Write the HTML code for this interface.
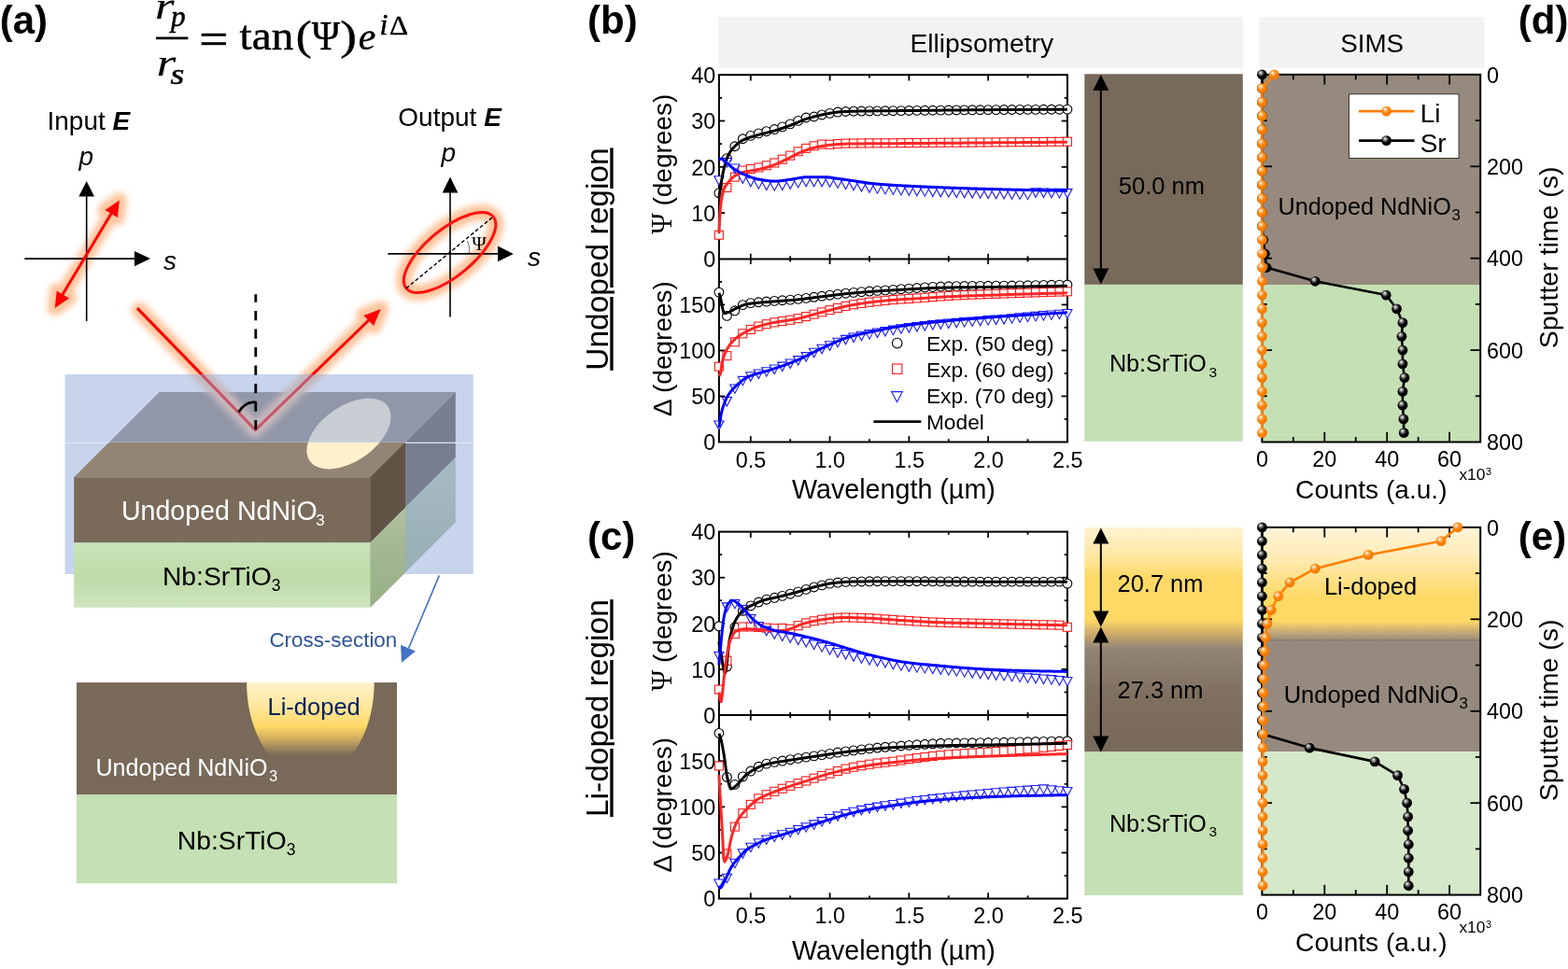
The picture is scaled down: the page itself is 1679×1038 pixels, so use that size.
<!DOCTYPE html>
<html><head><meta charset="utf-8"><title>Ellipsometry and SIMS of Li-doped NdNiO3</title>
<style>html,body{margin:0;padding:0;background:#fff;overflow:hidden}svg{display:block}</style></head>
<body><svg width="1679" height="1038" viewBox="0 0 1679 1038"><defs>
<filter id="glow" x="-30%" y="-30%" width="160%" height="160%"><feGaussianBlur stdDeviation="3.0"/></filter>
<linearGradient id="gfront" x1="0" y1="0" x2="0" y2="1">
 <stop offset="0" stop-color="#c9e3b9"/><stop offset="0.55" stop-color="#bedba8"/><stop offset="1" stop-color="#cfe6c0"/></linearGradient>
<linearGradient id="lig" gradientUnits="userSpaceOnUse" x1="0" y1="731" x2="0" y2="809">
 <stop offset="0" stop-color="#fff2cc"/><stop offset="0.35" stop-color="#ffe699"/><stop offset="0.6" stop-color="#ffd966"/><stop offset="0.8" stop-color="#c8a55e"/><stop offset="1" stop-color="#786959"/></linearGradient>
<linearGradient id="gblockc" gradientUnits="userSpaceOnUse" x1="0" y1="565" x2="0" y2="805.4">
 <stop offset="0" stop-color="#fff3d1"/><stop offset="0.12" stop-color="#ffe8a6"/><stop offset="0.22" stop-color="#ffd966"/><stop offset="0.41" stop-color="#ffd966"/><stop offset="0.48" stop-color="#c8a76a"/><stop offset="0.54" stop-color="#938576"/><stop offset="0.75" stop-color="#7e6f60"/><stop offset="1" stop-color="#776859"/></linearGradient>
<linearGradient id="gsimse" gradientUnits="userSpaceOnUse" x1="0" y1="564.9" x2="0" y2="685.8">
 <stop offset="0" stop-color="#fff4d9"/><stop offset="0.25" stop-color="#ffecb8"/><stop offset="0.5" stop-color="#ffdf80"/><stop offset="0.62" stop-color="#ffd966"/><stop offset="0.83" stop-color="#ffd966"/><stop offset="0.92" stop-color="#caae74"/><stop offset="1" stop-color="#9a8b7c"/></linearGradient>
<radialGradient id="gli" cx="0.42" cy="0.4" r="0.6" fx="0.35" fy="0.3">
 <stop offset="0" stop-color="#ffffff"/><stop offset="0.3" stop-color="#ffb366"/><stop offset="0.6" stop-color="#ff8000"/><stop offset="1" stop-color="#f07800"/></radialGradient>
<radialGradient id="gsr" cx="0.42" cy="0.4" r="0.6" fx="0.35" fy="0.3">
 <stop offset="0" stop-color="#ffffff"/><stop offset="0.3" stop-color="#777777"/><stop offset="0.6" stop-color="#000000"/><stop offset="1" stop-color="#000000"/></radialGradient>
<linearGradient id="gright" gradientUnits="userSpaceOnUse" x1="0" y1="520" x2="0" y2="650">
 <stop offset="0" stop-color="#b9c6a6"/><stop offset="0.45" stop-color="#a5b994"/><stop offset="1" stop-color="#97b086"/></linearGradient>
<clipPath id="frontclip"><polygon points="0,473.9 433.9,473.9 433.9,700 0,700"/></clipPath>
<clipPath id="ellclip_b"><rect x="769.3" y="80.2" width="373.3" height="393.3"/></clipPath>
</defs><text x="-0.30" y="35.80" font-size="42" text-anchor="start" fill="#000" font-weight="bold" font-style="normal" font-family="'Liberation Sans', Arial, sans-serif" >(a)</text>
<line x1="167.1" y1="40.8" x2="201.4" y2="40.8" stroke="#000" stroke-width="2.7"/>
<text transform="matrix(0.5370,0,0,0.4170,165.70,19.70)" font-size="100" font-family="'Liberation Serif', 'Times New Roman', serif" font-style="italic">r</text>
<text transform="matrix(0.3130,0,0,0.3160,183.00,27.70)" font-size="100" font-family="'Liberation Serif', 'Times New Roman', serif" font-style="italic" stroke="#000" stroke-width="1.8">p</text>
<text transform="matrix(0.5370,0,0,0.4170,167.50,81.00)" font-size="100" font-family="'Liberation Serif', 'Times New Roman', serif" font-style="italic">r</text>
<text transform="matrix(0.3800,0,0,0.3250,182.50,89.90)" font-size="100" font-family="'Liberation Serif', 'Times New Roman', serif" font-style="italic" stroke="#000" stroke-width="1.8">s</text>
<text transform="matrix(0.5530,0,0,0.4640,213.20,56.60)" font-size="100" font-family="'Liberation Serif', 'Times New Roman', serif" font-style="normal" stroke="#000" stroke-width="1.4">=</text>
<text transform="matrix(0.4725,0,0,0.4456,256.60,52.90)" font-size="100" font-family="'Liberation Serif', 'Times New Roman', serif" font-style="normal" stroke="#000" stroke-width="1.0">tan</text>
<text transform="matrix(0.5100,0,0,0.4400,316.80,53.30)" font-size="100" font-family="'Liberation Serif', 'Times New Roman', serif" font-style="normal" stroke="#000" stroke-width="1.0">(</text>
<text transform="matrix(0.4110,0,0,0.4350,333.80,53.30)" font-size="100" font-family="'Liberation Serif', 'Times New Roman', serif" font-style="normal" stroke="#000" stroke-width="1.0">&#936;</text>
<text transform="matrix(0.5300,0,0,0.4400,364.20,53.30)" font-size="100" font-family="'Liberation Serif', 'Times New Roman', serif" font-style="normal" stroke="#000" stroke-width="1.0">)</text>
<text transform="matrix(0.4180,0,0,0.4100,383.70,53.40)" font-size="100" font-family="'Liberation Serif', 'Times New Roman', serif" font-style="italic" stroke="#000" stroke-width="1.0">e</text>
<text transform="matrix(0.3200,0,0,0.3200,406.40,37.20)" font-size="100" font-family="'Liberation Serif', 'Times New Roman', serif" font-style="italic" stroke="#000" stroke-width="1.5">i</text>
<text transform="matrix(0.3120,0,0,0.2940,417.00,37.20)" font-size="100" font-family="'Liberation Serif', 'Times New Roman', serif" font-style="normal" stroke="#000" stroke-width="1.5">&#916;</text>
<text x="50.50" y="139.30" font-size="28" text-anchor="start" fill="#000" font-weight="normal" font-style="normal" font-family="'Liberation Sans', Arial, sans-serif" >Input <tspan font-weight="bold" font-style="italic">E</tspan></text>
<g filter="url(#glow)" stroke="#ffc59e" fill="#ffc59e" stroke-width="16" stroke-linejoin="round" stroke-linecap="round"><line x1="62" y1="324" x2="125" y2="220"/><polygon points="127.90,214.40 125.83,232.97 112.52,225.01"/><polygon points="58.70,330.10 60.77,311.53 74.08,319.49"/></g>
<line x1="92.7" y1="208" x2="92.7" y2="344" stroke="#000" stroke-width="1.6"/>
<polygon points="92.7,194 84.4,210.5 101,210.5" fill="#000"/>
<line x1="26.3" y1="277.1" x2="146" y2="277.1" stroke="#000" stroke-width="1.6"/>
<polygon points="161,277.1 144,269 144,285.2" fill="#000"/>
<text x="84.50" y="177.00" font-size="28" text-anchor="start" fill="#000" font-weight="normal" font-style="italic" font-family="'Liberation Sans', Arial, sans-serif" >p</text>
<text x="175.00" y="288.60" font-size="28" text-anchor="start" fill="#000" font-weight="normal" font-style="italic" font-family="'Liberation Sans', Arial, sans-serif" >s</text>
<line x1="64" y1="320.5" x2="122" y2="224" stroke="#ff0000" stroke-width="3"/>
<polygon points="127.90,214.40 125.83,232.97 112.52,225.01" fill="#ff0000"/>
<polygon points="58.70,330.10 60.77,311.53 74.08,319.49" fill="#ff0000"/>
<text x="426.30" y="134.80" font-size="28" text-anchor="start" fill="#000" font-weight="normal" font-style="normal" font-family="'Liberation Sans', Arial, sans-serif" >Output <tspan font-weight="bold" font-style="italic">E</tspan></text>
<g filter="url(#glow)"><ellipse cx="481.6" cy="270.5" rx="60.3" ry="25" transform="rotate(-39.5 481.6 270.5)" fill="none" stroke="#ffc59e" stroke-width="17"/></g>
<line x1="482" y1="205" x2="482" y2="339.5" stroke="#000" stroke-width="1.6"/>
<polygon points="482,189.6 473.7,206.4 490.3,206.4" fill="#000"/>
<line x1="415.3" y1="271.9" x2="535" y2="271.9" stroke="#000" stroke-width="1.6"/>
<polygon points="549.8,271.9 533,263.6 533,280.2" fill="#000"/>
<ellipse cx="481.6" cy="270.5" rx="60.3" ry="25" transform="rotate(-39.5 481.6 270.5)" fill="none" stroke="#ff1010" stroke-width="3"/>
<line x1="434.9" y1="308.9" x2="528.2" y2="232" stroke="#000" stroke-width="1.4" stroke-dasharray="4,2.4"/>
<path d="M 500.5 258.5 A 20 20 0 0 1 502 272" fill="none" stroke="#000" stroke-width="1.2" stroke-dasharray="1,1.3"/>
<text x="505.30" y="267.80" font-size="21" text-anchor="start" fill="#000" font-weight="normal" font-style="normal" font-family="'Liberation Serif', 'Times New Roman', serif" >&#936;</text>
<text x="472.50" y="172.60" font-size="28" text-anchor="start" fill="#000" font-weight="normal" font-style="italic" font-family="'Liberation Sans', Arial, sans-serif" >p</text>
<text x="565.00" y="284.60" font-size="28" text-anchor="start" fill="#000" font-weight="normal" font-style="italic" font-family="'Liberation Sans', Arial, sans-serif" >s</text>
<g><polygon points="79.2,511.4 396.3,511.4 487.8,420.1 170.6,420.1" fill="#938576"/><polygon points="396.3,511.4 487.8,420.1 487.8,490 396.3,581.3" fill="#605345"/><polygon points="396.3,581.3 487.8,490 487.8,559.6 396.3,650.8" fill="url(#gright)"/><ellipse cx="373.5" cy="464.5" rx="51" ry="29.5" transform="rotate(-35 373.5 464.5)" fill="#fff0cc"/></g>
<g filter="url(#glow)" stroke="#ffc59e" fill="none" stroke-width="17" stroke-linejoin="round" stroke-linecap="round"><polyline points="149,332 273.4,460.5 401.5,336.5"/><g fill="#ffc59e"><polygon points="407.80,331.00 400.22,349.07 389.46,337.91"/></g></g>
<polyline points="147,330.2 273.4,460.5 397.5,340.5" fill="none" stroke="#ff0000" stroke-width="3.1"/>
<polygon points="407.80,331.00 400.22,349.07 389.46,337.91" fill="#ff0000"/>
<rect x="69.5" y="401" width="437.3" height="214" fill="#8fa9d9" fill-opacity="0.5"/>
<line x1="69.5" y1="474.4" x2="506.8" y2="474.4" stroke="#dfe6f3" stroke-width="1.2"/>
<g clip-path="url(#frontclip)"><polygon points="79.2,511.4 396.3,511.4 487.8,420.1 170.6,420.1" fill="#938576"/><polygon points="396.3,511.4 487.8,420.1 487.8,490 396.3,581.3" fill="#605345"/><polygon points="396.3,581.3 487.8,490 487.8,559.6 396.3,650.8" fill="url(#gright)"/><ellipse cx="373.5" cy="464.5" rx="51" ry="29.5" transform="rotate(-35 373.5 464.5)" fill="#fff0cc"/></g>
<line x1="273.8" y1="460.3" x2="273.8" y2="315.3" stroke="#000" stroke-width="2.8" stroke-dasharray="10.4,9.1"/>
<path d="M 255.6 441.4 Q 262 431.2 271 430.9 L 274.5 430.9" fill="none" stroke="#000" stroke-width="2.8"/>
<rect x="79.2" y="511.4" width="317.1" height="70" fill="#7a6a5a"/>
<rect x="79.2" y="581.3" width="317.1" height="69.5" fill="url(#gfront)"/>
<text x="129.90" y="556.70" font-size="28.6" text-anchor="start" fill="#fff" font-weight="normal" font-style="normal" font-family="'Liberation Sans', Arial, sans-serif" >Undoped NdNiO<tspan font-size="17" dy="6.2" dx="-1.5">3</tspan></text>
<text x="173.90" y="626.70" font-size="28.3" text-anchor="start" fill="#000" font-weight="normal" font-style="normal" font-family="'Liberation Sans', Arial, sans-serif" >Nb:SrTiO<tspan font-size="17.5" dy="6.3">3</tspan></text>
<line x1="470.4" y1="616.4" x2="437.5" y2="694.5" stroke="#4472c4" stroke-width="1.6"/>
<polygon points="430.1,709.7 429.0,690.8 445.0,697.5" fill="#4472c4"/>
<text x="288.40" y="692.90" font-size="22.4" text-anchor="start" fill="#2f5597" font-weight="normal" font-style="normal" font-family="'Liberation Sans', Arial, sans-serif" >Cross-section</text>
<rect x="82" y="731.1" width="343" height="120.3" fill="#786959"/>
<rect x="82" y="851.4" width="343" height="94.8" fill="#c5e0b4"/>
<path d="M 264.1 731.1 A 68.3 102 0 0 0 400.7 731.1 Z" fill="url(#lig)"/>
<text x="286.50" y="766.20" font-size="25.5" text-anchor="start" fill="#002060" font-weight="normal" font-style="normal" font-family="'Liberation Sans', Arial, sans-serif" >Li-doped</text>
<text x="102.40" y="831.30" font-size="25.1" text-anchor="start" fill="#fff" font-weight="normal" font-style="normal" font-family="'Liberation Sans', Arial, sans-serif" >Undoped NdNiO<tspan font-size="16" dy="5.2" dx="1.6">3</tspan></text>
<text x="189.80" y="909.80" font-size="28.3" text-anchor="start" fill="#000" font-weight="normal" font-style="normal" font-family="'Liberation Sans', Arial, sans-serif" >Nb:SrTiO<tspan font-size="17.5" dy="6.4">3</tspan></text>
<rect x="769.2" y="18.3" width="561.6" height="54.5" fill="#f2f2f2"/>
<rect x="1348.3" y="18.3" width="241.2" height="54.5" fill="#f2f2f2"/>
<text x="1051.30" y="56.10" font-size="28.2" text-anchor="middle" fill="#000" font-weight="normal" font-style="normal" font-family="'Liberation Sans', Arial, sans-serif" >Ellipsometry</text>
<text x="1469.20" y="56.30" font-size="27.8" text-anchor="middle" fill="#000" font-weight="normal" font-style="normal" font-family="'Liberation Sans', Arial, sans-serif" >SIMS</text>
<rect x="1161.3" y="79.3" width="169.5" height="225.6" fill="#786a5a"/>
<rect x="1161.3" y="304.9" width="169.5" height="167.8" fill="#c5e0b4"/>
<rect x="1161.3" y="565" width="169.5" height="240.4" fill="url(#gblockc)"/>
<rect x="1161.3" y="805.4" width="169.5" height="153.6" fill="#c5e0b4"/>
<line x1="1178.8" y1="94" x2="1178.8" y2="290.5" stroke="#000" stroke-width="2"/>
<polygon points="1178.8,80 1170.3,97 1187.3,97" fill="#000"/>
<polygon points="1178.8,304.5 1170.3,287.5 1187.3,287.5" fill="#000"/>
<line x1="1178.8" y1="579.5" x2="1178.8" y2="657.4" stroke="#000" stroke-width="2"/>
<polygon points="1178.8,565.5 1170.3,582.5 1187.3,582.5" fill="#000"/>
<polygon points="1178.8,671.4 1170.3,654.4 1187.3,654.4" fill="#000"/>
<line x1="1178.8" y1="685.4" x2="1178.8" y2="791.4" stroke="#000" stroke-width="2"/>
<polygon points="1178.8,671.4 1170.3,688.4 1187.3,688.4" fill="#000"/>
<polygon points="1178.8,805.4 1170.3,788.4 1187.3,788.4" fill="#000"/>
<text x="1197.80" y="207.70" font-size="25.5" text-anchor="start" fill="#000" font-weight="normal" font-style="normal" font-family="'Liberation Sans', Arial, sans-serif" >50.0 nm</text>
<text x="1196.60" y="633.90" font-size="25.4" text-anchor="start" fill="#000" font-weight="normal" font-style="normal" font-family="'Liberation Sans', Arial, sans-serif" >20.7 nm</text>
<text x="1196.60" y="747.80" font-size="25.4" text-anchor="start" fill="#000" font-weight="normal" font-style="normal" font-family="'Liberation Sans', Arial, sans-serif" >27.3 nm</text>
<rect x="769.90" y="80.20" width="373.00" height="393.30" fill="none" stroke="#000" stroke-width="2.0"/>
<line x1="769.90" y1="277.40" x2="1142.90" y2="277.40" stroke="#000" stroke-width="2.0"/>
<line x1="803.81" y1="80.20" x2="803.81" y2="86.50" stroke="#000" stroke-width="1.8"/>
<line x1="803.81" y1="473.50" x2="803.81" y2="467.20" stroke="#000" stroke-width="1.8"/>
<line x1="803.81" y1="271.80" x2="803.81" y2="283.00" stroke="#000" stroke-width="1.8"/>
<line x1="846.20" y1="80.20" x2="846.20" y2="83.40" stroke="#000" stroke-width="1.8"/>
<line x1="846.20" y1="473.50" x2="846.20" y2="470.30" stroke="#000" stroke-width="1.8"/>
<line x1="846.20" y1="274.30" x2="846.20" y2="280.50" stroke="#000" stroke-width="1.8"/>
<line x1="888.58" y1="80.20" x2="888.58" y2="86.50" stroke="#000" stroke-width="1.8"/>
<line x1="888.58" y1="473.50" x2="888.58" y2="467.20" stroke="#000" stroke-width="1.8"/>
<line x1="888.58" y1="271.80" x2="888.58" y2="283.00" stroke="#000" stroke-width="1.8"/>
<line x1="930.97" y1="80.20" x2="930.97" y2="83.40" stroke="#000" stroke-width="1.8"/>
<line x1="930.97" y1="473.50" x2="930.97" y2="470.30" stroke="#000" stroke-width="1.8"/>
<line x1="930.97" y1="274.30" x2="930.97" y2="280.50" stroke="#000" stroke-width="1.8"/>
<line x1="973.35" y1="80.20" x2="973.35" y2="86.50" stroke="#000" stroke-width="1.8"/>
<line x1="973.35" y1="473.50" x2="973.35" y2="467.20" stroke="#000" stroke-width="1.8"/>
<line x1="973.35" y1="271.80" x2="973.35" y2="283.00" stroke="#000" stroke-width="1.8"/>
<line x1="1015.74" y1="80.20" x2="1015.74" y2="83.40" stroke="#000" stroke-width="1.8"/>
<line x1="1015.74" y1="473.50" x2="1015.74" y2="470.30" stroke="#000" stroke-width="1.8"/>
<line x1="1015.74" y1="274.30" x2="1015.74" y2="280.50" stroke="#000" stroke-width="1.8"/>
<line x1="1058.13" y1="80.20" x2="1058.13" y2="86.50" stroke="#000" stroke-width="1.8"/>
<line x1="1058.13" y1="473.50" x2="1058.13" y2="467.20" stroke="#000" stroke-width="1.8"/>
<line x1="1058.13" y1="271.80" x2="1058.13" y2="283.00" stroke="#000" stroke-width="1.8"/>
<line x1="1100.51" y1="80.20" x2="1100.51" y2="83.40" stroke="#000" stroke-width="1.8"/>
<line x1="1100.51" y1="473.50" x2="1100.51" y2="470.30" stroke="#000" stroke-width="1.8"/>
<line x1="1100.51" y1="274.30" x2="1100.51" y2="280.50" stroke="#000" stroke-width="1.8"/>
<line x1="769.90" y1="252.75" x2="773.10" y2="252.75" stroke="#000" stroke-width="1.8"/>
<line x1="1142.90" y1="252.75" x2="1139.70" y2="252.75" stroke="#000" stroke-width="1.8"/>
<line x1="769.90" y1="228.10" x2="776.20" y2="228.10" stroke="#000" stroke-width="1.8"/>
<line x1="1142.90" y1="228.10" x2="1136.60" y2="228.10" stroke="#000" stroke-width="1.8"/>
<line x1="769.90" y1="203.45" x2="773.10" y2="203.45" stroke="#000" stroke-width="1.8"/>
<line x1="1142.90" y1="203.45" x2="1139.70" y2="203.45" stroke="#000" stroke-width="1.8"/>
<line x1="769.90" y1="178.80" x2="776.20" y2="178.80" stroke="#000" stroke-width="1.8"/>
<line x1="1142.90" y1="178.80" x2="1136.60" y2="178.80" stroke="#000" stroke-width="1.8"/>
<line x1="769.90" y1="154.15" x2="773.10" y2="154.15" stroke="#000" stroke-width="1.8"/>
<line x1="1142.90" y1="154.15" x2="1139.70" y2="154.15" stroke="#000" stroke-width="1.8"/>
<line x1="769.90" y1="129.50" x2="776.20" y2="129.50" stroke="#000" stroke-width="1.8"/>
<line x1="1142.90" y1="129.50" x2="1136.60" y2="129.50" stroke="#000" stroke-width="1.8"/>
<line x1="769.90" y1="104.85" x2="773.10" y2="104.85" stroke="#000" stroke-width="1.8"/>
<line x1="1142.90" y1="104.85" x2="1139.70" y2="104.85" stroke="#000" stroke-width="1.8"/>
<line x1="769.90" y1="448.99" x2="773.10" y2="448.99" stroke="#000" stroke-width="1.8"/>
<line x1="1142.90" y1="448.99" x2="1139.70" y2="448.99" stroke="#000" stroke-width="1.8"/>
<line x1="769.90" y1="424.48" x2="776.20" y2="424.48" stroke="#000" stroke-width="1.8"/>
<line x1="1142.90" y1="424.48" x2="1136.60" y2="424.48" stroke="#000" stroke-width="1.8"/>
<line x1="769.90" y1="399.96" x2="773.10" y2="399.96" stroke="#000" stroke-width="1.8"/>
<line x1="1142.90" y1="399.96" x2="1139.70" y2="399.96" stroke="#000" stroke-width="1.8"/>
<line x1="769.90" y1="375.45" x2="776.20" y2="375.45" stroke="#000" stroke-width="1.8"/>
<line x1="1142.90" y1="375.45" x2="1136.60" y2="375.45" stroke="#000" stroke-width="1.8"/>
<line x1="769.90" y1="350.94" x2="773.10" y2="350.94" stroke="#000" stroke-width="1.8"/>
<line x1="1142.90" y1="350.94" x2="1139.70" y2="350.94" stroke="#000" stroke-width="1.8"/>
<line x1="769.90" y1="326.42" x2="776.20" y2="326.42" stroke="#000" stroke-width="1.8"/>
<line x1="1142.90" y1="326.42" x2="1136.60" y2="326.42" stroke="#000" stroke-width="1.8"/>
<line x1="769.90" y1="301.91" x2="773.10" y2="301.91" stroke="#000" stroke-width="1.8"/>
<line x1="1142.90" y1="301.91" x2="1139.70" y2="301.91" stroke="#000" stroke-width="1.8"/>
<text x="766.30" y="286.10" font-size="23.4" text-anchor="end" fill="#000" font-weight="normal" font-style="normal" font-family="'Liberation Sans', Arial, sans-serif" >0</text>
<text x="766.30" y="236.80" font-size="23.4" text-anchor="end" fill="#000" font-weight="normal" font-style="normal" font-family="'Liberation Sans', Arial, sans-serif" >10</text>
<text x="766.30" y="187.50" font-size="23.4" text-anchor="end" fill="#000" font-weight="normal" font-style="normal" font-family="'Liberation Sans', Arial, sans-serif" >20</text>
<text x="766.30" y="138.20" font-size="23.4" text-anchor="end" fill="#000" font-weight="normal" font-style="normal" font-family="'Liberation Sans', Arial, sans-serif" >30</text>
<text x="766.30" y="88.90" font-size="23.4" text-anchor="end" fill="#000" font-weight="normal" font-style="normal" font-family="'Liberation Sans', Arial, sans-serif" >40</text>
<text x="766.30" y="482.20" font-size="23.4" text-anchor="end" fill="#000" font-weight="normal" font-style="normal" font-family="'Liberation Sans', Arial, sans-serif" >0</text>
<text x="766.30" y="433.18" font-size="23.4" text-anchor="end" fill="#000" font-weight="normal" font-style="normal" font-family="'Liberation Sans', Arial, sans-serif" >50</text>
<text x="766.30" y="384.15" font-size="23.4" text-anchor="end" fill="#000" font-weight="normal" font-style="normal" font-family="'Liberation Sans', Arial, sans-serif" >100</text>
<text x="766.30" y="335.12" font-size="23.4" text-anchor="end" fill="#000" font-weight="normal" font-style="normal" font-family="'Liberation Sans', Arial, sans-serif" >150</text>
<text x="804.11" y="500.80" font-size="23.4" text-anchor="middle" fill="#000" font-weight="normal" font-style="normal" font-family="'Liberation Sans', Arial, sans-serif" >0.5</text>
<text x="888.88" y="500.80" font-size="23.4" text-anchor="middle" fill="#000" font-weight="normal" font-style="normal" font-family="'Liberation Sans', Arial, sans-serif" >1.0</text>
<text x="973.65" y="500.80" font-size="23.4" text-anchor="middle" fill="#000" font-weight="normal" font-style="normal" font-family="'Liberation Sans', Arial, sans-serif" >1.5</text>
<text x="1058.43" y="500.80" font-size="23.4" text-anchor="middle" fill="#000" font-weight="normal" font-style="normal" font-family="'Liberation Sans', Arial, sans-serif" >2.0</text>
<text x="1143.20" y="500.80" font-size="23.4" text-anchor="middle" fill="#000" font-weight="normal" font-style="normal" font-family="'Liberation Sans', Arial, sans-serif" >2.5</text>
<text x="956.90" y="534.30" font-size="28.7" text-anchor="middle" fill="#000" font-weight="normal" font-style="normal" font-family="'Liberation Sans', Arial, sans-serif" >Wavelength (&#181;m)</text>
<text transform="translate(719.2,175.80) rotate(-90)" text-anchor="middle" font-size="28" font-family="'Liberation Sans', Arial, sans-serif"><tspan font-family="'Liberation Serif', 'Times New Roman', serif" font-size="30.5">&#936;</tspan> (degrees)</text>
<text transform="translate(719.2,373.50) rotate(-90)" text-anchor="middle" font-size="28" font-family="'Liberation Sans', Arial, sans-serif">&#916; (degrees)</text>
<circle cx="769.90" cy="206.90" r="4.90" fill="#fff" stroke="#000" stroke-width="1.1"/>
<circle cx="778.38" cy="169.69" r="4.90" fill="#fff" stroke="#000" stroke-width="1.1"/>
<circle cx="786.85" cy="156.77" r="4.90" fill="#fff" stroke="#000" stroke-width="1.1"/>
<circle cx="795.33" cy="148.73" r="4.90" fill="#fff" stroke="#000" stroke-width="1.1"/>
<circle cx="803.81" cy="145.38" r="4.90" fill="#fff" stroke="#000" stroke-width="1.1"/>
<circle cx="812.29" cy="142.91" r="4.90" fill="#fff" stroke="#000" stroke-width="1.1"/>
<circle cx="820.76" cy="140.71" r="4.90" fill="#fff" stroke="#000" stroke-width="1.1"/>
<circle cx="829.24" cy="138.57" r="4.90" fill="#fff" stroke="#000" stroke-width="1.1"/>
<circle cx="837.72" cy="135.87" r="4.90" fill="#fff" stroke="#000" stroke-width="1.1"/>
<circle cx="846.20" cy="132.83" r="4.90" fill="#fff" stroke="#000" stroke-width="1.1"/>
<circle cx="854.67" cy="129.39" r="4.90" fill="#fff" stroke="#000" stroke-width="1.1"/>
<circle cx="863.15" cy="126.00" r="4.90" fill="#fff" stroke="#000" stroke-width="1.1"/>
<circle cx="871.63" cy="124.98" r="4.90" fill="#fff" stroke="#000" stroke-width="1.1"/>
<circle cx="880.10" cy="122.97" r="4.90" fill="#fff" stroke="#000" stroke-width="1.1"/>
<circle cx="888.58" cy="121.33" r="4.90" fill="#fff" stroke="#000" stroke-width="1.1"/>
<circle cx="897.06" cy="120.07" r="4.90" fill="#fff" stroke="#000" stroke-width="1.1"/>
<circle cx="905.54" cy="119.52" r="4.90" fill="#fff" stroke="#000" stroke-width="1.1"/>
<circle cx="914.01" cy="119.21" r="4.90" fill="#fff" stroke="#000" stroke-width="1.1"/>
<circle cx="922.49" cy="119.04" r="4.90" fill="#fff" stroke="#000" stroke-width="1.1"/>
<circle cx="930.97" cy="118.93" r="4.90" fill="#fff" stroke="#000" stroke-width="1.1"/>
<circle cx="939.45" cy="118.84" r="4.90" fill="#fff" stroke="#000" stroke-width="1.1"/>
<circle cx="947.92" cy="118.77" r="4.90" fill="#fff" stroke="#000" stroke-width="1.1"/>
<circle cx="956.40" cy="118.69" r="4.90" fill="#fff" stroke="#000" stroke-width="1.1"/>
<circle cx="964.88" cy="118.60" r="4.90" fill="#fff" stroke="#000" stroke-width="1.1"/>
<circle cx="973.35" cy="118.51" r="4.90" fill="#fff" stroke="#000" stroke-width="1.1"/>
<circle cx="981.83" cy="118.41" r="4.90" fill="#fff" stroke="#000" stroke-width="1.1"/>
<circle cx="990.31" cy="118.32" r="4.90" fill="#fff" stroke="#000" stroke-width="1.1"/>
<circle cx="998.79" cy="118.23" r="4.90" fill="#fff" stroke="#000" stroke-width="1.1"/>
<circle cx="1007.26" cy="118.14" r="4.90" fill="#fff" stroke="#000" stroke-width="1.1"/>
<circle cx="1015.74" cy="118.05" r="4.90" fill="#fff" stroke="#000" stroke-width="1.1"/>
<circle cx="1024.22" cy="117.96" r="4.90" fill="#fff" stroke="#000" stroke-width="1.1"/>
<circle cx="1032.70" cy="117.88" r="4.90" fill="#fff" stroke="#000" stroke-width="1.1"/>
<circle cx="1041.17" cy="117.80" r="4.90" fill="#fff" stroke="#000" stroke-width="1.1"/>
<circle cx="1049.65" cy="117.73" r="4.90" fill="#fff" stroke="#000" stroke-width="1.1"/>
<circle cx="1058.13" cy="117.67" r="4.90" fill="#fff" stroke="#000" stroke-width="1.1"/>
<circle cx="1066.60" cy="117.61" r="4.90" fill="#fff" stroke="#000" stroke-width="1.1"/>
<circle cx="1075.08" cy="117.55" r="4.90" fill="#fff" stroke="#000" stroke-width="1.1"/>
<circle cx="1083.56" cy="117.50" r="4.90" fill="#fff" stroke="#000" stroke-width="1.1"/>
<circle cx="1092.04" cy="117.45" r="4.90" fill="#fff" stroke="#000" stroke-width="1.1"/>
<circle cx="1100.51" cy="117.41" r="4.90" fill="#fff" stroke="#000" stroke-width="1.1"/>
<circle cx="1108.99" cy="117.36" r="4.90" fill="#fff" stroke="#000" stroke-width="1.1"/>
<circle cx="1117.47" cy="117.31" r="4.90" fill="#fff" stroke="#000" stroke-width="1.1"/>
<circle cx="1125.95" cy="117.27" r="4.90" fill="#fff" stroke="#000" stroke-width="1.1"/>
<circle cx="1134.42" cy="117.22" r="4.90" fill="#fff" stroke="#000" stroke-width="1.1"/>
<circle cx="1142.90" cy="117.17" r="4.90" fill="#fff" stroke="#000" stroke-width="1.1"/>
<rect x="765.40" y="247.26" width="9.00" height="9.00" fill="#fff" stroke="#ff1a1a" stroke-width="1.1"/>
<rect x="773.88" y="196.48" width="9.00" height="9.00" fill="#fff" stroke="#ff1a1a" stroke-width="1.1"/>
<rect x="782.35" y="185.15" width="9.00" height="9.00" fill="#fff" stroke="#ff1a1a" stroke-width="1.1"/>
<rect x="790.83" y="178.11" width="9.00" height="9.00" fill="#fff" stroke="#ff1a1a" stroke-width="1.1"/>
<rect x="799.31" y="176.51" width="9.00" height="9.00" fill="#fff" stroke="#ff1a1a" stroke-width="1.1"/>
<rect x="807.79" y="174.98" width="9.00" height="9.00" fill="#fff" stroke="#ff1a1a" stroke-width="1.1"/>
<rect x="816.26" y="172.77" width="9.00" height="9.00" fill="#fff" stroke="#ff1a1a" stroke-width="1.1"/>
<rect x="824.74" y="169.98" width="9.00" height="9.00" fill="#fff" stroke="#ff1a1a" stroke-width="1.1"/>
<rect x="833.22" y="166.26" width="9.00" height="9.00" fill="#fff" stroke="#ff1a1a" stroke-width="1.1"/>
<rect x="841.70" y="162.18" width="9.00" height="9.00" fill="#fff" stroke="#ff1a1a" stroke-width="1.1"/>
<rect x="850.17" y="157.76" width="9.00" height="9.00" fill="#fff" stroke="#ff1a1a" stroke-width="1.1"/>
<rect x="858.65" y="154.38" width="9.00" height="9.00" fill="#fff" stroke="#ff1a1a" stroke-width="1.1"/>
<rect x="867.13" y="151.79" width="9.00" height="9.00" fill="#fff" stroke="#ff1a1a" stroke-width="1.1"/>
<rect x="875.60" y="150.05" width="9.00" height="9.00" fill="#fff" stroke="#ff1a1a" stroke-width="1.1"/>
<rect x="884.08" y="150.31" width="9.00" height="9.00" fill="#fff" stroke="#ff1a1a" stroke-width="1.1"/>
<rect x="892.56" y="149.56" width="9.00" height="9.00" fill="#fff" stroke="#ff1a1a" stroke-width="1.1"/>
<rect x="901.04" y="149.15" width="9.00" height="9.00" fill="#fff" stroke="#ff1a1a" stroke-width="1.1"/>
<rect x="909.51" y="149.02" width="9.00" height="9.00" fill="#fff" stroke="#ff1a1a" stroke-width="1.1"/>
<rect x="917.99" y="148.92" width="9.00" height="9.00" fill="#fff" stroke="#ff1a1a" stroke-width="1.1"/>
<rect x="926.47" y="148.85" width="9.00" height="9.00" fill="#fff" stroke="#ff1a1a" stroke-width="1.1"/>
<rect x="934.95" y="148.80" width="9.00" height="9.00" fill="#fff" stroke="#ff1a1a" stroke-width="1.1"/>
<rect x="943.42" y="148.75" width="9.00" height="9.00" fill="#fff" stroke="#ff1a1a" stroke-width="1.1"/>
<rect x="951.90" y="148.69" width="9.00" height="9.00" fill="#fff" stroke="#ff1a1a" stroke-width="1.1"/>
<rect x="960.38" y="148.62" width="9.00" height="9.00" fill="#fff" stroke="#ff1a1a" stroke-width="1.1"/>
<rect x="968.85" y="148.56" width="9.00" height="9.00" fill="#fff" stroke="#ff1a1a" stroke-width="1.1"/>
<rect x="977.33" y="148.49" width="9.00" height="9.00" fill="#fff" stroke="#ff1a1a" stroke-width="1.1"/>
<rect x="985.81" y="148.43" width="9.00" height="9.00" fill="#fff" stroke="#ff1a1a" stroke-width="1.1"/>
<rect x="994.29" y="148.37" width="9.00" height="9.00" fill="#fff" stroke="#ff1a1a" stroke-width="1.1"/>
<rect x="1002.76" y="148.30" width="9.00" height="9.00" fill="#fff" stroke="#ff1a1a" stroke-width="1.1"/>
<rect x="1011.24" y="148.24" width="9.00" height="9.00" fill="#fff" stroke="#ff1a1a" stroke-width="1.1"/>
<rect x="1019.72" y="148.18" width="9.00" height="9.00" fill="#fff" stroke="#ff1a1a" stroke-width="1.1"/>
<rect x="1028.20" y="148.12" width="9.00" height="9.00" fill="#fff" stroke="#ff1a1a" stroke-width="1.1"/>
<rect x="1036.67" y="148.06" width="9.00" height="9.00" fill="#fff" stroke="#ff1a1a" stroke-width="1.1"/>
<rect x="1045.15" y="147.99" width="9.00" height="9.00" fill="#fff" stroke="#ff1a1a" stroke-width="1.1"/>
<rect x="1053.63" y="147.92" width="9.00" height="9.00" fill="#fff" stroke="#ff1a1a" stroke-width="1.1"/>
<rect x="1062.10" y="147.85" width="9.00" height="9.00" fill="#fff" stroke="#ff1a1a" stroke-width="1.1"/>
<rect x="1070.58" y="147.78" width="9.00" height="9.00" fill="#fff" stroke="#ff1a1a" stroke-width="1.1"/>
<rect x="1079.06" y="147.71" width="9.00" height="9.00" fill="#fff" stroke="#ff1a1a" stroke-width="1.1"/>
<rect x="1087.54" y="147.64" width="9.00" height="9.00" fill="#fff" stroke="#ff1a1a" stroke-width="1.1"/>
<rect x="1096.01" y="147.56" width="9.00" height="9.00" fill="#fff" stroke="#ff1a1a" stroke-width="1.1"/>
<rect x="1104.49" y="147.49" width="9.00" height="9.00" fill="#fff" stroke="#ff1a1a" stroke-width="1.1"/>
<rect x="1112.97" y="147.41" width="9.00" height="9.00" fill="#fff" stroke="#ff1a1a" stroke-width="1.1"/>
<rect x="1121.45" y="147.33" width="9.00" height="9.00" fill="#fff" stroke="#ff1a1a" stroke-width="1.1"/>
<rect x="1129.92" y="147.26" width="9.00" height="9.00" fill="#fff" stroke="#ff1a1a" stroke-width="1.1"/>
<rect x="1138.40" y="147.19" width="9.00" height="9.00" fill="#fff" stroke="#ff1a1a" stroke-width="1.1"/>
<polygon points="764.80,188.80 775.00,188.80 769.90,198.30" fill="#fff" stroke="#1a1aff" stroke-width="1.1"/>
<polygon points="773.28,169.57 783.48,169.57 778.38,179.07" fill="#fff" stroke="#1a1aff" stroke-width="1.1"/>
<polygon points="781.75,175.98 791.95,175.98 786.85,185.48" fill="#fff" stroke="#1a1aff" stroke-width="1.1"/>
<polygon points="790.23,186.82 800.43,186.82 795.33,196.32" fill="#fff" stroke="#1a1aff" stroke-width="1.1"/>
<polygon points="798.71,190.29 808.91,190.29 803.81,199.79" fill="#fff" stroke="#1a1aff" stroke-width="1.1"/>
<polygon points="807.19,192.68 817.39,192.68 812.29,202.18" fill="#fff" stroke="#1a1aff" stroke-width="1.1"/>
<polygon points="815.66,194.03 825.86,194.03 820.76,203.53" fill="#fff" stroke="#1a1aff" stroke-width="1.1"/>
<polygon points="824.14,194.71 834.34,194.71 829.24,204.21" fill="#fff" stroke="#1a1aff" stroke-width="1.1"/>
<polygon points="832.62,194.12 842.82,194.12 837.72,203.62" fill="#fff" stroke="#1a1aff" stroke-width="1.1"/>
<polygon points="841.10,192.87 851.30,192.87 846.20,202.37" fill="#fff" stroke="#1a1aff" stroke-width="1.1"/>
<polygon points="849.57,191.46 859.77,191.46 854.67,200.96" fill="#fff" stroke="#1a1aff" stroke-width="1.1"/>
<polygon points="858.05,190.31 868.25,190.31 863.15,199.81" fill="#fff" stroke="#1a1aff" stroke-width="1.1"/>
<polygon points="866.53,190.28 876.73,190.28 871.63,199.78" fill="#fff" stroke="#1a1aff" stroke-width="1.1"/>
<polygon points="875.00,190.28 885.20,190.28 880.10,199.78" fill="#fff" stroke="#1a1aff" stroke-width="1.1"/>
<polygon points="883.48,190.72 893.68,190.72 888.58,200.22" fill="#fff" stroke="#1a1aff" stroke-width="1.1"/>
<polygon points="891.96,191.95 902.16,191.95 897.06,201.45" fill="#fff" stroke="#1a1aff" stroke-width="1.1"/>
<polygon points="900.44,193.10 910.64,193.10 905.54,202.60" fill="#fff" stroke="#1a1aff" stroke-width="1.1"/>
<polygon points="908.91,194.35 919.11,194.35 914.01,203.85" fill="#fff" stroke="#1a1aff" stroke-width="1.1"/>
<polygon points="917.39,195.61 927.59,195.61 922.49,205.11" fill="#fff" stroke="#1a1aff" stroke-width="1.1"/>
<polygon points="925.87,196.85 936.07,196.85 930.97,206.35" fill="#fff" stroke="#1a1aff" stroke-width="1.1"/>
<polygon points="934.35,197.71 944.55,197.71 939.45,207.21" fill="#fff" stroke="#1a1aff" stroke-width="1.1"/>
<polygon points="942.82,198.39 953.02,198.39 947.92,207.89" fill="#fff" stroke="#1a1aff" stroke-width="1.1"/>
<polygon points="951.30,198.95 961.50,198.95 956.40,208.45" fill="#fff" stroke="#1a1aff" stroke-width="1.1"/>
<polygon points="959.78,199.43 969.98,199.43 964.88,208.93" fill="#fff" stroke="#1a1aff" stroke-width="1.1"/>
<polygon points="968.25,199.87 978.45,199.87 973.35,209.37" fill="#fff" stroke="#1a1aff" stroke-width="1.1"/>
<polygon points="976.73,200.28 986.93,200.28 981.83,209.78" fill="#fff" stroke="#1a1aff" stroke-width="1.1"/>
<polygon points="985.21,200.67 995.41,200.67 990.31,210.17" fill="#fff" stroke="#1a1aff" stroke-width="1.1"/>
<polygon points="993.69,201.04 1003.89,201.04 998.79,210.54" fill="#fff" stroke="#1a1aff" stroke-width="1.1"/>
<polygon points="1002.16,201.38 1012.36,201.38 1007.26,210.88" fill="#fff" stroke="#1a1aff" stroke-width="1.1"/>
<polygon points="1010.64,201.71 1020.84,201.71 1015.74,211.21" fill="#fff" stroke="#1a1aff" stroke-width="1.1"/>
<polygon points="1019.12,202.01 1029.32,202.01 1024.22,211.51" fill="#fff" stroke="#1a1aff" stroke-width="1.1"/>
<polygon points="1027.60,202.30 1037.80,202.30 1032.70,211.80" fill="#fff" stroke="#1a1aff" stroke-width="1.1"/>
<polygon points="1036.07,202.58 1046.27,202.58 1041.17,212.08" fill="#fff" stroke="#1a1aff" stroke-width="1.1"/>
<polygon points="1044.55,202.84 1054.75,202.84 1049.65,212.34" fill="#fff" stroke="#1a1aff" stroke-width="1.1"/>
<polygon points="1053.03,203.09 1063.23,203.09 1058.13,212.59" fill="#fff" stroke="#1a1aff" stroke-width="1.1"/>
<polygon points="1061.50,203.33 1071.70,203.33 1066.60,212.83" fill="#fff" stroke="#1a1aff" stroke-width="1.1"/>
<polygon points="1069.98,203.55 1080.18,203.55 1075.08,213.05" fill="#fff" stroke="#1a1aff" stroke-width="1.1"/>
<polygon points="1078.46,203.76 1088.66,203.76 1083.56,213.26" fill="#fff" stroke="#1a1aff" stroke-width="1.1"/>
<polygon points="1086.94,203.96 1097.14,203.96 1092.04,213.46" fill="#fff" stroke="#1a1aff" stroke-width="1.1"/>
<polygon points="1095.41,204.14 1105.61,204.14 1100.51,213.64" fill="#fff" stroke="#1a1aff" stroke-width="1.1"/>
<polygon points="1103.89,201.86 1114.09,201.86 1108.99,211.36" fill="#fff" stroke="#1a1aff" stroke-width="1.1"/>
<polygon points="1112.37,202.04 1122.57,202.04 1117.47,211.54" fill="#fff" stroke="#1a1aff" stroke-width="1.1"/>
<polygon points="1120.85,202.22 1131.05,202.22 1125.95,211.72" fill="#fff" stroke="#1a1aff" stroke-width="1.1"/>
<polygon points="1129.32,202.41 1139.52,202.41 1134.42,211.91" fill="#fff" stroke="#1a1aff" stroke-width="1.1"/>
<polygon points="1137.80,202.60 1148.00,202.60 1142.90,212.10" fill="#fff" stroke="#1a1aff" stroke-width="1.1"/>
<path d="M 769.90,211.34 L 770.65,206.65 L 771.39,201.75 L 772.14,196.83 L 772.89,192.12 L 773.64,187.82 L 774.38,184.13 L 775.13,180.99 L 775.88,178.02 L 776.63,175.25 L 777.37,172.70 L 778.12,170.41 L 778.87,168.41 L 779.62,166.71 L 780.36,165.27 L 781.11,163.97 L 781.86,162.77 L 782.61,161.68 L 783.35,160.67 L 784.10,159.74 L 784.85,158.87 L 785.60,158.06 L 786.34,157.28 L 787.09,156.53 L 787.84,155.80 L 788.59,155.10 L 789.33,154.43 L 790.08,153.78 L 790.83,153.17 L 791.58,152.58 L 792.32,152.03 L 793.07,151.52 L 793.82,151.04 L 794.57,150.61 L 795.31,150.21 L 796.06,149.85 L 796.81,149.50 L 797.56,149.17 L 798.30,148.85 L 799.05,148.55 L 799.80,148.25 L 800.55,147.97 L 801.29,147.70 L 802.04,147.44 L 802.79,147.19 L 803.54,146.95 L 804.28,146.71 L 805.03,146.48 L 805.78,146.26 L 806.53,146.04 L 807.27,145.82 L 808.02,145.60 L 808.77,145.39 L 809.52,145.18 L 810.26,144.97 L 811.01,144.76 L 811.76,144.54 L 812.51,144.32 L 813.25,144.11 L 814.00,143.90 L 814.75,143.69 L 815.50,143.49 L 816.24,143.30 L 816.99,143.11 L 817.74,142.92 L 818.49,142.74 L 819.23,142.56 L 819.98,142.38 L 820.73,142.20 L 821.48,142.02 L 822.22,141.84 L 822.97,141.67 L 823.72,141.48 L 824.47,141.30 L 825.21,141.12 L 825.96,140.93 L 826.71,140.74 L 827.46,140.54 L 828.20,140.34 L 828.95,140.13 L 829.70,139.92 L 830.45,139.70 L 831.19,139.47 L 831.94,139.24 L 832.69,139.01 L 833.44,138.77 L 834.18,138.53 L 834.93,138.29 L 835.68,138.04 L 836.43,137.79 L 837.17,137.54 L 837.92,137.28 L 838.67,137.02 L 839.42,136.76 L 840.16,136.50 L 840.91,136.23 L 841.66,135.96 L 842.41,135.69 L 843.15,135.42 L 843.90,135.15 L 844.65,134.88 L 845.40,134.60 L 846.14,134.33 L 846.89,134.06 L 847.64,133.78 L 848.39,133.49 L 849.13,133.20 L 849.88,132.90 L 850.63,132.59 L 851.38,132.28 L 852.12,131.97 L 852.87,131.65 L 853.62,131.33 L 854.37,131.00 L 855.11,130.68 L 855.86,130.36 L 856.61,130.04 L 857.36,129.72 L 858.10,129.41 L 858.85,129.10 L 859.60,128.80 L 860.35,128.51 L 861.09,128.22 L 861.84,127.94 L 862.59,127.67 L 863.34,127.41 L 864.08,127.17 L 864.83,126.93 L 865.58,126.71 L 866.33,126.48 L 867.07,126.26 L 867.82,126.04 L 868.57,125.82 L 869.32,125.61 L 870.06,125.40 L 870.81,125.20 L 871.56,125.00 L 872.31,124.80 L 873.05,124.61 L 873.80,124.42 L 874.55,124.23 L 875.30,124.05 L 876.04,123.87 L 876.79,123.70 L 877.54,123.53 L 878.29,123.36 L 879.03,123.20 L 879.78,123.04 L 880.53,122.88 L 881.28,122.73 L 882.02,122.59 L 882.77,122.44 L 883.52,122.30 L 884.27,122.15 L 885.01,122.00 L 885.76,121.86 L 886.51,121.72 L 887.26,121.57 L 888.00,121.43 L 888.75,121.30 L 889.50,121.16 L 890.25,121.03 L 890.99,120.90 L 891.74,120.78 L 892.49,120.66 L 893.24,120.55 L 893.98,120.44 L 894.73,120.34 L 895.48,120.25 L 896.23,120.16 L 896.97,120.08 L 897.72,120.01 L 898.47,119.94 L 899.22,119.89 L 899.96,119.84 L 900.71,119.79 L 901.46,119.75 L 902.21,119.70 L 902.95,119.66 L 903.70,119.62 L 904.45,119.58 L 905.20,119.54 L 905.94,119.50 L 906.69,119.47 L 907.44,119.43 L 908.19,119.40 L 908.93,119.37 L 909.68,119.34 L 910.43,119.32 L 911.18,119.29 L 911.92,119.27 L 912.67,119.24 L 913.42,119.22 L 914.17,119.20 L 914.91,119.18 L 915.66,119.17 L 916.41,119.15 L 917.16,119.14 L 917.90,119.12 L 918.65,119.11 L 919.40,119.09 L 920.15,119.08 L 920.89,119.07 L 921.64,119.06 L 922.39,119.04 L 923.14,119.03 L 923.88,119.02 L 924.63,119.01 L 925.38,119.00 L 926.13,118.99 L 926.87,118.98 L 927.62,118.97 L 928.37,118.96 L 929.12,118.95 L 929.86,118.94 L 930.61,118.93 L 931.36,118.92 L 932.11,118.91 L 932.85,118.91 L 933.60,118.90 L 934.35,118.89 L 935.10,118.88 L 935.84,118.88 L 936.59,118.87 L 937.34,118.86 L 938.09,118.85 L 938.83,118.85 L 939.58,118.84 L 940.33,118.83 L 941.08,118.83 L 941.82,118.82 L 942.57,118.81 L 943.32,118.81 L 944.07,118.80 L 944.81,118.79 L 945.56,118.79 L 946.31,118.78 L 947.06,118.77 L 947.80,118.77 L 948.55,118.76 L 949.30,118.75 L 950.05,118.75 L 950.79,118.74 L 951.54,118.73 L 952.29,118.73 L 953.04,118.72 L 953.78,118.71 L 954.53,118.71 L 955.28,118.70 L 956.03,118.69 L 956.77,118.69 L 957.52,118.68 L 958.27,118.67 L 959.02,118.66 L 959.76,118.65 L 960.51,118.65 L 961.26,118.64 L 962.01,118.63 L 962.75,118.62 L 963.50,118.61 L 964.25,118.61 L 965.00,118.60 L 965.74,118.59 L 966.49,118.58 L 967.24,118.57 L 967.99,118.57 L 968.73,118.56 L 969.48,118.55 L 970.23,118.54 L 970.98,118.53 L 971.72,118.52 L 972.47,118.52 L 973.22,118.51 L 973.97,118.50 L 974.71,118.49 L 975.46,118.48 L 976.21,118.47 L 976.96,118.47 L 977.70,118.46 L 978.45,118.45 L 979.20,118.44 L 979.95,118.43 L 980.69,118.43 L 981.44,118.42 L 982.19,118.41 L 982.94,118.40 L 983.68,118.39 L 984.43,118.38 L 985.18,118.38 L 985.93,118.37 L 986.67,118.36 L 987.42,118.35 L 988.17,118.34 L 988.92,118.33 L 989.66,118.33 L 990.41,118.32 L 991.16,118.31 L 991.91,118.30 L 992.65,118.29 L 993.40,118.29 L 994.15,118.28 L 994.90,118.27 L 995.64,118.26 L 996.39,118.25 L 997.14,118.25 L 997.89,118.24 L 998.63,118.23 L 999.38,118.22 L 1000.13,118.21 L 1000.88,118.20 L 1001.62,118.20 L 1002.37,118.19 L 1003.12,118.18 L 1003.87,118.17 L 1004.61,118.16 L 1005.36,118.16 L 1006.11,118.15 L 1006.86,118.14 L 1007.60,118.13 L 1008.35,118.13 L 1009.10,118.12 L 1009.85,118.11 L 1010.59,118.10 L 1011.34,118.09 L 1012.09,118.09 L 1012.84,118.08 L 1013.58,118.07 L 1014.33,118.06 L 1015.08,118.05 L 1015.83,118.05 L 1016.57,118.04 L 1017.32,118.03 L 1018.07,118.02 L 1018.82,118.02 L 1019.56,118.01 L 1020.31,118.00 L 1021.06,117.99 L 1021.81,117.99 L 1022.55,117.98 L 1023.30,117.97 L 1024.05,117.96 L 1024.80,117.96 L 1025.54,117.95 L 1026.29,117.94 L 1027.04,117.94 L 1027.79,117.93 L 1028.53,117.92 L 1029.28,117.91 L 1030.03,117.91 L 1030.78,117.90 L 1031.52,117.89 L 1032.27,117.89 L 1033.02,117.88 L 1033.77,117.87 L 1034.51,117.86 L 1035.26,117.86 L 1036.01,117.85 L 1036.76,117.84 L 1037.50,117.84 L 1038.25,117.83 L 1039.00,117.82 L 1039.75,117.82 L 1040.49,117.81 L 1041.24,117.80 L 1041.99,117.80 L 1042.74,117.79 L 1043.48,117.78 L 1044.23,117.78 L 1044.98,117.77 L 1045.73,117.77 L 1046.47,117.76 L 1047.22,117.75 L 1047.97,117.75 L 1048.72,117.74 L 1049.46,117.73 L 1050.21,117.73 L 1050.96,117.72 L 1051.71,117.72 L 1052.45,117.71 L 1053.20,117.71 L 1053.95,117.70 L 1054.70,117.69 L 1055.44,117.69 L 1056.19,117.68 L 1056.94,117.68 L 1057.69,117.67 L 1058.43,117.67 L 1059.18,117.66 L 1059.93,117.65 L 1060.68,117.65 L 1061.42,117.64 L 1062.17,117.64 L 1062.92,117.63 L 1063.67,117.63 L 1064.41,117.62 L 1065.16,117.62 L 1065.91,117.61 L 1066.66,117.61 L 1067.40,117.60 L 1068.15,117.60 L 1068.90,117.59 L 1069.65,117.59 L 1070.39,117.58 L 1071.14,117.58 L 1071.89,117.57 L 1072.64,117.57 L 1073.38,117.56 L 1074.13,117.56 L 1074.88,117.55 L 1075.63,117.55 L 1076.37,117.55 L 1077.12,117.54 L 1077.87,117.54 L 1078.62,117.53 L 1079.36,117.53 L 1080.11,117.52 L 1080.86,117.52 L 1081.61,117.51 L 1082.35,117.51 L 1083.10,117.50 L 1083.85,117.50 L 1084.60,117.50 L 1085.34,117.49 L 1086.09,117.49 L 1086.84,117.48 L 1087.59,117.48 L 1088.33,117.47 L 1089.08,117.47 L 1089.83,117.47 L 1090.58,117.46 L 1091.32,117.46 L 1092.07,117.45 L 1092.82,117.45 L 1093.57,117.44 L 1094.31,117.44 L 1095.06,117.44 L 1095.81,117.43 L 1096.56,117.43 L 1097.30,117.42 L 1098.05,117.42 L 1098.80,117.41 L 1099.55,117.41 L 1100.29,117.41 L 1101.04,117.40 L 1101.79,117.40 L 1102.54,117.39 L 1103.28,117.39 L 1104.03,117.39 L 1104.78,117.38 L 1105.53,117.38 L 1106.27,117.37 L 1107.02,117.37 L 1107.77,117.37 L 1108.52,117.36 L 1109.26,117.36 L 1110.01,117.35 L 1110.76,117.35 L 1111.51,117.35 L 1112.25,117.34 L 1113.00,117.34 L 1113.75,117.33 L 1114.50,117.33 L 1115.24,117.33 L 1115.99,117.32 L 1116.74,117.32 L 1117.49,117.31 L 1118.23,117.31 L 1118.98,117.31 L 1119.73,117.30 L 1120.48,117.30 L 1121.22,117.29 L 1121.97,117.29 L 1122.72,117.29 L 1123.47,117.28 L 1124.21,117.28 L 1124.96,117.27 L 1125.71,117.27 L 1126.46,117.27 L 1127.20,117.26 L 1127.95,117.26 L 1128.70,117.25 L 1129.45,117.25 L 1130.19,117.25 L 1130.94,117.24 L 1131.69,117.24 L 1132.44,117.23 L 1133.18,117.23 L 1133.93,117.23 L 1134.68,117.22 L 1135.43,117.22 L 1136.17,117.21 L 1136.92,117.21 L 1137.67,117.20 L 1138.42,117.20 L 1139.16,117.20 L 1139.91,117.19 L 1140.66,117.19 L 1141.41,117.18 L 1142.15,117.18 L 1142.90,117.17" fill="none" stroke="#000" stroke-width="3.0" stroke-linejoin="round"/>
<path d="M 769.90,250.28 L 770.65,234.70 L 771.39,223.81 L 772.14,216.63 L 772.89,211.52 L 773.64,207.52 L 774.38,204.70 L 775.13,202.77 L 775.88,201.16 L 776.63,199.80 L 777.37,198.64 L 778.12,197.61 L 778.87,196.65 L 779.62,195.71 L 780.36,194.76 L 781.11,193.85 L 781.86,192.97 L 782.61,192.13 L 783.35,191.34 L 784.10,190.61 L 784.85,189.93 L 785.60,189.32 L 786.34,188.77 L 787.09,188.29 L 787.84,187.83 L 788.59,187.39 L 789.33,186.97 L 790.08,186.58 L 790.83,186.22 L 791.58,185.88 L 792.32,185.57 L 793.07,185.28 L 793.82,185.02 L 794.57,184.79 L 795.31,184.58 L 796.06,184.39 L 796.81,184.22 L 797.56,184.05 L 798.30,183.90 L 799.05,183.75 L 799.80,183.62 L 800.55,183.49 L 801.29,183.37 L 802.04,183.25 L 802.79,183.14 L 803.54,183.02 L 804.28,182.91 L 805.03,182.80 L 805.78,182.69 L 806.53,182.57 L 807.27,182.45 L 808.02,182.33 L 808.77,182.19 L 809.52,182.05 L 810.26,181.90 L 811.01,181.74 L 811.76,181.57 L 812.51,181.40 L 813.25,181.23 L 814.00,181.05 L 814.75,180.86 L 815.50,180.68 L 816.24,180.49 L 816.99,180.29 L 817.74,180.09 L 818.49,179.89 L 819.23,179.68 L 819.98,179.47 L 820.73,179.26 L 821.48,179.04 L 822.22,178.81 L 822.97,178.58 L 823.72,178.35 L 824.47,178.11 L 825.21,177.87 L 825.96,177.63 L 826.71,177.37 L 827.46,177.12 L 828.20,176.85 L 828.95,176.57 L 829.70,176.28 L 830.45,175.98 L 831.19,175.67 L 831.94,175.36 L 832.69,175.03 L 833.44,174.71 L 834.18,174.37 L 834.93,174.03 L 835.68,173.69 L 836.43,173.34 L 837.17,172.99 L 837.92,172.64 L 838.67,172.29 L 839.42,171.93 L 840.16,171.58 L 840.91,171.23 L 841.66,170.87 L 842.41,170.53 L 843.15,170.17 L 843.90,169.81 L 844.65,169.44 L 845.40,169.06 L 846.14,168.68 L 846.89,168.29 L 847.64,167.89 L 848.39,167.49 L 849.13,167.09 L 849.88,166.69 L 850.63,166.29 L 851.38,165.90 L 852.12,165.51 L 852.87,165.12 L 853.62,164.75 L 854.37,164.38 L 855.11,164.02 L 855.86,163.67 L 856.61,163.34 L 857.36,163.02 L 858.10,162.71 L 858.85,162.42 L 859.60,162.14 L 860.35,161.86 L 861.09,161.59 L 861.84,161.32 L 862.59,161.05 L 863.34,160.79 L 864.08,160.53 L 864.83,160.28 L 865.58,160.03 L 866.33,159.79 L 867.07,159.55 L 867.82,159.32 L 868.57,159.10 L 869.32,158.89 L 870.06,158.68 L 870.81,158.48 L 871.56,158.28 L 872.31,158.10 L 873.05,157.92 L 873.80,157.75 L 874.55,157.59 L 875.30,157.44 L 876.04,157.29 L 876.79,157.14 L 877.54,157.00 L 878.29,156.86 L 879.03,156.72 L 879.78,156.58 L 880.53,156.45 L 881.28,156.33 L 882.02,156.20 L 882.77,156.08 L 883.52,155.97 L 884.27,155.86 L 885.01,155.75 L 885.76,155.65 L 886.51,155.55 L 887.26,155.46 L 888.00,155.37 L 888.75,155.29 L 889.50,155.21 L 890.25,155.14 L 890.99,155.07 L 891.74,155.00 L 892.49,154.93 L 893.24,154.87 L 893.98,154.80 L 894.73,154.74 L 895.48,154.67 L 896.23,154.61 L 896.97,154.56 L 897.72,154.50 L 898.47,154.45 L 899.22,154.40 L 899.96,154.35 L 900.71,154.31 L 901.46,154.27 L 902.21,154.24 L 902.95,154.21 L 903.70,154.18 L 904.45,154.16 L 905.20,154.15 L 905.94,154.13 L 906.69,154.12 L 907.44,154.11 L 908.19,154.09 L 908.93,154.08 L 909.68,154.07 L 910.43,154.06 L 911.18,154.05 L 911.92,154.04 L 912.67,154.03 L 913.42,154.02 L 914.17,154.01 L 914.91,154.00 L 915.66,153.99 L 916.41,153.98 L 917.16,153.97 L 917.90,153.96 L 918.65,153.95 L 919.40,153.94 L 920.15,153.94 L 920.89,153.93 L 921.64,153.92 L 922.39,153.91 L 923.14,153.91 L 923.88,153.90 L 924.63,153.89 L 925.38,153.89 L 926.13,153.88 L 926.87,153.87 L 927.62,153.87 L 928.37,153.86 L 929.12,153.86 L 929.86,153.85 L 930.61,153.85 L 931.36,153.84 L 932.11,153.83 L 932.85,153.83 L 933.60,153.82 L 934.35,153.82 L 935.10,153.82 L 935.84,153.81 L 936.59,153.81 L 937.34,153.80 L 938.09,153.80 L 938.83,153.79 L 939.58,153.79 L 940.33,153.78 L 941.08,153.78 L 941.82,153.77 L 942.57,153.77 L 943.32,153.77 L 944.07,153.76 L 944.81,153.76 L 945.56,153.75 L 946.31,153.75 L 947.06,153.74 L 947.80,153.74 L 948.55,153.74 L 949.30,153.73 L 950.05,153.73 L 950.79,153.72 L 951.54,153.72 L 952.29,153.71 L 953.04,153.71 L 953.78,153.70 L 954.53,153.70 L 955.28,153.69 L 956.03,153.69 L 956.77,153.68 L 957.52,153.68 L 958.27,153.67 L 959.02,153.66 L 959.76,153.66 L 960.51,153.65 L 961.26,153.64 L 962.01,153.64 L 962.75,153.63 L 963.50,153.63 L 964.25,153.62 L 965.00,153.61 L 965.74,153.61 L 966.49,153.60 L 967.24,153.60 L 967.99,153.59 L 968.73,153.58 L 969.48,153.58 L 970.23,153.57 L 970.98,153.57 L 971.72,153.56 L 972.47,153.56 L 973.22,153.55 L 973.97,153.54 L 974.71,153.54 L 975.46,153.53 L 976.21,153.53 L 976.96,153.52 L 977.70,153.51 L 978.45,153.51 L 979.20,153.50 L 979.95,153.50 L 980.69,153.49 L 981.44,153.49 L 982.19,153.48 L 982.94,153.48 L 983.68,153.47 L 984.43,153.46 L 985.18,153.46 L 985.93,153.45 L 986.67,153.45 L 987.42,153.44 L 988.17,153.44 L 988.92,153.43 L 989.66,153.43 L 990.41,153.42 L 991.16,153.41 L 991.91,153.41 L 992.65,153.40 L 993.40,153.40 L 994.15,153.39 L 994.90,153.39 L 995.64,153.38 L 996.39,153.38 L 997.14,153.37 L 997.89,153.37 L 998.63,153.36 L 999.38,153.35 L 1000.13,153.35 L 1000.88,153.34 L 1001.62,153.34 L 1002.37,153.33 L 1003.12,153.33 L 1003.87,153.32 L 1004.61,153.32 L 1005.36,153.31 L 1006.11,153.31 L 1006.86,153.30 L 1007.60,153.29 L 1008.35,153.29 L 1009.10,153.28 L 1009.85,153.28 L 1010.59,153.27 L 1011.34,153.27 L 1012.09,153.26 L 1012.84,153.26 L 1013.58,153.25 L 1014.33,153.25 L 1015.08,153.24 L 1015.83,153.24 L 1016.57,153.23 L 1017.32,153.22 L 1018.07,153.22 L 1018.82,153.21 L 1019.56,153.21 L 1020.31,153.20 L 1021.06,153.20 L 1021.81,153.19 L 1022.55,153.19 L 1023.30,153.18 L 1024.05,153.18 L 1024.80,153.17 L 1025.54,153.17 L 1026.29,153.16 L 1027.04,153.15 L 1027.79,153.15 L 1028.53,153.14 L 1029.28,153.14 L 1030.03,153.13 L 1030.78,153.13 L 1031.52,153.12 L 1032.27,153.12 L 1033.02,153.11 L 1033.77,153.11 L 1034.51,153.10 L 1035.26,153.09 L 1036.01,153.09 L 1036.76,153.08 L 1037.50,153.08 L 1038.25,153.07 L 1039.00,153.07 L 1039.75,153.06 L 1040.49,153.05 L 1041.24,153.05 L 1041.99,153.04 L 1042.74,153.04 L 1043.48,153.03 L 1044.23,153.03 L 1044.98,153.02 L 1045.73,153.02 L 1046.47,153.01 L 1047.22,153.00 L 1047.97,153.00 L 1048.72,152.99 L 1049.46,152.99 L 1050.21,152.98 L 1050.96,152.97 L 1051.71,152.97 L 1052.45,152.96 L 1053.20,152.96 L 1053.95,152.95 L 1054.70,152.95 L 1055.44,152.94 L 1056.19,152.93 L 1056.94,152.93 L 1057.69,152.92 L 1058.43,152.92 L 1059.18,152.91 L 1059.93,152.90 L 1060.68,152.90 L 1061.42,152.89 L 1062.17,152.88 L 1062.92,152.88 L 1063.67,152.87 L 1064.41,152.87 L 1065.16,152.86 L 1065.91,152.85 L 1066.66,152.85 L 1067.40,152.84 L 1068.15,152.83 L 1068.90,152.83 L 1069.65,152.82 L 1070.39,152.82 L 1071.14,152.81 L 1071.89,152.80 L 1072.64,152.80 L 1073.38,152.79 L 1074.13,152.78 L 1074.88,152.78 L 1075.63,152.77 L 1076.37,152.77 L 1077.12,152.76 L 1077.87,152.75 L 1078.62,152.75 L 1079.36,152.74 L 1080.11,152.73 L 1080.86,152.73 L 1081.61,152.72 L 1082.35,152.71 L 1083.10,152.71 L 1083.85,152.70 L 1084.60,152.69 L 1085.34,152.69 L 1086.09,152.68 L 1086.84,152.67 L 1087.59,152.67 L 1088.33,152.66 L 1089.08,152.66 L 1089.83,152.65 L 1090.58,152.64 L 1091.32,152.64 L 1092.07,152.63 L 1092.82,152.62 L 1093.57,152.62 L 1094.31,152.61 L 1095.06,152.60 L 1095.81,152.60 L 1096.56,152.59 L 1097.30,152.58 L 1098.05,152.58 L 1098.80,152.57 L 1099.55,152.56 L 1100.29,152.56 L 1101.04,152.55 L 1101.79,152.54 L 1102.54,152.54 L 1103.28,152.53 L 1104.03,152.52 L 1104.78,152.52 L 1105.53,152.51 L 1106.27,152.50 L 1107.02,152.50 L 1107.77,152.49 L 1108.52,152.48 L 1109.26,152.48 L 1110.01,152.47 L 1110.76,152.46 L 1111.51,152.46 L 1112.25,152.45 L 1113.00,152.44 L 1113.75,152.44 L 1114.50,152.43 L 1115.24,152.42 L 1115.99,152.42 L 1116.74,152.41 L 1117.49,152.40 L 1118.23,152.40 L 1118.98,152.39 L 1119.73,152.38 L 1120.48,152.38 L 1121.22,152.37 L 1121.97,152.36 L 1122.72,152.36 L 1123.47,152.35 L 1124.21,152.34 L 1124.96,152.34 L 1125.71,152.33 L 1126.46,152.32 L 1127.20,152.32 L 1127.95,152.31 L 1128.70,152.30 L 1129.45,152.30 L 1130.19,152.29 L 1130.94,152.28 L 1131.69,152.28 L 1132.44,152.27 L 1133.18,152.26 L 1133.93,152.26 L 1134.68,152.25 L 1135.43,152.24 L 1136.17,152.24 L 1136.92,152.23 L 1137.67,152.22 L 1138.42,152.22 L 1139.16,152.21 L 1139.91,152.20 L 1140.66,152.20 L 1141.41,152.19 L 1142.15,152.18 L 1142.90,152.18" fill="none" stroke="#ff2626" stroke-width="3.0" stroke-linejoin="round"/>
<path d="M 769.90,171.40 L 770.65,170.88 L 771.39,170.32 L 772.14,169.96 L 772.89,170.02 L 773.64,170.53 L 774.38,171.29 L 775.13,172.07 L 775.88,172.70 L 776.63,173.32 L 777.37,173.95 L 778.12,174.58 L 778.87,175.22 L 779.62,175.86 L 780.36,176.49 L 781.11,177.13 L 781.86,177.75 L 782.61,178.36 L 783.35,178.96 L 784.10,179.54 L 784.85,180.10 L 785.60,180.64 L 786.34,181.15 L 787.09,181.64 L 787.84,182.12 L 788.59,182.59 L 789.33,183.04 L 790.08,183.49 L 790.83,183.92 L 791.58,184.34 L 792.32,184.74 L 793.07,185.13 L 793.82,185.50 L 794.57,185.85 L 795.31,186.19 L 796.06,186.51 L 796.81,186.84 L 797.56,187.16 L 798.30,187.48 L 799.05,187.79 L 799.80,188.10 L 800.55,188.41 L 801.29,188.71 L 802.04,189.00 L 802.79,189.29 L 803.54,189.56 L 804.28,189.84 L 805.03,190.10 L 805.78,190.35 L 806.53,190.59 L 807.27,190.82 L 808.02,191.04 L 808.77,191.25 L 809.52,191.45 L 810.26,191.63 L 811.01,191.80 L 811.76,191.95 L 812.51,192.09 L 813.25,192.22 L 814.00,192.35 L 814.75,192.47 L 815.50,192.60 L 816.24,192.72 L 816.99,192.84 L 817.74,192.96 L 818.49,193.08 L 819.23,193.19 L 819.98,193.29 L 820.73,193.40 L 821.48,193.49 L 822.22,193.58 L 822.97,193.67 L 823.72,193.75 L 824.47,193.82 L 825.21,193.88 L 825.96,193.94 L 826.71,193.99 L 827.46,194.03 L 828.20,194.05 L 828.95,194.07 L 829.70,194.08 L 830.45,194.08 L 831.19,194.06 L 831.94,194.03 L 832.69,193.99 L 833.44,193.94 L 834.18,193.88 L 834.93,193.81 L 835.68,193.73 L 836.43,193.65 L 837.17,193.56 L 837.92,193.46 L 838.67,193.36 L 839.42,193.25 L 840.16,193.14 L 840.91,193.03 L 841.66,192.91 L 842.41,192.80 L 843.15,192.69 L 843.90,192.57 L 844.65,192.46 L 845.40,192.36 L 846.14,192.25 L 846.89,192.15 L 847.64,192.06 L 848.39,191.95 L 849.13,191.83 L 849.88,191.71 L 850.63,191.58 L 851.38,191.45 L 852.12,191.31 L 852.87,191.17 L 853.62,191.03 L 854.37,190.88 L 855.11,190.74 L 855.86,190.60 L 856.61,190.47 L 857.36,190.34 L 858.10,190.22 L 858.85,190.11 L 859.60,190.00 L 860.35,189.91 L 861.09,189.83 L 861.84,189.76 L 862.59,189.71 L 863.34,189.67 L 864.08,189.65 L 864.83,189.65 L 865.58,189.65 L 866.33,189.65 L 867.07,189.65 L 867.82,189.65 L 868.57,189.65 L 869.32,189.65 L 870.06,189.65 L 870.81,189.65 L 871.56,189.65 L 872.31,189.65 L 873.05,189.65 L 873.80,189.65 L 874.55,189.65 L 875.30,189.65 L 876.04,189.65 L 876.79,189.65 L 877.54,189.65 L 878.29,189.65 L 879.03,189.65 L 879.78,189.65 L 880.53,189.65 L 881.28,189.65 L 882.02,189.65 L 882.77,189.65 L 883.52,189.67 L 884.27,189.71 L 885.01,189.75 L 885.76,189.81 L 886.51,189.87 L 887.26,189.94 L 888.00,190.03 L 888.75,190.11 L 889.50,190.21 L 890.25,190.31 L 890.99,190.41 L 891.74,190.52 L 892.49,190.63 L 893.24,190.74 L 893.98,190.86 L 894.73,190.97 L 895.48,191.08 L 896.23,191.20 L 896.97,191.31 L 897.72,191.41 L 898.47,191.51 L 899.22,191.61 L 899.96,191.71 L 900.71,191.81 L 901.46,191.90 L 902.21,192.01 L 902.95,192.11 L 903.70,192.21 L 904.45,192.32 L 905.20,192.42 L 905.94,192.53 L 906.69,192.64 L 907.44,192.75 L 908.19,192.86 L 908.93,192.97 L 909.68,193.08 L 910.43,193.19 L 911.18,193.30 L 911.92,193.41 L 912.67,193.52 L 913.42,193.63 L 914.17,193.74 L 914.91,193.85 L 915.66,193.95 L 916.41,194.06 L 917.16,194.17 L 917.90,194.28 L 918.65,194.39 L 919.40,194.50 L 920.15,194.62 L 920.89,194.73 L 921.64,194.85 L 922.39,194.97 L 923.14,195.08 L 923.88,195.20 L 924.63,195.32 L 925.38,195.43 L 926.13,195.54 L 926.87,195.66 L 927.62,195.77 L 928.37,195.87 L 929.12,195.98 L 929.86,196.08 L 930.61,196.17 L 931.36,196.27 L 932.11,196.36 L 932.85,196.44 L 933.60,196.52 L 934.35,196.60 L 935.10,196.67 L 935.84,196.75 L 936.59,196.82 L 937.34,196.89 L 938.09,196.96 L 938.83,197.02 L 939.58,197.09 L 940.33,197.16 L 941.08,197.22 L 941.82,197.28 L 942.57,197.35 L 943.32,197.41 L 944.07,197.47 L 944.81,197.53 L 945.56,197.59 L 946.31,197.64 L 947.06,197.70 L 947.80,197.75 L 948.55,197.81 L 949.30,197.86 L 950.05,197.91 L 950.79,197.96 L 951.54,198.02 L 952.29,198.06 L 953.04,198.11 L 953.78,198.16 L 954.53,198.21 L 955.28,198.26 L 956.03,198.30 L 956.77,198.35 L 957.52,198.39 L 958.27,198.43 L 959.02,198.48 L 959.76,198.52 L 960.51,198.56 L 961.26,198.60 L 962.01,198.64 L 962.75,198.68 L 963.50,198.72 L 964.25,198.76 L 965.00,198.81 L 965.74,198.85 L 966.49,198.89 L 967.24,198.92 L 967.99,198.96 L 968.73,199.00 L 969.48,199.04 L 970.23,199.08 L 970.98,199.12 L 971.72,199.16 L 972.47,199.20 L 973.22,199.23 L 973.97,199.27 L 974.71,199.31 L 975.46,199.35 L 976.21,199.38 L 976.96,199.42 L 977.70,199.46 L 978.45,199.49 L 979.20,199.53 L 979.95,199.56 L 980.69,199.60 L 981.44,199.64 L 982.19,199.67 L 982.94,199.71 L 983.68,199.74 L 984.43,199.78 L 985.18,199.81 L 985.93,199.85 L 986.67,199.88 L 987.42,199.91 L 988.17,199.95 L 988.92,199.98 L 989.66,200.01 L 990.41,200.05 L 991.16,200.08 L 991.91,200.11 L 992.65,200.15 L 993.40,200.18 L 994.15,200.21 L 994.90,200.24 L 995.64,200.28 L 996.39,200.31 L 997.14,200.34 L 997.89,200.37 L 998.63,200.40 L 999.38,200.43 L 1000.13,200.46 L 1000.88,200.50 L 1001.62,200.53 L 1002.37,200.56 L 1003.12,200.59 L 1003.87,200.62 L 1004.61,200.65 L 1005.36,200.68 L 1006.11,200.71 L 1006.86,200.74 L 1007.60,200.77 L 1008.35,200.80 L 1009.10,200.82 L 1009.85,200.85 L 1010.59,200.88 L 1011.34,200.91 L 1012.09,200.94 L 1012.84,200.97 L 1013.58,201.00 L 1014.33,201.02 L 1015.08,201.05 L 1015.83,201.08 L 1016.57,201.11 L 1017.32,201.14 L 1018.07,201.16 L 1018.82,201.19 L 1019.56,201.22 L 1020.31,201.24 L 1021.06,201.27 L 1021.81,201.30 L 1022.55,201.32 L 1023.30,201.35 L 1024.05,201.38 L 1024.80,201.40 L 1025.54,201.43 L 1026.29,201.45 L 1027.04,201.48 L 1027.79,201.51 L 1028.53,201.53 L 1029.28,201.56 L 1030.03,201.58 L 1030.78,201.61 L 1031.52,201.63 L 1032.27,201.66 L 1033.02,201.68 L 1033.77,201.71 L 1034.51,201.73 L 1035.26,201.76 L 1036.01,201.78 L 1036.76,201.81 L 1037.50,201.83 L 1038.25,201.85 L 1039.00,201.88 L 1039.75,201.90 L 1040.49,201.93 L 1041.24,201.95 L 1041.99,201.97 L 1042.74,202.00 L 1043.48,202.02 L 1044.23,202.04 L 1044.98,202.07 L 1045.73,202.09 L 1046.47,202.11 L 1047.22,202.14 L 1047.97,202.16 L 1048.72,202.18 L 1049.46,202.21 L 1050.21,202.23 L 1050.96,202.25 L 1051.71,202.27 L 1052.45,202.30 L 1053.20,202.32 L 1053.95,202.34 L 1054.70,202.36 L 1055.44,202.39 L 1056.19,202.41 L 1056.94,202.43 L 1057.69,202.45 L 1058.43,202.47 L 1059.18,202.49 L 1059.93,202.52 L 1060.68,202.54 L 1061.42,202.56 L 1062.17,202.58 L 1062.92,202.60 L 1063.67,202.62 L 1064.41,202.64 L 1065.16,202.66 L 1065.91,202.68 L 1066.66,202.70 L 1067.40,202.72 L 1068.15,202.74 L 1068.90,202.76 L 1069.65,202.78 L 1070.39,202.80 L 1071.14,202.82 L 1071.89,202.84 L 1072.64,202.86 L 1073.38,202.88 L 1074.13,202.90 L 1074.88,202.92 L 1075.63,202.94 L 1076.37,202.96 L 1077.12,202.97 L 1077.87,202.99 L 1078.62,203.01 L 1079.36,203.03 L 1080.11,203.05 L 1080.86,203.07 L 1081.61,203.08 L 1082.35,203.10 L 1083.10,203.12 L 1083.85,203.14 L 1084.60,203.15 L 1085.34,203.17 L 1086.09,203.19 L 1086.84,203.21 L 1087.59,203.22 L 1088.33,203.24 L 1089.08,203.26 L 1089.83,203.28 L 1090.58,203.29 L 1091.32,203.31 L 1092.07,203.33 L 1092.82,203.34 L 1093.57,203.36 L 1094.31,203.38 L 1095.06,203.39 L 1095.81,203.41 L 1096.56,203.43 L 1097.30,203.44 L 1098.05,203.46 L 1098.80,203.48 L 1099.55,203.49 L 1100.29,203.51 L 1101.04,203.52 L 1101.79,203.54 L 1102.54,203.56 L 1103.28,203.57 L 1104.03,203.59 L 1104.78,203.61 L 1105.53,203.62 L 1106.27,203.64 L 1107.02,203.65 L 1107.77,203.67 L 1108.52,203.69 L 1109.26,203.70 L 1110.01,203.72 L 1110.76,203.73 L 1111.51,203.75 L 1112.25,203.77 L 1113.00,203.78 L 1113.75,203.80 L 1114.50,203.81 L 1115.24,203.83 L 1115.99,203.84 L 1116.74,203.86 L 1117.49,203.88 L 1118.23,203.89 L 1118.98,203.91 L 1119.73,203.92 L 1120.48,203.94 L 1121.22,203.96 L 1121.97,203.97 L 1122.72,203.99 L 1123.47,204.00 L 1124.21,204.02 L 1124.96,204.04 L 1125.71,204.05 L 1126.46,204.07 L 1127.20,204.09 L 1127.95,204.10 L 1128.70,204.12 L 1129.45,204.13 L 1130.19,204.15 L 1130.94,204.17 L 1131.69,204.18 L 1132.44,204.20 L 1133.18,204.22 L 1133.93,204.23 L 1134.68,204.25 L 1135.43,204.27 L 1136.17,204.28 L 1136.92,204.30 L 1137.67,204.32 L 1138.42,204.33 L 1139.16,204.35 L 1139.91,204.37 L 1140.66,204.38 L 1141.41,204.40 L 1142.15,204.42 L 1142.90,204.44" fill="none" stroke="#0000ff" stroke-width="3.0" stroke-linejoin="round"/>
<circle cx="769.90" cy="313.09" r="4.90" fill="#fff" stroke="#000" stroke-width="1.1"/>
<circle cx="778.38" cy="338.39" r="4.90" fill="#fff" stroke="#000" stroke-width="1.1"/>
<circle cx="786.85" cy="332.80" r="4.90" fill="#fff" stroke="#000" stroke-width="1.1"/>
<circle cx="795.33" cy="326.63" r="4.90" fill="#fff" stroke="#000" stroke-width="1.1"/>
<circle cx="803.81" cy="324.66" r="4.90" fill="#fff" stroke="#000" stroke-width="1.1"/>
<circle cx="812.29" cy="323.73" r="4.90" fill="#fff" stroke="#000" stroke-width="1.1"/>
<circle cx="820.76" cy="323.06" r="4.90" fill="#fff" stroke="#000" stroke-width="1.1"/>
<circle cx="829.24" cy="322.37" r="4.90" fill="#fff" stroke="#000" stroke-width="1.1"/>
<circle cx="837.72" cy="321.74" r="4.90" fill="#fff" stroke="#000" stroke-width="1.1"/>
<circle cx="846.20" cy="321.12" r="4.90" fill="#fff" stroke="#000" stroke-width="1.1"/>
<circle cx="854.67" cy="320.37" r="4.90" fill="#fff" stroke="#000" stroke-width="1.1"/>
<circle cx="863.15" cy="319.39" r="4.90" fill="#fff" stroke="#000" stroke-width="1.1"/>
<circle cx="871.63" cy="318.29" r="4.90" fill="#fff" stroke="#000" stroke-width="1.1"/>
<circle cx="880.10" cy="317.23" r="4.90" fill="#fff" stroke="#000" stroke-width="1.1"/>
<circle cx="888.58" cy="316.19" r="4.90" fill="#fff" stroke="#000" stroke-width="1.1"/>
<circle cx="897.06" cy="315.15" r="4.90" fill="#fff" stroke="#000" stroke-width="1.1"/>
<circle cx="905.54" cy="314.21" r="4.90" fill="#fff" stroke="#000" stroke-width="1.1"/>
<circle cx="914.01" cy="313.41" r="4.90" fill="#fff" stroke="#000" stroke-width="1.1"/>
<circle cx="922.49" cy="312.69" r="4.90" fill="#fff" stroke="#000" stroke-width="1.1"/>
<circle cx="930.97" cy="312.03" r="4.90" fill="#fff" stroke="#000" stroke-width="1.1"/>
<circle cx="939.45" cy="311.42" r="4.90" fill="#fff" stroke="#000" stroke-width="1.1"/>
<circle cx="947.92" cy="310.86" r="4.90" fill="#fff" stroke="#000" stroke-width="1.1"/>
<circle cx="956.40" cy="310.34" r="4.90" fill="#fff" stroke="#000" stroke-width="1.1"/>
<circle cx="964.88" cy="309.72" r="4.90" fill="#fff" stroke="#000" stroke-width="1.1"/>
<circle cx="973.35" cy="309.10" r="4.90" fill="#fff" stroke="#000" stroke-width="1.1"/>
<circle cx="981.83" cy="308.50" r="4.90" fill="#fff" stroke="#000" stroke-width="1.1"/>
<circle cx="990.31" cy="307.94" r="4.90" fill="#fff" stroke="#000" stroke-width="1.1"/>
<circle cx="998.79" cy="307.43" r="4.90" fill="#fff" stroke="#000" stroke-width="1.1"/>
<circle cx="1007.26" cy="307.01" r="4.90" fill="#fff" stroke="#000" stroke-width="1.1"/>
<circle cx="1015.74" cy="306.80" r="4.90" fill="#fff" stroke="#000" stroke-width="1.1"/>
<circle cx="1024.22" cy="306.66" r="4.90" fill="#fff" stroke="#000" stroke-width="1.1"/>
<circle cx="1032.70" cy="306.55" r="4.90" fill="#fff" stroke="#000" stroke-width="1.1"/>
<circle cx="1041.17" cy="306.46" r="4.90" fill="#fff" stroke="#000" stroke-width="1.1"/>
<circle cx="1049.65" cy="306.38" r="4.90" fill="#fff" stroke="#000" stroke-width="1.1"/>
<circle cx="1058.13" cy="306.30" r="4.90" fill="#fff" stroke="#000" stroke-width="1.1"/>
<circle cx="1066.60" cy="306.21" r="4.90" fill="#fff" stroke="#000" stroke-width="1.1"/>
<circle cx="1075.08" cy="306.11" r="4.90" fill="#fff" stroke="#000" stroke-width="1.1"/>
<circle cx="1083.56" cy="305.99" r="4.90" fill="#fff" stroke="#000" stroke-width="1.1"/>
<circle cx="1092.04" cy="305.86" r="4.90" fill="#fff" stroke="#000" stroke-width="1.1"/>
<circle cx="1100.51" cy="305.73" r="4.90" fill="#fff" stroke="#000" stroke-width="1.1"/>
<circle cx="1108.99" cy="305.59" r="4.90" fill="#fff" stroke="#000" stroke-width="1.1"/>
<circle cx="1117.47" cy="305.46" r="4.90" fill="#fff" stroke="#000" stroke-width="1.1"/>
<circle cx="1125.95" cy="305.32" r="4.90" fill="#fff" stroke="#000" stroke-width="1.1"/>
<circle cx="1134.42" cy="305.18" r="4.90" fill="#fff" stroke="#000" stroke-width="1.1"/>
<circle cx="1142.90" cy="305.05" r="4.90" fill="#fff" stroke="#000" stroke-width="1.1"/>
<rect x="765.40" y="388.21" width="9.00" height="9.00" fill="#fff" stroke="#ff1a1a" stroke-width="1.1"/>
<rect x="773.88" y="376.64" width="9.00" height="9.00" fill="#fff" stroke="#ff1a1a" stroke-width="1.1"/>
<rect x="782.35" y="361.83" width="9.00" height="9.00" fill="#fff" stroke="#ff1a1a" stroke-width="1.1"/>
<rect x="790.83" y="352.82" width="9.00" height="9.00" fill="#fff" stroke="#ff1a1a" stroke-width="1.1"/>
<rect x="799.31" y="348.49" width="9.00" height="9.00" fill="#fff" stroke="#ff1a1a" stroke-width="1.1"/>
<rect x="807.79" y="345.08" width="9.00" height="9.00" fill="#fff" stroke="#ff1a1a" stroke-width="1.1"/>
<rect x="816.26" y="342.70" width="9.00" height="9.00" fill="#fff" stroke="#ff1a1a" stroke-width="1.1"/>
<rect x="824.74" y="340.87" width="9.00" height="9.00" fill="#fff" stroke="#ff1a1a" stroke-width="1.1"/>
<rect x="833.22" y="339.50" width="9.00" height="9.00" fill="#fff" stroke="#ff1a1a" stroke-width="1.1"/>
<rect x="841.70" y="338.24" width="9.00" height="9.00" fill="#fff" stroke="#ff1a1a" stroke-width="1.1"/>
<rect x="850.17" y="336.68" width="9.00" height="9.00" fill="#fff" stroke="#ff1a1a" stroke-width="1.1"/>
<rect x="858.65" y="334.56" width="9.00" height="9.00" fill="#fff" stroke="#ff1a1a" stroke-width="1.1"/>
<rect x="867.13" y="332.16" width="9.00" height="9.00" fill="#fff" stroke="#ff1a1a" stroke-width="1.1"/>
<rect x="875.60" y="329.86" width="9.00" height="9.00" fill="#fff" stroke="#ff1a1a" stroke-width="1.1"/>
<rect x="884.08" y="327.63" width="9.00" height="9.00" fill="#fff" stroke="#ff1a1a" stroke-width="1.1"/>
<rect x="892.56" y="325.42" width="9.00" height="9.00" fill="#fff" stroke="#ff1a1a" stroke-width="1.1"/>
<rect x="901.04" y="323.42" width="9.00" height="9.00" fill="#fff" stroke="#ff1a1a" stroke-width="1.1"/>
<rect x="909.51" y="321.78" width="9.00" height="9.00" fill="#fff" stroke="#ff1a1a" stroke-width="1.1"/>
<rect x="917.99" y="320.39" width="9.00" height="9.00" fill="#fff" stroke="#ff1a1a" stroke-width="1.1"/>
<rect x="926.47" y="319.22" width="9.00" height="9.00" fill="#fff" stroke="#ff1a1a" stroke-width="1.1"/>
<rect x="934.95" y="318.21" width="9.00" height="9.00" fill="#fff" stroke="#ff1a1a" stroke-width="1.1"/>
<rect x="943.42" y="317.33" width="9.00" height="9.00" fill="#fff" stroke="#ff1a1a" stroke-width="1.1"/>
<rect x="951.90" y="316.58" width="9.00" height="9.00" fill="#fff" stroke="#ff1a1a" stroke-width="1.1"/>
<rect x="960.38" y="315.98" width="9.00" height="9.00" fill="#fff" stroke="#ff1a1a" stroke-width="1.1"/>
<rect x="968.85" y="315.48" width="9.00" height="9.00" fill="#fff" stroke="#ff1a1a" stroke-width="1.1"/>
<rect x="977.33" y="314.90" width="9.00" height="9.00" fill="#fff" stroke="#ff1a1a" stroke-width="1.1"/>
<rect x="985.81" y="314.27" width="9.00" height="9.00" fill="#fff" stroke="#ff1a1a" stroke-width="1.1"/>
<rect x="994.29" y="313.60" width="9.00" height="9.00" fill="#fff" stroke="#ff1a1a" stroke-width="1.1"/>
<rect x="1002.76" y="312.96" width="9.00" height="9.00" fill="#fff" stroke="#ff1a1a" stroke-width="1.1"/>
<rect x="1011.24" y="312.40" width="9.00" height="9.00" fill="#fff" stroke="#ff1a1a" stroke-width="1.1"/>
<rect x="1019.72" y="311.92" width="9.00" height="9.00" fill="#fff" stroke="#ff1a1a" stroke-width="1.1"/>
<rect x="1028.20" y="311.55" width="9.00" height="9.00" fill="#fff" stroke="#ff1a1a" stroke-width="1.1"/>
<rect x="1036.67" y="311.22" width="9.00" height="9.00" fill="#fff" stroke="#ff1a1a" stroke-width="1.1"/>
<rect x="1045.15" y="310.90" width="9.00" height="9.00" fill="#fff" stroke="#ff1a1a" stroke-width="1.1"/>
<rect x="1053.63" y="310.59" width="9.00" height="9.00" fill="#fff" stroke="#ff1a1a" stroke-width="1.1"/>
<rect x="1062.10" y="310.29" width="9.00" height="9.00" fill="#fff" stroke="#ff1a1a" stroke-width="1.1"/>
<rect x="1070.58" y="309.99" width="9.00" height="9.00" fill="#fff" stroke="#ff1a1a" stroke-width="1.1"/>
<rect x="1079.06" y="309.70" width="9.00" height="9.00" fill="#fff" stroke="#ff1a1a" stroke-width="1.1"/>
<rect x="1087.54" y="309.42" width="9.00" height="9.00" fill="#fff" stroke="#ff1a1a" stroke-width="1.1"/>
<rect x="1096.01" y="309.14" width="9.00" height="9.00" fill="#fff" stroke="#ff1a1a" stroke-width="1.1"/>
<rect x="1104.49" y="308.87" width="9.00" height="9.00" fill="#fff" stroke="#ff1a1a" stroke-width="1.1"/>
<rect x="1112.97" y="308.61" width="9.00" height="9.00" fill="#fff" stroke="#ff1a1a" stroke-width="1.1"/>
<rect x="1121.45" y="308.34" width="9.00" height="9.00" fill="#fff" stroke="#ff1a1a" stroke-width="1.1"/>
<rect x="1129.92" y="308.08" width="9.00" height="9.00" fill="#fff" stroke="#ff1a1a" stroke-width="1.1"/>
<rect x="1138.40" y="307.81" width="9.00" height="9.00" fill="#fff" stroke="#ff1a1a" stroke-width="1.1"/>
<polygon points="764.80,451.06 775.00,451.06 769.90,460.56" fill="#fff" stroke="#1a1aff" stroke-width="1.1"/>
<polygon points="773.28,425.47 783.48,425.47 778.38,434.97" fill="#fff" stroke="#1a1aff" stroke-width="1.1"/>
<polygon points="781.75,411.94 791.95,411.94 786.85,421.44" fill="#fff" stroke="#1a1aff" stroke-width="1.1"/>
<polygon points="790.23,403.42 800.43,403.42 795.33,412.92" fill="#fff" stroke="#1a1aff" stroke-width="1.1"/>
<polygon points="798.71,398.73 808.91,398.73 803.81,408.23" fill="#fff" stroke="#1a1aff" stroke-width="1.1"/>
<polygon points="807.19,395.97 817.39,395.97 812.29,405.47" fill="#fff" stroke="#1a1aff" stroke-width="1.1"/>
<polygon points="815.66,393.69 825.86,393.69 820.76,403.19" fill="#fff" stroke="#1a1aff" stroke-width="1.1"/>
<polygon points="824.14,391.02 834.34,391.02 829.24,400.52" fill="#fff" stroke="#1a1aff" stroke-width="1.1"/>
<polygon points="832.62,388.10 842.82,388.10 837.72,397.60" fill="#fff" stroke="#1a1aff" stroke-width="1.1"/>
<polygon points="841.10,385.01 851.30,385.01 846.20,394.51" fill="#fff" stroke="#1a1aff" stroke-width="1.1"/>
<polygon points="849.57,381.61 859.77,381.61 854.67,391.11" fill="#fff" stroke="#1a1aff" stroke-width="1.1"/>
<polygon points="858.05,377.60 868.25,377.60 863.15,387.10" fill="#fff" stroke="#1a1aff" stroke-width="1.1"/>
<polygon points="866.53,373.31 876.73,373.31 871.63,382.81" fill="#fff" stroke="#1a1aff" stroke-width="1.1"/>
<polygon points="875.00,369.28 885.20,369.28 880.10,378.78" fill="#fff" stroke="#1a1aff" stroke-width="1.1"/>
<polygon points="883.48,365.74 893.68,365.74 888.58,375.24" fill="#fff" stroke="#1a1aff" stroke-width="1.1"/>
<polygon points="891.96,362.30 902.16,362.30 897.06,371.80" fill="#fff" stroke="#1a1aff" stroke-width="1.1"/>
<polygon points="900.44,359.33 910.64,359.33 905.54,368.83" fill="#fff" stroke="#1a1aff" stroke-width="1.1"/>
<polygon points="908.91,357.01 919.11,357.01 914.01,366.51" fill="#fff" stroke="#1a1aff" stroke-width="1.1"/>
<polygon points="917.39,355.24 927.59,355.24 922.49,364.74" fill="#fff" stroke="#1a1aff" stroke-width="1.1"/>
<polygon points="925.87,353.66 936.07,353.66 930.97,363.16" fill="#fff" stroke="#1a1aff" stroke-width="1.1"/>
<polygon points="934.35,352.05 944.55,352.05 939.45,361.55" fill="#fff" stroke="#1a1aff" stroke-width="1.1"/>
<polygon points="942.82,350.51 953.02,350.51 947.92,360.01" fill="#fff" stroke="#1a1aff" stroke-width="1.1"/>
<polygon points="951.30,349.15 961.50,349.15 956.40,358.65" fill="#fff" stroke="#1a1aff" stroke-width="1.1"/>
<polygon points="959.78,347.79 969.98,347.79 964.88,357.29" fill="#fff" stroke="#1a1aff" stroke-width="1.1"/>
<polygon points="968.25,346.56 978.45,346.56 973.35,356.06" fill="#fff" stroke="#1a1aff" stroke-width="1.1"/>
<polygon points="976.73,345.47 986.93,345.47 981.83,354.97" fill="#fff" stroke="#1a1aff" stroke-width="1.1"/>
<polygon points="985.21,344.50 995.41,344.50 990.31,354.00" fill="#fff" stroke="#1a1aff" stroke-width="1.1"/>
<polygon points="993.69,343.63 1003.89,343.63 998.79,353.13" fill="#fff" stroke="#1a1aff" stroke-width="1.1"/>
<polygon points="1002.16,342.83 1012.36,342.83 1007.26,352.33" fill="#fff" stroke="#1a1aff" stroke-width="1.1"/>
<polygon points="1010.64,342.07 1020.84,342.07 1015.74,351.57" fill="#fff" stroke="#1a1aff" stroke-width="1.1"/>
<polygon points="1019.12,341.34 1029.32,341.34 1024.22,350.84" fill="#fff" stroke="#1a1aff" stroke-width="1.1"/>
<polygon points="1027.60,340.64 1037.80,340.64 1032.70,350.14" fill="#fff" stroke="#1a1aff" stroke-width="1.1"/>
<polygon points="1036.07,339.96 1046.27,339.96 1041.17,349.46" fill="#fff" stroke="#1a1aff" stroke-width="1.1"/>
<polygon points="1044.55,339.30 1054.75,339.30 1049.65,348.80" fill="#fff" stroke="#1a1aff" stroke-width="1.1"/>
<polygon points="1053.03,338.67 1063.23,338.67 1058.13,348.17" fill="#fff" stroke="#1a1aff" stroke-width="1.1"/>
<polygon points="1061.50,338.07 1071.70,338.07 1066.60,347.57" fill="#fff" stroke="#1a1aff" stroke-width="1.1"/>
<polygon points="1069.98,337.50 1080.18,337.50 1075.08,347.00" fill="#fff" stroke="#1a1aff" stroke-width="1.1"/>
<polygon points="1078.46,336.69 1088.66,336.69 1083.56,346.19" fill="#fff" stroke="#1a1aff" stroke-width="1.1"/>
<polygon points="1086.94,335.91 1097.14,335.91 1092.04,345.41" fill="#fff" stroke="#1a1aff" stroke-width="1.1"/>
<polygon points="1095.41,335.15 1105.61,335.15 1100.51,344.65" fill="#fff" stroke="#1a1aff" stroke-width="1.1"/>
<polygon points="1103.89,334.40 1114.09,334.40 1108.99,343.90" fill="#fff" stroke="#1a1aff" stroke-width="1.1"/>
<polygon points="1112.37,333.67 1122.57,333.67 1117.47,343.17" fill="#fff" stroke="#1a1aff" stroke-width="1.1"/>
<polygon points="1120.85,332.93 1131.05,332.93 1125.95,342.43" fill="#fff" stroke="#1a1aff" stroke-width="1.1"/>
<polygon points="1129.32,332.19 1139.52,332.19 1134.42,341.69" fill="#fff" stroke="#1a1aff" stroke-width="1.1"/>
<polygon points="1137.80,331.44 1148.00,331.44 1142.90,340.94" fill="#fff" stroke="#1a1aff" stroke-width="1.1"/>
<path d="M 769.90,313.68 L 770.65,315.94 L 771.39,318.66 L 772.14,322.21 L 772.89,326.14 L 773.64,329.95 L 774.38,333.13 L 775.13,335.16 L 775.88,335.64 L 776.63,335.55 L 777.37,335.39 L 778.12,335.17 L 778.87,334.93 L 779.62,334.69 L 780.36,334.42 L 781.11,334.10 L 781.86,333.75 L 782.61,333.36 L 783.35,332.96 L 784.10,332.53 L 784.85,332.10 L 785.60,331.67 L 786.34,331.25 L 787.09,330.85 L 787.84,330.46 L 788.59,330.11 L 789.33,329.78 L 790.08,329.44 L 790.83,329.10 L 791.58,328.76 L 792.32,328.42 L 793.07,328.08 L 793.82,327.75 L 794.57,327.43 L 795.31,327.13 L 796.06,326.84 L 796.81,326.58 L 797.56,326.33 L 798.30,326.12 L 799.05,325.93 L 799.80,325.77 L 800.55,325.65 L 801.29,325.52 L 802.04,325.41 L 802.79,325.30 L 803.54,325.19 L 804.28,325.09 L 805.03,324.99 L 805.78,324.89 L 806.53,324.80 L 807.27,324.72 L 808.02,324.64 L 808.77,324.56 L 809.52,324.48 L 810.26,324.41 L 811.01,324.33 L 811.76,324.27 L 812.51,324.20 L 813.25,324.14 L 814.00,324.07 L 814.75,324.01 L 815.50,323.95 L 816.24,323.89 L 816.99,323.84 L 817.74,323.78 L 818.49,323.72 L 819.23,323.67 L 819.98,323.61 L 820.73,323.55 L 821.48,323.50 L 822.22,323.44 L 822.97,323.38 L 823.72,323.32 L 824.47,323.26 L 825.21,323.20 L 825.96,323.14 L 826.71,323.08 L 827.46,323.01 L 828.20,322.95 L 828.95,322.89 L 829.70,322.83 L 830.45,322.77 L 831.19,322.71 L 831.94,322.65 L 832.69,322.60 L 833.44,322.54 L 834.18,322.49 L 834.93,322.43 L 835.68,322.38 L 836.43,322.32 L 837.17,322.27 L 837.92,322.22 L 838.67,322.16 L 839.42,322.11 L 840.16,322.06 L 840.91,322.00 L 841.66,321.95 L 842.41,321.90 L 843.15,321.84 L 843.90,321.79 L 844.65,321.73 L 845.40,321.67 L 846.14,321.62 L 846.89,321.56 L 847.64,321.50 L 848.39,321.44 L 849.13,321.38 L 849.88,321.31 L 850.63,321.25 L 851.38,321.18 L 852.12,321.11 L 852.87,321.04 L 853.62,320.97 L 854.37,320.90 L 855.11,320.82 L 855.86,320.74 L 856.61,320.66 L 857.36,320.58 L 858.10,320.49 L 858.85,320.41 L 859.60,320.32 L 860.35,320.23 L 861.09,320.14 L 861.84,320.05 L 862.59,319.95 L 863.34,319.86 L 864.08,319.77 L 864.83,319.67 L 865.58,319.57 L 866.33,319.48 L 867.07,319.38 L 867.82,319.28 L 868.57,319.18 L 869.32,319.09 L 870.06,318.99 L 870.81,318.89 L 871.56,318.79 L 872.31,318.69 L 873.05,318.60 L 873.80,318.50 L 874.55,318.40 L 875.30,318.31 L 876.04,318.21 L 876.79,318.12 L 877.54,318.03 L 878.29,317.93 L 879.03,317.84 L 879.78,317.75 L 880.53,317.66 L 881.28,317.57 L 882.02,317.48 L 882.77,317.39 L 883.52,317.30 L 884.27,317.21 L 885.01,317.12 L 885.76,317.03 L 886.51,316.93 L 887.26,316.84 L 888.00,316.75 L 888.75,316.66 L 889.50,316.56 L 890.25,316.47 L 890.99,316.38 L 891.74,316.29 L 892.49,316.19 L 893.24,316.10 L 893.98,316.01 L 894.73,315.92 L 895.48,315.83 L 896.23,315.74 L 896.97,315.65 L 897.72,315.56 L 898.47,315.48 L 899.22,315.39 L 899.96,315.30 L 900.71,315.22 L 901.46,315.14 L 902.21,315.05 L 902.95,314.97 L 903.70,314.89 L 904.45,314.81 L 905.20,314.73 L 905.94,314.65 L 906.69,314.58 L 907.44,314.50 L 908.19,314.43 L 908.93,314.36 L 909.68,314.29 L 910.43,314.22 L 911.18,314.15 L 911.92,314.09 L 912.67,314.02 L 913.42,313.95 L 914.17,313.89 L 914.91,313.82 L 915.66,313.76 L 916.41,313.69 L 917.16,313.63 L 917.90,313.57 L 918.65,313.50 L 919.40,313.44 L 920.15,313.38 L 920.89,313.32 L 921.64,313.25 L 922.39,313.19 L 923.14,313.13 L 923.88,313.07 L 924.63,313.01 L 925.38,312.95 L 926.13,312.89 L 926.87,312.84 L 927.62,312.78 L 928.37,312.72 L 929.12,312.66 L 929.86,312.61 L 930.61,312.55 L 931.36,312.49 L 932.11,312.44 L 932.85,312.38 L 933.60,312.33 L 934.35,312.27 L 935.10,312.22 L 935.84,312.17 L 936.59,312.11 L 937.34,312.06 L 938.09,312.01 L 938.83,311.96 L 939.58,311.90 L 940.33,311.85 L 941.08,311.80 L 941.82,311.75 L 942.57,311.70 L 943.32,311.65 L 944.07,311.60 L 944.81,311.55 L 945.56,311.50 L 946.31,311.45 L 947.06,311.40 L 947.80,311.36 L 948.55,311.31 L 949.30,311.26 L 950.05,311.21 L 950.79,311.17 L 951.54,311.12 L 952.29,311.08 L 953.04,311.03 L 953.78,310.98 L 954.53,310.94 L 955.28,310.89 L 956.03,310.85 L 956.77,310.80 L 957.52,310.76 L 958.27,310.72 L 959.02,310.67 L 959.76,310.63 L 960.51,310.58 L 961.26,310.54 L 962.01,310.50 L 962.75,310.45 L 963.50,310.41 L 964.25,310.36 L 965.00,310.32 L 965.74,310.27 L 966.49,310.23 L 967.24,310.18 L 967.99,310.14 L 968.73,310.10 L 969.48,310.05 L 970.23,310.01 L 970.98,309.96 L 971.72,309.92 L 972.47,309.87 L 973.22,309.83 L 973.97,309.79 L 974.71,309.74 L 975.46,309.70 L 976.21,309.65 L 976.96,309.61 L 977.70,309.57 L 978.45,309.53 L 979.20,309.48 L 979.95,309.44 L 980.69,309.40 L 981.44,309.36 L 982.19,309.31 L 982.94,309.27 L 983.68,309.23 L 984.43,309.19 L 985.18,309.15 L 985.93,309.11 L 986.67,309.07 L 987.42,309.03 L 988.17,308.99 L 988.92,308.96 L 989.66,308.92 L 990.41,308.88 L 991.16,308.84 L 991.91,308.81 L 992.65,308.77 L 993.40,308.74 L 994.15,308.70 L 994.90,308.67 L 995.64,308.63 L 996.39,308.60 L 997.14,308.57 L 997.89,308.53 L 998.63,308.50 L 999.38,308.47 L 1000.13,308.44 L 1000.88,308.41 L 1001.62,308.38 L 1002.37,308.36 L 1003.12,308.33 L 1003.87,308.30 L 1004.61,308.27 L 1005.36,308.25 L 1006.11,308.22 L 1006.86,308.20 L 1007.60,308.18 L 1008.35,308.15 L 1009.10,308.13 L 1009.85,308.11 L 1010.59,308.09 L 1011.34,308.07 L 1012.09,308.06 L 1012.84,308.04 L 1013.58,308.02 L 1014.33,308.01 L 1015.08,307.99 L 1015.83,307.98 L 1016.57,307.96 L 1017.32,307.95 L 1018.07,307.94 L 1018.82,307.92 L 1019.56,307.91 L 1020.31,307.90 L 1021.06,307.89 L 1021.81,307.88 L 1022.55,307.86 L 1023.30,307.85 L 1024.05,307.84 L 1024.80,307.83 L 1025.54,307.82 L 1026.29,307.81 L 1027.04,307.80 L 1027.79,307.79 L 1028.53,307.78 L 1029.28,307.77 L 1030.03,307.76 L 1030.78,307.75 L 1031.52,307.74 L 1032.27,307.73 L 1033.02,307.72 L 1033.77,307.72 L 1034.51,307.71 L 1035.26,307.70 L 1036.01,307.69 L 1036.76,307.68 L 1037.50,307.67 L 1038.25,307.67 L 1039.00,307.66 L 1039.75,307.65 L 1040.49,307.64 L 1041.24,307.64 L 1041.99,307.63 L 1042.74,307.62 L 1043.48,307.61 L 1044.23,307.61 L 1044.98,307.60 L 1045.73,307.59 L 1046.47,307.59 L 1047.22,307.58 L 1047.97,307.57 L 1048.72,307.57 L 1049.46,307.56 L 1050.21,307.55 L 1050.96,307.54 L 1051.71,307.54 L 1052.45,307.53 L 1053.20,307.52 L 1053.95,307.52 L 1054.70,307.51 L 1055.44,307.50 L 1056.19,307.50 L 1056.94,307.49 L 1057.69,307.48 L 1058.43,307.47 L 1059.18,307.47 L 1059.93,307.46 L 1060.68,307.45 L 1061.42,307.44 L 1062.17,307.44 L 1062.92,307.43 L 1063.67,307.42 L 1064.41,307.41 L 1065.16,307.40 L 1065.91,307.40 L 1066.66,307.39 L 1067.40,307.38 L 1068.15,307.37 L 1068.90,307.36 L 1069.65,307.35 L 1070.39,307.34 L 1071.14,307.33 L 1071.89,307.32 L 1072.64,307.32 L 1073.38,307.31 L 1074.13,307.30 L 1074.88,307.29 L 1075.63,307.28 L 1076.37,307.26 L 1077.12,307.25 L 1077.87,307.24 L 1078.62,307.23 L 1079.36,307.22 L 1080.11,307.21 L 1080.86,307.20 L 1081.61,307.19 L 1082.35,307.18 L 1083.10,307.17 L 1083.85,307.16 L 1084.60,307.15 L 1085.34,307.14 L 1086.09,307.13 L 1086.84,307.12 L 1087.59,307.10 L 1088.33,307.09 L 1089.08,307.08 L 1089.83,307.07 L 1090.58,307.06 L 1091.32,307.05 L 1092.07,307.04 L 1092.82,307.03 L 1093.57,307.01 L 1094.31,307.00 L 1095.06,306.99 L 1095.81,306.98 L 1096.56,306.97 L 1097.30,306.96 L 1098.05,306.95 L 1098.80,306.93 L 1099.55,306.92 L 1100.29,306.91 L 1101.04,306.90 L 1101.79,306.89 L 1102.54,306.87 L 1103.28,306.86 L 1104.03,306.85 L 1104.78,306.84 L 1105.53,306.83 L 1106.27,306.81 L 1107.02,306.80 L 1107.77,306.79 L 1108.52,306.78 L 1109.26,306.77 L 1110.01,306.75 L 1110.76,306.74 L 1111.51,306.73 L 1112.25,306.72 L 1113.00,306.71 L 1113.75,306.69 L 1114.50,306.68 L 1115.24,306.67 L 1115.99,306.66 L 1116.74,306.65 L 1117.49,306.63 L 1118.23,306.62 L 1118.98,306.61 L 1119.73,306.60 L 1120.48,306.59 L 1121.22,306.57 L 1121.97,306.56 L 1122.72,306.55 L 1123.47,306.54 L 1124.21,306.52 L 1124.96,306.51 L 1125.71,306.50 L 1126.46,306.49 L 1127.20,306.48 L 1127.95,306.46 L 1128.70,306.45 L 1129.45,306.44 L 1130.19,306.43 L 1130.94,306.42 L 1131.69,306.40 L 1132.44,306.39 L 1133.18,306.38 L 1133.93,306.37 L 1134.68,306.36 L 1135.43,306.34 L 1136.17,306.33 L 1136.92,306.32 L 1137.67,306.31 L 1138.42,306.30 L 1139.16,306.29 L 1139.91,306.27 L 1140.66,306.26 L 1141.41,306.25 L 1142.15,306.24 L 1142.90,306.23" fill="none" stroke="#000" stroke-width="3.0" stroke-linejoin="round"/>
<path d="M 769.90,402.90 L 770.65,401.92 L 771.39,399.77 L 772.14,395.37 L 772.89,390.34 L 773.64,386.50 L 774.38,383.98 L 775.13,381.73 L 775.88,379.70 L 776.63,377.89 L 777.37,376.26 L 778.12,374.77 L 778.87,373.42 L 779.62,372.16 L 780.36,370.99 L 781.11,369.89 L 781.86,368.87 L 782.61,367.91 L 783.35,367.02 L 784.10,366.17 L 784.85,365.37 L 785.60,364.61 L 786.34,363.88 L 787.09,363.19 L 787.84,362.53 L 788.59,361.91 L 789.33,361.32 L 790.08,360.75 L 790.83,360.20 L 791.58,359.68 L 792.32,359.17 L 793.07,358.68 L 793.82,358.21 L 794.57,357.76 L 795.31,357.33 L 796.06,356.91 L 796.81,356.50 L 797.56,356.10 L 798.30,355.71 L 799.05,355.33 L 799.80,354.96 L 800.55,354.58 L 801.29,354.21 L 802.04,353.84 L 802.79,353.48 L 803.54,353.12 L 804.28,352.76 L 805.03,352.41 L 805.78,352.07 L 806.53,351.74 L 807.27,351.42 L 808.02,351.11 L 808.77,350.81 L 809.52,350.53 L 810.26,350.26 L 811.01,350.01 L 811.76,349.77 L 812.51,349.53 L 813.25,349.29 L 814.00,349.06 L 814.75,348.84 L 815.50,348.62 L 816.24,348.41 L 816.99,348.20 L 817.74,348.00 L 818.49,347.80 L 819.23,347.61 L 819.98,347.42 L 820.73,347.24 L 821.48,347.06 L 822.22,346.88 L 822.97,346.71 L 823.72,346.54 L 824.47,346.37 L 825.21,346.21 L 825.96,346.05 L 826.71,345.90 L 827.46,345.75 L 828.20,345.60 L 828.95,345.46 L 829.70,345.33 L 830.45,345.20 L 831.19,345.07 L 831.94,344.94 L 832.69,344.82 L 833.44,344.70 L 834.18,344.58 L 834.93,344.47 L 835.68,344.36 L 836.43,344.25 L 837.17,344.14 L 837.92,344.03 L 838.67,343.92 L 839.42,343.81 L 840.16,343.71 L 840.91,343.60 L 841.66,343.49 L 842.41,343.38 L 843.15,343.28 L 843.90,343.17 L 844.65,343.05 L 845.40,342.94 L 846.14,342.83 L 846.89,342.71 L 847.64,342.59 L 848.39,342.46 L 849.13,342.34 L 849.88,342.21 L 850.63,342.07 L 851.38,341.93 L 852.12,341.79 L 852.87,341.64 L 853.62,341.49 L 854.37,341.33 L 855.11,341.17 L 855.86,341.00 L 856.61,340.83 L 857.36,340.65 L 858.10,340.47 L 858.85,340.29 L 859.60,340.10 L 860.35,339.91 L 861.09,339.71 L 861.84,339.51 L 862.59,339.31 L 863.34,339.11 L 864.08,338.90 L 864.83,338.70 L 865.58,338.49 L 866.33,338.28 L 867.07,338.07 L 867.82,337.86 L 868.57,337.64 L 869.32,337.43 L 870.06,337.22 L 870.81,337.01 L 871.56,336.80 L 872.31,336.58 L 873.05,336.37 L 873.80,336.17 L 874.55,335.96 L 875.30,335.75 L 876.04,335.55 L 876.79,335.35 L 877.54,335.15 L 878.29,334.95 L 879.03,334.76 L 879.78,334.57 L 880.53,334.38 L 881.28,334.19 L 882.02,333.99 L 882.77,333.80 L 883.52,333.61 L 884.27,333.41 L 885.01,333.21 L 885.76,333.02 L 886.51,332.82 L 887.26,332.62 L 888.00,332.43 L 888.75,332.23 L 889.50,332.03 L 890.25,331.84 L 890.99,331.64 L 891.74,331.44 L 892.49,331.25 L 893.24,331.05 L 893.98,330.86 L 894.73,330.67 L 895.48,330.48 L 896.23,330.29 L 896.97,330.10 L 897.72,329.92 L 898.47,329.73 L 899.22,329.55 L 899.96,329.37 L 900.71,329.19 L 901.46,329.01 L 902.21,328.84 L 902.95,328.67 L 903.70,328.50 L 904.45,328.33 L 905.20,328.17 L 905.94,328.01 L 906.69,327.85 L 907.44,327.70 L 908.19,327.55 L 908.93,327.40 L 909.68,327.26 L 910.43,327.12 L 911.18,326.98 L 911.92,326.84 L 912.67,326.71 L 913.42,326.58 L 914.17,326.45 L 914.91,326.32 L 915.66,326.19 L 916.41,326.06 L 917.16,325.94 L 917.90,325.82 L 918.65,325.69 L 919.40,325.57 L 920.15,325.46 L 920.89,325.34 L 921.64,325.23 L 922.39,325.11 L 923.14,325.00 L 923.88,324.89 L 924.63,324.78 L 925.38,324.68 L 926.13,324.57 L 926.87,324.47 L 927.62,324.37 L 928.37,324.27 L 929.12,324.17 L 929.86,324.08 L 930.61,323.98 L 931.36,323.89 L 932.11,323.80 L 932.85,323.71 L 933.60,323.62 L 934.35,323.53 L 935.10,323.44 L 935.84,323.36 L 936.59,323.27 L 937.34,323.18 L 938.09,323.10 L 938.83,323.02 L 939.58,322.93 L 940.33,322.85 L 941.08,322.77 L 941.82,322.69 L 942.57,322.61 L 943.32,322.53 L 944.07,322.46 L 944.81,322.38 L 945.56,322.31 L 946.31,322.23 L 947.06,322.16 L 947.80,322.09 L 948.55,322.02 L 949.30,321.95 L 950.05,321.88 L 950.79,321.81 L 951.54,321.75 L 952.29,321.68 L 953.04,321.62 L 953.78,321.56 L 954.53,321.49 L 955.28,321.43 L 956.03,321.37 L 956.77,321.32 L 957.52,321.26 L 958.27,321.20 L 959.02,321.15 L 959.76,321.10 L 960.51,321.04 L 961.26,320.99 L 962.01,320.94 L 962.75,320.89 L 963.50,320.85 L 964.25,320.80 L 965.00,320.75 L 965.74,320.71 L 966.49,320.66 L 967.24,320.62 L 967.99,320.57 L 968.73,320.53 L 969.48,320.49 L 970.23,320.45 L 970.98,320.41 L 971.72,320.36 L 972.47,320.32 L 973.22,320.28 L 973.97,320.24 L 974.71,320.20 L 975.46,320.16 L 976.21,320.12 L 976.96,320.08 L 977.70,320.04 L 978.45,320.00 L 979.20,319.96 L 979.95,319.91 L 980.69,319.87 L 981.44,319.83 L 982.19,319.79 L 982.94,319.74 L 983.68,319.70 L 984.43,319.66 L 985.18,319.61 L 985.93,319.57 L 986.67,319.52 L 987.42,319.47 L 988.17,319.43 L 988.92,319.38 L 989.66,319.33 L 990.41,319.28 L 991.16,319.23 L 991.91,319.18 L 992.65,319.14 L 993.40,319.09 L 994.15,319.04 L 994.90,318.99 L 995.64,318.94 L 996.39,318.89 L 997.14,318.84 L 997.89,318.79 L 998.63,318.74 L 999.38,318.70 L 1000.13,318.65 L 1000.88,318.60 L 1001.62,318.55 L 1002.37,318.50 L 1003.12,318.46 L 1003.87,318.41 L 1004.61,318.37 L 1005.36,318.32 L 1006.11,318.28 L 1006.86,318.23 L 1007.60,318.19 L 1008.35,318.14 L 1009.10,318.10 L 1009.85,318.06 L 1010.59,318.02 L 1011.34,317.98 L 1012.09,317.94 L 1012.84,317.90 L 1013.58,317.87 L 1014.33,317.83 L 1015.08,317.80 L 1015.83,317.76 L 1016.57,317.73 L 1017.32,317.69 L 1018.07,317.66 L 1018.82,317.63 L 1019.56,317.60 L 1020.31,317.56 L 1021.06,317.53 L 1021.81,317.50 L 1022.55,317.47 L 1023.30,317.44 L 1024.05,317.41 L 1024.80,317.38 L 1025.54,317.35 L 1026.29,317.32 L 1027.04,317.29 L 1027.79,317.26 L 1028.53,317.23 L 1029.28,317.20 L 1030.03,317.17 L 1030.78,317.14 L 1031.52,317.11 L 1032.27,317.08 L 1033.02,317.06 L 1033.77,317.03 L 1034.51,317.00 L 1035.26,316.97 L 1036.01,316.95 L 1036.76,316.92 L 1037.50,316.89 L 1038.25,316.87 L 1039.00,316.84 L 1039.75,316.82 L 1040.49,316.79 L 1041.24,316.76 L 1041.99,316.74 L 1042.74,316.71 L 1043.48,316.69 L 1044.23,316.66 L 1044.98,316.64 L 1045.73,316.61 L 1046.47,316.59 L 1047.22,316.56 L 1047.97,316.54 L 1048.72,316.51 L 1049.46,316.49 L 1050.21,316.46 L 1050.96,316.44 L 1051.71,316.42 L 1052.45,316.39 L 1053.20,316.37 L 1053.95,316.34 L 1054.70,316.32 L 1055.44,316.30 L 1056.19,316.27 L 1056.94,316.25 L 1057.69,316.23 L 1058.43,316.20 L 1059.18,316.18 L 1059.93,316.16 L 1060.68,316.13 L 1061.42,316.11 L 1062.17,316.09 L 1062.92,316.06 L 1063.67,316.04 L 1064.41,316.02 L 1065.16,315.99 L 1065.91,315.97 L 1066.66,315.95 L 1067.40,315.92 L 1068.15,315.90 L 1068.90,315.88 L 1069.65,315.85 L 1070.39,315.83 L 1071.14,315.81 L 1071.89,315.78 L 1072.64,315.76 L 1073.38,315.74 L 1074.13,315.71 L 1074.88,315.69 L 1075.63,315.67 L 1076.37,315.64 L 1077.12,315.62 L 1077.87,315.60 L 1078.62,315.58 L 1079.36,315.55 L 1080.11,315.53 L 1080.86,315.51 L 1081.61,315.48 L 1082.35,315.46 L 1083.10,315.44 L 1083.85,315.42 L 1084.60,315.40 L 1085.34,315.37 L 1086.09,315.35 L 1086.84,315.33 L 1087.59,315.31 L 1088.33,315.29 L 1089.08,315.26 L 1089.83,315.24 L 1090.58,315.22 L 1091.32,315.20 L 1092.07,315.18 L 1092.82,315.16 L 1093.57,315.14 L 1094.31,315.11 L 1095.06,315.09 L 1095.81,315.07 L 1096.56,315.05 L 1097.30,315.03 L 1098.05,315.01 L 1098.80,314.99 L 1099.55,314.97 L 1100.29,314.95 L 1101.04,314.92 L 1101.79,314.90 L 1102.54,314.88 L 1103.28,314.86 L 1104.03,314.84 L 1104.78,314.82 L 1105.53,314.80 L 1106.27,314.78 L 1107.02,314.76 L 1107.77,314.74 L 1108.52,314.72 L 1109.26,314.70 L 1110.01,314.68 L 1110.76,314.66 L 1111.51,314.64 L 1112.25,314.62 L 1113.00,314.60 L 1113.75,314.58 L 1114.50,314.56 L 1115.24,314.54 L 1115.99,314.51 L 1116.74,314.49 L 1117.49,314.47 L 1118.23,314.45 L 1118.98,314.43 L 1119.73,314.41 L 1120.48,314.39 L 1121.22,314.37 L 1121.97,314.35 L 1122.72,314.33 L 1123.47,314.31 L 1124.21,314.29 L 1124.96,314.27 L 1125.71,314.25 L 1126.46,314.23 L 1127.20,314.21 L 1127.95,314.19 L 1128.70,314.17 L 1129.45,314.15 L 1130.19,314.13 L 1130.94,314.11 L 1131.69,314.09 L 1132.44,314.07 L 1133.18,314.05 L 1133.93,314.03 L 1134.68,314.01 L 1135.43,313.99 L 1136.17,313.96 L 1136.92,313.94 L 1137.67,313.92 L 1138.42,313.90 L 1139.16,313.88 L 1139.91,313.86 L 1140.66,313.84 L 1141.41,313.82 L 1142.15,313.80 L 1142.90,313.78" fill="none" stroke="#ff2626" stroke-width="3.0" stroke-linejoin="round"/>
<path d="M 769.90,457.81 L 770.65,452.98 L 771.39,448.10 L 772.14,443.91 L 772.89,440.71 L 773.64,437.96 L 774.38,435.55 L 775.13,433.38 L 775.88,431.33 L 776.63,429.41 L 777.37,427.64 L 778.12,426.05 L 778.87,424.68 L 779.62,423.50 L 780.36,422.38 L 781.11,421.32 L 781.86,420.31 L 782.61,419.35 L 783.35,418.43 L 784.10,417.56 L 784.85,416.72 L 785.60,415.92 L 786.34,415.15 L 787.09,414.41 L 787.84,413.69 L 788.59,412.99 L 789.33,412.32 L 790.08,411.65 L 790.83,411.00 L 791.58,410.36 L 792.32,409.72 L 793.07,409.09 L 793.82,408.46 L 794.57,407.84 L 795.31,407.24 L 796.06,406.66 L 796.81,406.11 L 797.56,405.59 L 798.30,405.11 L 799.05,404.67 L 799.80,404.27 L 800.55,403.92 L 801.29,403.58 L 802.04,403.26 L 802.79,402.94 L 803.54,402.64 L 804.28,402.35 L 805.03,402.07 L 805.78,401.80 L 806.53,401.54 L 807.27,401.29 L 808.02,401.05 L 808.77,400.81 L 809.52,400.58 L 810.26,400.36 L 811.01,400.14 L 811.76,399.93 L 812.51,399.72 L 813.25,399.51 L 814.00,399.31 L 814.75,399.11 L 815.50,398.91 L 816.24,398.71 L 816.99,398.51 L 817.74,398.32 L 818.49,398.12 L 819.23,397.92 L 819.98,397.71 L 820.73,397.51 L 821.48,397.30 L 822.22,397.09 L 822.97,396.87 L 823.72,396.64 L 824.47,396.42 L 825.21,396.18 L 825.96,395.94 L 826.71,395.68 L 827.46,395.43 L 828.20,395.18 L 828.95,394.92 L 829.70,394.67 L 830.45,394.42 L 831.19,394.16 L 831.94,393.91 L 832.69,393.65 L 833.44,393.40 L 834.18,393.14 L 834.93,392.88 L 835.68,392.62 L 836.43,392.36 L 837.17,392.10 L 837.92,391.84 L 838.67,391.58 L 839.42,391.31 L 840.16,391.04 L 840.91,390.78 L 841.66,390.51 L 842.41,390.23 L 843.15,389.96 L 843.90,389.68 L 844.65,389.41 L 845.40,389.13 L 846.14,388.84 L 846.89,388.56 L 847.64,388.27 L 848.39,387.98 L 849.13,387.69 L 849.88,387.39 L 850.63,387.09 L 851.38,386.79 L 852.12,386.49 L 852.87,386.18 L 853.62,385.87 L 854.37,385.55 L 855.11,385.22 L 855.86,384.89 L 856.61,384.55 L 857.36,384.21 L 858.10,383.86 L 858.85,383.51 L 859.60,383.15 L 860.35,382.79 L 861.09,382.43 L 861.84,382.06 L 862.59,381.69 L 863.34,381.32 L 864.08,380.94 L 864.83,380.56 L 865.58,380.19 L 866.33,379.81 L 867.07,379.43 L 867.82,379.05 L 868.57,378.67 L 869.32,378.29 L 870.06,377.91 L 870.81,377.53 L 871.56,377.16 L 872.31,376.78 L 873.05,376.41 L 873.80,376.04 L 874.55,375.68 L 875.30,375.31 L 876.04,374.96 L 876.79,374.60 L 877.54,374.25 L 878.29,373.91 L 879.03,373.57 L 879.78,373.23 L 880.53,372.90 L 881.28,372.56 L 882.02,372.22 L 882.77,371.88 L 883.52,371.54 L 884.27,371.20 L 885.01,370.85 L 885.76,370.51 L 886.51,370.17 L 887.26,369.83 L 888.00,369.48 L 888.75,369.14 L 889.50,368.80 L 890.25,368.46 L 890.99,368.12 L 891.74,367.79 L 892.49,367.45 L 893.24,367.12 L 893.98,366.79 L 894.73,366.46 L 895.48,366.14 L 896.23,365.81 L 896.97,365.50 L 897.72,365.18 L 898.47,364.87 L 899.22,364.56 L 899.96,364.26 L 900.71,363.96 L 901.46,363.67 L 902.21,363.38 L 902.95,363.10 L 903.70,362.82 L 904.45,362.55 L 905.20,362.28 L 905.94,362.02 L 906.69,361.77 L 907.44,361.52 L 908.19,361.28 L 908.93,361.05 L 909.68,360.82 L 910.43,360.60 L 911.18,360.39 L 911.92,360.18 L 912.67,359.98 L 913.42,359.78 L 914.17,359.59 L 914.91,359.40 L 915.66,359.21 L 916.41,359.03 L 917.16,358.85 L 917.90,358.67 L 918.65,358.50 L 919.40,358.33 L 920.15,358.16 L 920.89,357.99 L 921.64,357.83 L 922.39,357.67 L 923.14,357.51 L 923.88,357.35 L 924.63,357.19 L 925.38,357.03 L 926.13,356.87 L 926.87,356.72 L 927.62,356.56 L 928.37,356.40 L 929.12,356.24 L 929.86,356.09 L 930.61,355.93 L 931.36,355.77 L 932.11,355.61 L 932.85,355.44 L 933.60,355.28 L 934.35,355.12 L 935.10,354.96 L 935.84,354.80 L 936.59,354.64 L 937.34,354.48 L 938.09,354.32 L 938.83,354.16 L 939.58,354.00 L 940.33,353.84 L 941.08,353.68 L 941.82,353.53 L 942.57,353.37 L 943.32,353.21 L 944.07,353.06 L 944.81,352.91 L 945.56,352.75 L 946.31,352.60 L 947.06,352.45 L 947.80,352.30 L 948.55,352.15 L 949.30,352.01 L 950.05,351.86 L 950.79,351.72 L 951.54,351.58 L 952.29,351.44 L 953.04,351.30 L 953.78,351.17 L 954.53,351.03 L 955.28,350.90 L 956.03,350.77 L 956.77,350.64 L 957.52,350.51 L 958.27,350.39 L 959.02,350.27 L 959.76,350.15 L 960.51,350.03 L 961.26,349.91 L 962.01,349.79 L 962.75,349.67 L 963.50,349.55 L 964.25,349.44 L 965.00,349.32 L 965.74,349.21 L 966.49,349.10 L 967.24,348.99 L 967.99,348.88 L 968.73,348.77 L 969.48,348.66 L 970.23,348.55 L 970.98,348.45 L 971.72,348.34 L 972.47,348.24 L 973.22,348.14 L 973.97,348.03 L 974.71,347.93 L 975.46,347.83 L 976.21,347.74 L 976.96,347.64 L 977.70,347.54 L 978.45,347.44 L 979.20,347.35 L 979.95,347.26 L 980.69,347.16 L 981.44,347.07 L 982.19,346.98 L 982.94,346.89 L 983.68,346.80 L 984.43,346.71 L 985.18,346.63 L 985.93,346.54 L 986.67,346.46 L 987.42,346.37 L 988.17,346.29 L 988.92,346.21 L 989.66,346.13 L 990.41,346.05 L 991.16,345.97 L 991.91,345.89 L 992.65,345.81 L 993.40,345.73 L 994.15,345.65 L 994.90,345.58 L 995.64,345.50 L 996.39,345.43 L 997.14,345.35 L 997.89,345.28 L 998.63,345.20 L 999.38,345.13 L 1000.13,345.06 L 1000.88,344.99 L 1001.62,344.92 L 1002.37,344.84 L 1003.12,344.77 L 1003.87,344.70 L 1004.61,344.63 L 1005.36,344.56 L 1006.11,344.49 L 1006.86,344.43 L 1007.60,344.36 L 1008.35,344.29 L 1009.10,344.22 L 1009.85,344.15 L 1010.59,344.08 L 1011.34,344.02 L 1012.09,343.95 L 1012.84,343.88 L 1013.58,343.81 L 1014.33,343.75 L 1015.08,343.68 L 1015.83,343.61 L 1016.57,343.55 L 1017.32,343.48 L 1018.07,343.41 L 1018.82,343.35 L 1019.56,343.28 L 1020.31,343.21 L 1021.06,343.15 L 1021.81,343.08 L 1022.55,343.02 L 1023.30,342.95 L 1024.05,342.88 L 1024.80,342.82 L 1025.54,342.75 L 1026.29,342.69 L 1027.04,342.62 L 1027.79,342.56 L 1028.53,342.49 L 1029.28,342.43 L 1030.03,342.37 L 1030.78,342.30 L 1031.52,342.24 L 1032.27,342.17 L 1033.02,342.11 L 1033.77,342.05 L 1034.51,341.98 L 1035.26,341.92 L 1036.01,341.86 L 1036.76,341.80 L 1037.50,341.73 L 1038.25,341.67 L 1039.00,341.61 L 1039.75,341.55 L 1040.49,341.49 L 1041.24,341.42 L 1041.99,341.36 L 1042.74,341.30 L 1043.48,341.24 L 1044.23,341.18 L 1044.98,341.12 L 1045.73,341.06 L 1046.47,341.00 L 1047.22,340.94 L 1047.97,340.88 L 1048.72,340.82 L 1049.46,340.76 L 1050.21,340.70 L 1050.96,340.64 L 1051.71,340.58 L 1052.45,340.52 L 1053.20,340.47 L 1053.95,340.41 L 1054.70,340.35 L 1055.44,340.29 L 1056.19,340.23 L 1056.94,340.18 L 1057.69,340.12 L 1058.43,340.06 L 1059.18,340.01 L 1059.93,339.95 L 1060.68,339.89 L 1061.42,339.84 L 1062.17,339.78 L 1062.92,339.73 L 1063.67,339.67 L 1064.41,339.62 L 1065.16,339.56 L 1065.91,339.51 L 1066.66,339.45 L 1067.40,339.40 L 1068.15,339.35 L 1068.90,339.29 L 1069.65,339.24 L 1070.39,339.19 L 1071.14,339.13 L 1071.89,339.08 L 1072.64,339.03 L 1073.38,338.98 L 1074.13,338.92 L 1074.88,338.87 L 1075.63,338.82 L 1076.37,338.77 L 1077.12,338.72 L 1077.87,338.67 L 1078.62,338.62 L 1079.36,338.57 L 1080.11,338.52 L 1080.86,338.47 L 1081.61,338.42 L 1082.35,338.37 L 1083.10,338.32 L 1083.85,338.27 L 1084.60,338.23 L 1085.34,338.18 L 1086.09,338.13 L 1086.84,338.08 L 1087.59,338.03 L 1088.33,337.99 L 1089.08,337.94 L 1089.83,337.89 L 1090.58,337.85 L 1091.32,337.80 L 1092.07,337.75 L 1092.82,337.71 L 1093.57,337.66 L 1094.31,337.62 L 1095.06,337.57 L 1095.81,337.52 L 1096.56,337.48 L 1097.30,337.43 L 1098.05,337.39 L 1098.80,337.34 L 1099.55,337.30 L 1100.29,337.25 L 1101.04,337.21 L 1101.79,337.16 L 1102.54,337.12 L 1103.28,337.08 L 1104.03,337.03 L 1104.78,336.99 L 1105.53,336.94 L 1106.27,336.90 L 1107.02,336.86 L 1107.77,336.81 L 1108.52,336.77 L 1109.26,336.72 L 1110.01,336.68 L 1110.76,336.64 L 1111.51,336.59 L 1112.25,336.55 L 1113.00,336.51 L 1113.75,336.46 L 1114.50,336.42 L 1115.24,336.38 L 1115.99,336.33 L 1116.74,336.29 L 1117.49,336.25 L 1118.23,336.21 L 1118.98,336.16 L 1119.73,336.12 L 1120.48,336.08 L 1121.22,336.03 L 1121.97,335.99 L 1122.72,335.95 L 1123.47,335.90 L 1124.21,335.86 L 1124.96,335.82 L 1125.71,335.77 L 1126.46,335.73 L 1127.20,335.69 L 1127.95,335.64 L 1128.70,335.60 L 1129.45,335.56 L 1130.19,335.51 L 1130.94,335.47 L 1131.69,335.43 L 1132.44,335.38 L 1133.18,335.34 L 1133.93,335.29 L 1134.68,335.25 L 1135.43,335.21 L 1136.17,335.16 L 1136.92,335.12 L 1137.67,335.07 L 1138.42,335.03 L 1139.16,334.98 L 1139.91,334.94 L 1140.66,334.89 L 1141.41,334.85 L 1142.15,334.80 L 1142.90,334.76" fill="none" stroke="#0000ff" stroke-width="3.0" stroke-linejoin="round"/>
<rect x="769.90" y="569.60" width="373.00" height="393.00" fill="none" stroke="#000" stroke-width="2.0"/>
<line x1="769.90" y1="766.10" x2="1142.90" y2="766.10" stroke="#000" stroke-width="2.0"/>
<line x1="803.81" y1="569.60" x2="803.81" y2="575.90" stroke="#000" stroke-width="1.8"/>
<line x1="803.81" y1="962.60" x2="803.81" y2="956.30" stroke="#000" stroke-width="1.8"/>
<line x1="803.81" y1="760.50" x2="803.81" y2="771.70" stroke="#000" stroke-width="1.8"/>
<line x1="846.20" y1="569.60" x2="846.20" y2="572.80" stroke="#000" stroke-width="1.8"/>
<line x1="846.20" y1="962.60" x2="846.20" y2="959.40" stroke="#000" stroke-width="1.8"/>
<line x1="846.20" y1="763.00" x2="846.20" y2="769.20" stroke="#000" stroke-width="1.8"/>
<line x1="888.58" y1="569.60" x2="888.58" y2="575.90" stroke="#000" stroke-width="1.8"/>
<line x1="888.58" y1="962.60" x2="888.58" y2="956.30" stroke="#000" stroke-width="1.8"/>
<line x1="888.58" y1="760.50" x2="888.58" y2="771.70" stroke="#000" stroke-width="1.8"/>
<line x1="930.97" y1="569.60" x2="930.97" y2="572.80" stroke="#000" stroke-width="1.8"/>
<line x1="930.97" y1="962.60" x2="930.97" y2="959.40" stroke="#000" stroke-width="1.8"/>
<line x1="930.97" y1="763.00" x2="930.97" y2="769.20" stroke="#000" stroke-width="1.8"/>
<line x1="973.35" y1="569.60" x2="973.35" y2="575.90" stroke="#000" stroke-width="1.8"/>
<line x1="973.35" y1="962.60" x2="973.35" y2="956.30" stroke="#000" stroke-width="1.8"/>
<line x1="973.35" y1="760.50" x2="973.35" y2="771.70" stroke="#000" stroke-width="1.8"/>
<line x1="1015.74" y1="569.60" x2="1015.74" y2="572.80" stroke="#000" stroke-width="1.8"/>
<line x1="1015.74" y1="962.60" x2="1015.74" y2="959.40" stroke="#000" stroke-width="1.8"/>
<line x1="1015.74" y1="763.00" x2="1015.74" y2="769.20" stroke="#000" stroke-width="1.8"/>
<line x1="1058.13" y1="569.60" x2="1058.13" y2="575.90" stroke="#000" stroke-width="1.8"/>
<line x1="1058.13" y1="962.60" x2="1058.13" y2="956.30" stroke="#000" stroke-width="1.8"/>
<line x1="1058.13" y1="760.50" x2="1058.13" y2="771.70" stroke="#000" stroke-width="1.8"/>
<line x1="1100.51" y1="569.60" x2="1100.51" y2="572.80" stroke="#000" stroke-width="1.8"/>
<line x1="1100.51" y1="962.60" x2="1100.51" y2="959.40" stroke="#000" stroke-width="1.8"/>
<line x1="1100.51" y1="763.00" x2="1100.51" y2="769.20" stroke="#000" stroke-width="1.8"/>
<line x1="769.90" y1="741.54" x2="773.10" y2="741.54" stroke="#000" stroke-width="1.8"/>
<line x1="1142.90" y1="741.54" x2="1139.70" y2="741.54" stroke="#000" stroke-width="1.8"/>
<line x1="769.90" y1="716.98" x2="776.20" y2="716.98" stroke="#000" stroke-width="1.8"/>
<line x1="1142.90" y1="716.98" x2="1136.60" y2="716.98" stroke="#000" stroke-width="1.8"/>
<line x1="769.90" y1="692.41" x2="773.10" y2="692.41" stroke="#000" stroke-width="1.8"/>
<line x1="1142.90" y1="692.41" x2="1139.70" y2="692.41" stroke="#000" stroke-width="1.8"/>
<line x1="769.90" y1="667.85" x2="776.20" y2="667.85" stroke="#000" stroke-width="1.8"/>
<line x1="1142.90" y1="667.85" x2="1136.60" y2="667.85" stroke="#000" stroke-width="1.8"/>
<line x1="769.90" y1="643.29" x2="773.10" y2="643.29" stroke="#000" stroke-width="1.8"/>
<line x1="1142.90" y1="643.29" x2="1139.70" y2="643.29" stroke="#000" stroke-width="1.8"/>
<line x1="769.90" y1="618.73" x2="776.20" y2="618.73" stroke="#000" stroke-width="1.8"/>
<line x1="1142.90" y1="618.73" x2="1136.60" y2="618.73" stroke="#000" stroke-width="1.8"/>
<line x1="769.90" y1="594.16" x2="773.10" y2="594.16" stroke="#000" stroke-width="1.8"/>
<line x1="1142.90" y1="594.16" x2="1139.70" y2="594.16" stroke="#000" stroke-width="1.8"/>
<line x1="769.90" y1="938.04" x2="773.10" y2="938.04" stroke="#000" stroke-width="1.8"/>
<line x1="1142.90" y1="938.04" x2="1139.70" y2="938.04" stroke="#000" stroke-width="1.8"/>
<line x1="769.90" y1="913.48" x2="776.20" y2="913.48" stroke="#000" stroke-width="1.8"/>
<line x1="1142.90" y1="913.48" x2="1136.60" y2="913.48" stroke="#000" stroke-width="1.8"/>
<line x1="769.90" y1="888.91" x2="773.10" y2="888.91" stroke="#000" stroke-width="1.8"/>
<line x1="1142.90" y1="888.91" x2="1139.70" y2="888.91" stroke="#000" stroke-width="1.8"/>
<line x1="769.90" y1="864.35" x2="776.20" y2="864.35" stroke="#000" stroke-width="1.8"/>
<line x1="1142.90" y1="864.35" x2="1136.60" y2="864.35" stroke="#000" stroke-width="1.8"/>
<line x1="769.90" y1="839.79" x2="773.10" y2="839.79" stroke="#000" stroke-width="1.8"/>
<line x1="1142.90" y1="839.79" x2="1139.70" y2="839.79" stroke="#000" stroke-width="1.8"/>
<line x1="769.90" y1="815.23" x2="776.20" y2="815.23" stroke="#000" stroke-width="1.8"/>
<line x1="1142.90" y1="815.23" x2="1136.60" y2="815.23" stroke="#000" stroke-width="1.8"/>
<line x1="769.90" y1="790.66" x2="773.10" y2="790.66" stroke="#000" stroke-width="1.8"/>
<line x1="1142.90" y1="790.66" x2="1139.70" y2="790.66" stroke="#000" stroke-width="1.8"/>
<text x="766.30" y="774.80" font-size="23.4" text-anchor="end" fill="#000" font-weight="normal" font-style="normal" font-family="'Liberation Sans', Arial, sans-serif" >0</text>
<text x="766.30" y="725.68" font-size="23.4" text-anchor="end" fill="#000" font-weight="normal" font-style="normal" font-family="'Liberation Sans', Arial, sans-serif" >10</text>
<text x="766.30" y="676.55" font-size="23.4" text-anchor="end" fill="#000" font-weight="normal" font-style="normal" font-family="'Liberation Sans', Arial, sans-serif" >20</text>
<text x="766.30" y="627.43" font-size="23.4" text-anchor="end" fill="#000" font-weight="normal" font-style="normal" font-family="'Liberation Sans', Arial, sans-serif" >30</text>
<text x="766.30" y="578.30" font-size="23.4" text-anchor="end" fill="#000" font-weight="normal" font-style="normal" font-family="'Liberation Sans', Arial, sans-serif" >40</text>
<text x="766.30" y="971.30" font-size="23.4" text-anchor="end" fill="#000" font-weight="normal" font-style="normal" font-family="'Liberation Sans', Arial, sans-serif" >0</text>
<text x="766.30" y="922.18" font-size="23.4" text-anchor="end" fill="#000" font-weight="normal" font-style="normal" font-family="'Liberation Sans', Arial, sans-serif" >50</text>
<text x="766.30" y="873.05" font-size="23.4" text-anchor="end" fill="#000" font-weight="normal" font-style="normal" font-family="'Liberation Sans', Arial, sans-serif" >100</text>
<text x="766.30" y="823.93" font-size="23.4" text-anchor="end" fill="#000" font-weight="normal" font-style="normal" font-family="'Liberation Sans', Arial, sans-serif" >150</text>
<text x="804.11" y="989.10" font-size="23.4" text-anchor="middle" fill="#000" font-weight="normal" font-style="normal" font-family="'Liberation Sans', Arial, sans-serif" >0.5</text>
<text x="888.88" y="989.10" font-size="23.4" text-anchor="middle" fill="#000" font-weight="normal" font-style="normal" font-family="'Liberation Sans', Arial, sans-serif" >1.0</text>
<text x="973.65" y="989.10" font-size="23.4" text-anchor="middle" fill="#000" font-weight="normal" font-style="normal" font-family="'Liberation Sans', Arial, sans-serif" >1.5</text>
<text x="1058.43" y="989.10" font-size="23.4" text-anchor="middle" fill="#000" font-weight="normal" font-style="normal" font-family="'Liberation Sans', Arial, sans-serif" >2.0</text>
<text x="1143.20" y="989.10" font-size="23.4" text-anchor="middle" fill="#000" font-weight="normal" font-style="normal" font-family="'Liberation Sans', Arial, sans-serif" >2.5</text>
<text x="956.90" y="1028.20" font-size="28.7" text-anchor="middle" fill="#000" font-weight="normal" font-style="normal" font-family="'Liberation Sans', Arial, sans-serif" >Wavelength (&#181;m)</text>
<text transform="translate(719.2,665.20) rotate(-90)" text-anchor="middle" font-size="28" font-family="'Liberation Sans', Arial, sans-serif"><tspan font-family="'Liberation Serif', 'Times New Roman', serif" font-size="30.5">&#936;</tspan> (degrees)</text>
<text transform="translate(719.2,862.20) rotate(-90)" text-anchor="middle" font-size="28" font-family="'Liberation Sans', Arial, sans-serif">&#916; (degrees)</text>
<circle cx="769.90" cy="670.80" r="4.90" fill="#fff" stroke="#000" stroke-width="1.1"/>
<circle cx="778.38" cy="714.03" r="4.90" fill="#fff" stroke="#000" stroke-width="1.1"/>
<circle cx="786.85" cy="671.78" r="4.90" fill="#fff" stroke="#000" stroke-width="1.1"/>
<circle cx="795.33" cy="654.40" r="4.90" fill="#fff" stroke="#000" stroke-width="1.1"/>
<circle cx="803.81" cy="648.94" r="4.90" fill="#fff" stroke="#000" stroke-width="1.1"/>
<circle cx="812.29" cy="645.03" r="4.90" fill="#fff" stroke="#000" stroke-width="1.1"/>
<circle cx="820.76" cy="642.19" r="4.90" fill="#fff" stroke="#000" stroke-width="1.1"/>
<circle cx="829.24" cy="640.30" r="4.90" fill="#fff" stroke="#000" stroke-width="1.1"/>
<circle cx="837.72" cy="638.36" r="4.90" fill="#fff" stroke="#000" stroke-width="1.1"/>
<circle cx="846.20" cy="636.19" r="4.90" fill="#fff" stroke="#000" stroke-width="1.1"/>
<circle cx="854.67" cy="633.91" r="4.90" fill="#fff" stroke="#000" stroke-width="1.1"/>
<circle cx="863.15" cy="631.38" r="4.90" fill="#fff" stroke="#000" stroke-width="1.1"/>
<circle cx="871.63" cy="628.93" r="4.90" fill="#fff" stroke="#000" stroke-width="1.1"/>
<circle cx="880.10" cy="626.85" r="4.90" fill="#fff" stroke="#000" stroke-width="1.1"/>
<circle cx="888.58" cy="625.10" r="4.90" fill="#fff" stroke="#000" stroke-width="1.1"/>
<circle cx="897.06" cy="624.06" r="4.90" fill="#fff" stroke="#000" stroke-width="1.1"/>
<circle cx="905.54" cy="623.35" r="4.90" fill="#fff" stroke="#000" stroke-width="1.1"/>
<circle cx="914.01" cy="623.08" r="4.90" fill="#fff" stroke="#000" stroke-width="1.1"/>
<circle cx="922.49" cy="622.94" r="4.90" fill="#fff" stroke="#000" stroke-width="1.1"/>
<circle cx="930.97" cy="622.82" r="4.90" fill="#fff" stroke="#000" stroke-width="1.1"/>
<circle cx="939.45" cy="622.74" r="4.90" fill="#fff" stroke="#000" stroke-width="1.1"/>
<circle cx="947.92" cy="622.68" r="4.90" fill="#fff" stroke="#000" stroke-width="1.1"/>
<circle cx="956.40" cy="622.66" r="4.90" fill="#fff" stroke="#000" stroke-width="1.1"/>
<circle cx="964.88" cy="622.66" r="4.90" fill="#fff" stroke="#000" stroke-width="1.1"/>
<circle cx="973.35" cy="622.68" r="4.90" fill="#fff" stroke="#000" stroke-width="1.1"/>
<circle cx="981.83" cy="622.72" r="4.90" fill="#fff" stroke="#000" stroke-width="1.1"/>
<circle cx="990.31" cy="622.77" r="4.90" fill="#fff" stroke="#000" stroke-width="1.1"/>
<circle cx="998.79" cy="622.83" r="4.90" fill="#fff" stroke="#000" stroke-width="1.1"/>
<circle cx="1007.26" cy="622.89" r="4.90" fill="#fff" stroke="#000" stroke-width="1.1"/>
<circle cx="1015.74" cy="622.95" r="4.90" fill="#fff" stroke="#000" stroke-width="1.1"/>
<circle cx="1024.22" cy="623.01" r="4.90" fill="#fff" stroke="#000" stroke-width="1.1"/>
<circle cx="1032.70" cy="623.07" r="4.90" fill="#fff" stroke="#000" stroke-width="1.1"/>
<circle cx="1041.17" cy="623.11" r="4.90" fill="#fff" stroke="#000" stroke-width="1.1"/>
<circle cx="1049.65" cy="623.14" r="4.90" fill="#fff" stroke="#000" stroke-width="1.1"/>
<circle cx="1058.13" cy="623.15" r="4.90" fill="#fff" stroke="#000" stroke-width="1.1"/>
<circle cx="1066.60" cy="623.15" r="4.90" fill="#fff" stroke="#000" stroke-width="1.1"/>
<circle cx="1075.08" cy="623.15" r="4.90" fill="#fff" stroke="#000" stroke-width="1.1"/>
<circle cx="1083.56" cy="623.15" r="4.90" fill="#fff" stroke="#000" stroke-width="1.1"/>
<circle cx="1092.04" cy="623.15" r="4.90" fill="#fff" stroke="#000" stroke-width="1.1"/>
<circle cx="1100.51" cy="623.15" r="4.90" fill="#fff" stroke="#000" stroke-width="1.1"/>
<circle cx="1108.99" cy="623.15" r="4.90" fill="#fff" stroke="#000" stroke-width="1.1"/>
<circle cx="1117.47" cy="623.15" r="4.90" fill="#fff" stroke="#000" stroke-width="1.1"/>
<circle cx="1125.95" cy="623.15" r="4.90" fill="#fff" stroke="#000" stroke-width="1.1"/>
<circle cx="1134.42" cy="623.15" r="4.90" fill="#fff" stroke="#000" stroke-width="1.1"/>
<circle cx="1142.90" cy="625.11" r="4.90" fill="#fff" stroke="#000" stroke-width="1.1"/>
<rect x="765.40" y="734.09" width="9.00" height="9.00" fill="#fff" stroke="#ff1a1a" stroke-width="1.1"/>
<rect x="773.88" y="703.14" width="9.00" height="9.00" fill="#fff" stroke="#ff1a1a" stroke-width="1.1"/>
<rect x="782.35" y="674.65" width="9.00" height="9.00" fill="#fff" stroke="#ff1a1a" stroke-width="1.1"/>
<rect x="790.83" y="666.99" width="9.00" height="9.00" fill="#fff" stroke="#ff1a1a" stroke-width="1.1"/>
<rect x="799.31" y="666.93" width="9.00" height="9.00" fill="#fff" stroke="#ff1a1a" stroke-width="1.1"/>
<rect x="807.79" y="667.47" width="9.00" height="9.00" fill="#fff" stroke="#ff1a1a" stroke-width="1.1"/>
<rect x="816.26" y="668.08" width="9.00" height="9.00" fill="#fff" stroke="#ff1a1a" stroke-width="1.1"/>
<rect x="824.74" y="668.73" width="9.00" height="9.00" fill="#fff" stroke="#ff1a1a" stroke-width="1.1"/>
<rect x="833.22" y="668.44" width="9.00" height="9.00" fill="#fff" stroke="#ff1a1a" stroke-width="1.1"/>
<rect x="841.70" y="669.24" width="9.00" height="9.00" fill="#fff" stroke="#ff1a1a" stroke-width="1.1"/>
<rect x="850.17" y="665.68" width="9.00" height="9.00" fill="#fff" stroke="#ff1a1a" stroke-width="1.1"/>
<rect x="858.65" y="662.82" width="9.00" height="9.00" fill="#fff" stroke="#ff1a1a" stroke-width="1.1"/>
<rect x="867.13" y="660.81" width="9.00" height="9.00" fill="#fff" stroke="#ff1a1a" stroke-width="1.1"/>
<rect x="875.60" y="659.24" width="9.00" height="9.00" fill="#fff" stroke="#ff1a1a" stroke-width="1.1"/>
<rect x="884.08" y="658.12" width="9.00" height="9.00" fill="#fff" stroke="#ff1a1a" stroke-width="1.1"/>
<rect x="892.56" y="657.22" width="9.00" height="9.00" fill="#fff" stroke="#ff1a1a" stroke-width="1.1"/>
<rect x="901.04" y="656.97" width="9.00" height="9.00" fill="#fff" stroke="#ff1a1a" stroke-width="1.1"/>
<rect x="909.51" y="657.12" width="9.00" height="9.00" fill="#fff" stroke="#ff1a1a" stroke-width="1.1"/>
<rect x="917.99" y="657.38" width="9.00" height="9.00" fill="#fff" stroke="#ff1a1a" stroke-width="1.1"/>
<rect x="926.47" y="657.72" width="9.00" height="9.00" fill="#fff" stroke="#ff1a1a" stroke-width="1.1"/>
<rect x="934.95" y="658.22" width="9.00" height="9.00" fill="#fff" stroke="#ff1a1a" stroke-width="1.1"/>
<rect x="943.42" y="658.82" width="9.00" height="9.00" fill="#fff" stroke="#ff1a1a" stroke-width="1.1"/>
<rect x="951.90" y="659.45" width="9.00" height="9.00" fill="#fff" stroke="#ff1a1a" stroke-width="1.1"/>
<rect x="960.38" y="660.03" width="9.00" height="9.00" fill="#fff" stroke="#ff1a1a" stroke-width="1.1"/>
<rect x="968.85" y="660.52" width="9.00" height="9.00" fill="#fff" stroke="#ff1a1a" stroke-width="1.1"/>
<rect x="977.33" y="661.03" width="9.00" height="9.00" fill="#fff" stroke="#ff1a1a" stroke-width="1.1"/>
<rect x="985.81" y="661.51" width="9.00" height="9.00" fill="#fff" stroke="#ff1a1a" stroke-width="1.1"/>
<rect x="994.29" y="661.94" width="9.00" height="9.00" fill="#fff" stroke="#ff1a1a" stroke-width="1.1"/>
<rect x="1002.76" y="662.29" width="9.00" height="9.00" fill="#fff" stroke="#ff1a1a" stroke-width="1.1"/>
<rect x="1011.24" y="662.55" width="9.00" height="9.00" fill="#fff" stroke="#ff1a1a" stroke-width="1.1"/>
<rect x="1019.72" y="662.77" width="9.00" height="9.00" fill="#fff" stroke="#ff1a1a" stroke-width="1.1"/>
<rect x="1028.20" y="662.95" width="9.00" height="9.00" fill="#fff" stroke="#ff1a1a" stroke-width="1.1"/>
<rect x="1036.67" y="663.12" width="9.00" height="9.00" fill="#fff" stroke="#ff1a1a" stroke-width="1.1"/>
<rect x="1045.15" y="663.30" width="9.00" height="9.00" fill="#fff" stroke="#ff1a1a" stroke-width="1.1"/>
<rect x="1053.63" y="663.50" width="9.00" height="9.00" fill="#fff" stroke="#ff1a1a" stroke-width="1.1"/>
<rect x="1062.10" y="663.70" width="9.00" height="9.00" fill="#fff" stroke="#ff1a1a" stroke-width="1.1"/>
<rect x="1070.58" y="663.90" width="9.00" height="9.00" fill="#fff" stroke="#ff1a1a" stroke-width="1.1"/>
<rect x="1079.06" y="664.09" width="9.00" height="9.00" fill="#fff" stroke="#ff1a1a" stroke-width="1.1"/>
<rect x="1087.54" y="664.28" width="9.00" height="9.00" fill="#fff" stroke="#ff1a1a" stroke-width="1.1"/>
<rect x="1096.01" y="664.47" width="9.00" height="9.00" fill="#fff" stroke="#ff1a1a" stroke-width="1.1"/>
<rect x="1104.49" y="664.64" width="9.00" height="9.00" fill="#fff" stroke="#ff1a1a" stroke-width="1.1"/>
<rect x="1112.97" y="664.81" width="9.00" height="9.00" fill="#fff" stroke="#ff1a1a" stroke-width="1.1"/>
<rect x="1121.45" y="664.98" width="9.00" height="9.00" fill="#fff" stroke="#ff1a1a" stroke-width="1.1"/>
<rect x="1129.92" y="665.15" width="9.00" height="9.00" fill="#fff" stroke="#ff1a1a" stroke-width="1.1"/>
<rect x="1138.40" y="667.28" width="9.00" height="9.00" fill="#fff" stroke="#ff1a1a" stroke-width="1.1"/>
<polygon points="764.80,698.43 775.00,698.43 769.90,707.93" fill="#fff" stroke="#1a1aff" stroke-width="1.1"/>
<polygon points="773.28,645.87 783.48,645.87 778.38,655.37" fill="#fff" stroke="#1a1aff" stroke-width="1.1"/>
<polygon points="781.75,642.43 791.95,642.43 786.85,651.93" fill="#fff" stroke="#1a1aff" stroke-width="1.1"/>
<polygon points="790.23,648.63 800.43,648.63 795.33,658.13" fill="#fff" stroke="#1a1aff" stroke-width="1.1"/>
<polygon points="798.71,658.50 808.91,658.50 803.81,668.00" fill="#fff" stroke="#1a1aff" stroke-width="1.1"/>
<polygon points="807.19,666.43 817.39,666.43 812.29,675.93" fill="#fff" stroke="#1a1aff" stroke-width="1.1"/>
<polygon points="815.66,671.35 825.86,671.35 820.76,680.85" fill="#fff" stroke="#1a1aff" stroke-width="1.1"/>
<polygon points="824.14,674.78 834.34,674.78 829.24,684.28" fill="#fff" stroke="#1a1aff" stroke-width="1.1"/>
<polygon points="832.62,676.98 842.82,676.98 837.72,686.48" fill="#fff" stroke="#1a1aff" stroke-width="1.1"/>
<polygon points="841.10,678.86 851.30,678.86 846.20,688.36" fill="#fff" stroke="#1a1aff" stroke-width="1.1"/>
<polygon points="849.57,681.12 859.77,681.12 854.67,690.62" fill="#fff" stroke="#1a1aff" stroke-width="1.1"/>
<polygon points="858.05,683.51 868.25,683.51 863.15,693.01" fill="#fff" stroke="#1a1aff" stroke-width="1.1"/>
<polygon points="866.53,686.00 876.73,686.00 871.63,695.50" fill="#fff" stroke="#1a1aff" stroke-width="1.1"/>
<polygon points="875.00,688.65 885.20,688.65 880.10,698.15" fill="#fff" stroke="#1a1aff" stroke-width="1.1"/>
<polygon points="883.48,691.48 893.68,691.48 888.58,700.98" fill="#fff" stroke="#1a1aff" stroke-width="1.1"/>
<polygon points="891.96,694.49 902.16,694.49 897.06,703.99" fill="#fff" stroke="#1a1aff" stroke-width="1.1"/>
<polygon points="900.44,696.59 910.64,696.59 905.54,706.09" fill="#fff" stroke="#1a1aff" stroke-width="1.1"/>
<polygon points="908.91,698.73 919.11,698.73 914.01,708.23" fill="#fff" stroke="#1a1aff" stroke-width="1.1"/>
<polygon points="917.39,700.77 927.59,700.77 922.49,710.27" fill="#fff" stroke="#1a1aff" stroke-width="1.1"/>
<polygon points="925.87,702.53 936.07,702.53 930.97,712.03" fill="#fff" stroke="#1a1aff" stroke-width="1.1"/>
<polygon points="934.35,704.10 944.55,704.10 939.45,713.60" fill="#fff" stroke="#1a1aff" stroke-width="1.1"/>
<polygon points="942.82,705.51 953.02,705.51 947.92,715.01" fill="#fff" stroke="#1a1aff" stroke-width="1.1"/>
<polygon points="951.30,707.23 961.50,707.23 956.40,716.73" fill="#fff" stroke="#1a1aff" stroke-width="1.1"/>
<polygon points="959.78,708.70 969.98,708.70 964.88,718.20" fill="#fff" stroke="#1a1aff" stroke-width="1.1"/>
<polygon points="968.25,709.77 978.45,709.77 973.35,719.27" fill="#fff" stroke="#1a1aff" stroke-width="1.1"/>
<polygon points="976.73,710.65 986.93,710.65 981.83,720.15" fill="#fff" stroke="#1a1aff" stroke-width="1.1"/>
<polygon points="985.21,711.42 995.41,711.42 990.31,720.92" fill="#fff" stroke="#1a1aff" stroke-width="1.1"/>
<polygon points="993.69,712.10 1003.89,712.10 998.79,721.60" fill="#fff" stroke="#1a1aff" stroke-width="1.1"/>
<polygon points="1002.16,712.75 1012.36,712.75 1007.26,722.25" fill="#fff" stroke="#1a1aff" stroke-width="1.1"/>
<polygon points="1010.64,713.69 1020.84,713.69 1015.74,723.19" fill="#fff" stroke="#1a1aff" stroke-width="1.1"/>
<polygon points="1019.12,714.69 1029.32,714.69 1024.22,724.19" fill="#fff" stroke="#1a1aff" stroke-width="1.1"/>
<polygon points="1027.60,715.65 1037.80,715.65 1032.70,725.15" fill="#fff" stroke="#1a1aff" stroke-width="1.1"/>
<polygon points="1036.07,716.55 1046.27,716.55 1041.17,726.05" fill="#fff" stroke="#1a1aff" stroke-width="1.1"/>
<polygon points="1044.55,717.35 1054.75,717.35 1049.65,726.85" fill="#fff" stroke="#1a1aff" stroke-width="1.1"/>
<polygon points="1053.03,718.08 1063.23,718.08 1058.13,727.58" fill="#fff" stroke="#1a1aff" stroke-width="1.1"/>
<polygon points="1061.50,718.76 1071.70,718.76 1066.60,728.26" fill="#fff" stroke="#1a1aff" stroke-width="1.1"/>
<polygon points="1069.98,719.40 1080.18,719.40 1075.08,728.90" fill="#fff" stroke="#1a1aff" stroke-width="1.1"/>
<polygon points="1078.46,720.21 1088.66,720.21 1083.56,729.71" fill="#fff" stroke="#1a1aff" stroke-width="1.1"/>
<polygon points="1086.94,720.96 1097.14,720.96 1092.04,730.46" fill="#fff" stroke="#1a1aff" stroke-width="1.1"/>
<polygon points="1095.41,721.68 1105.61,721.68 1100.51,731.18" fill="#fff" stroke="#1a1aff" stroke-width="1.1"/>
<polygon points="1103.89,722.36 1114.09,722.36 1108.99,731.86" fill="#fff" stroke="#1a1aff" stroke-width="1.1"/>
<polygon points="1112.37,723.01 1122.57,723.01 1117.47,732.51" fill="#fff" stroke="#1a1aff" stroke-width="1.1"/>
<polygon points="1120.85,723.66 1131.05,723.66 1125.95,733.16" fill="#fff" stroke="#1a1aff" stroke-width="1.1"/>
<polygon points="1129.32,724.55 1139.52,724.55 1134.42,734.05" fill="#fff" stroke="#1a1aff" stroke-width="1.1"/>
<polygon points="1137.80,725.45 1148.00,725.45 1142.90,734.95" fill="#fff" stroke="#1a1aff" stroke-width="1.1"/>
<path d="M 769.90,687.50 L 770.65,692.35 L 771.39,697.15 L 772.14,701.41 L 772.89,705.80 L 773.64,710.31 L 774.38,714.52 L 775.13,717.97 L 775.88,720.24 L 776.63,720.85 L 777.37,718.36 L 778.12,712.94 L 778.87,705.79 L 779.62,698.09 L 780.36,691.02 L 781.11,685.76 L 781.86,682.43 L 782.61,679.38 L 783.35,676.55 L 784.10,673.93 L 784.85,671.53 L 785.60,669.34 L 786.34,667.36 L 787.09,665.58 L 787.84,664.02 L 788.59,662.66 L 789.33,661.47 L 790.08,660.36 L 790.83,659.32 L 791.58,658.35 L 792.32,657.45 L 793.07,656.61 L 793.82,655.83 L 794.57,655.10 L 795.31,654.42 L 796.06,653.78 L 796.81,653.17 L 797.56,652.61 L 798.30,652.07 L 799.05,651.56 L 799.80,651.08 L 800.55,650.64 L 801.29,650.22 L 802.04,649.82 L 802.79,649.44 L 803.54,649.07 L 804.28,648.72 L 805.03,648.37 L 805.78,648.03 L 806.53,647.69 L 807.27,647.34 L 808.02,646.99 L 808.77,646.64 L 809.52,646.29 L 810.26,645.94 L 811.01,645.60 L 811.76,645.26 L 812.51,644.94 L 813.25,644.62 L 814.00,644.31 L 814.75,644.02 L 815.50,643.75 L 816.24,643.49 L 816.99,643.25 L 817.74,643.02 L 818.49,642.80 L 819.23,642.59 L 819.98,642.39 L 820.73,642.20 L 821.48,642.01 L 822.22,641.83 L 822.97,641.66 L 823.72,641.48 L 824.47,641.32 L 825.21,641.15 L 825.96,640.99 L 826.71,640.83 L 827.46,640.68 L 828.20,640.52 L 828.95,640.36 L 829.70,640.21 L 830.45,640.05 L 831.19,639.89 L 831.94,639.73 L 832.69,639.57 L 833.44,639.40 L 834.18,639.23 L 834.93,639.05 L 835.68,638.87 L 836.43,638.68 L 837.17,638.50 L 837.92,638.31 L 838.67,638.12 L 839.42,637.93 L 840.16,637.74 L 840.91,637.55 L 841.66,637.36 L 842.41,637.17 L 843.15,636.98 L 843.90,636.78 L 844.65,636.59 L 845.40,636.40 L 846.14,636.20 L 846.89,636.00 L 847.64,635.80 L 848.39,635.61 L 849.13,635.41 L 849.88,635.21 L 850.63,635.01 L 851.38,634.81 L 852.12,634.60 L 852.87,634.40 L 853.62,634.20 L 854.37,633.99 L 855.11,633.78 L 855.86,633.57 L 856.61,633.36 L 857.36,633.14 L 858.10,632.92 L 858.85,632.70 L 859.60,632.47 L 860.35,632.24 L 861.09,632.01 L 861.84,631.79 L 862.59,631.56 L 863.34,631.33 L 864.08,631.10 L 864.83,630.87 L 865.58,630.65 L 866.33,630.42 L 867.07,630.20 L 867.82,629.98 L 868.57,629.77 L 869.32,629.56 L 870.06,629.35 L 870.81,629.15 L 871.56,628.95 L 872.31,628.76 L 873.05,628.57 L 873.80,628.39 L 874.55,628.21 L 875.30,628.02 L 876.04,627.84 L 876.79,627.66 L 877.54,627.47 L 878.29,627.29 L 879.03,627.11 L 879.78,626.93 L 880.53,626.75 L 881.28,626.58 L 882.02,626.40 L 882.77,626.24 L 883.52,626.07 L 884.27,625.91 L 885.01,625.76 L 885.76,625.61 L 886.51,625.46 L 887.26,625.33 L 888.00,625.19 L 888.75,625.07 L 889.50,624.95 L 890.25,624.84 L 890.99,624.74 L 891.74,624.65 L 892.49,624.56 L 893.24,624.48 L 893.98,624.39 L 894.73,624.31 L 895.48,624.23 L 896.23,624.15 L 896.97,624.07 L 897.72,624.00 L 898.47,623.92 L 899.22,623.85 L 899.96,623.78 L 900.71,623.71 L 901.46,623.65 L 902.21,623.59 L 902.95,623.53 L 903.70,623.47 L 904.45,623.42 L 905.20,623.37 L 905.94,623.33 L 906.69,623.29 L 907.44,623.25 L 908.19,623.22 L 908.93,623.19 L 909.68,623.17 L 910.43,623.15 L 911.18,623.14 L 911.92,623.12 L 912.67,623.11 L 913.42,623.09 L 914.17,623.08 L 914.91,623.06 L 915.66,623.05 L 916.41,623.04 L 917.16,623.02 L 917.90,623.01 L 918.65,623.00 L 919.40,622.99 L 920.15,622.97 L 920.89,622.96 L 921.64,622.95 L 922.39,622.94 L 923.14,622.93 L 923.88,622.92 L 924.63,622.90 L 925.38,622.89 L 926.13,622.88 L 926.87,622.87 L 927.62,622.86 L 928.37,622.85 L 929.12,622.84 L 929.86,622.83 L 930.61,622.83 L 931.36,622.82 L 932.11,622.81 L 932.85,622.80 L 933.60,622.79 L 934.35,622.78 L 935.10,622.78 L 935.84,622.77 L 936.59,622.76 L 937.34,622.76 L 938.09,622.75 L 938.83,622.74 L 939.58,622.74 L 940.33,622.73 L 941.08,622.72 L 941.82,622.72 L 942.57,622.71 L 943.32,622.71 L 944.07,622.70 L 944.81,622.70 L 945.56,622.69 L 946.31,622.69 L 947.06,622.69 L 947.80,622.68 L 948.55,622.68 L 949.30,622.68 L 950.05,622.67 L 950.79,622.67 L 951.54,622.67 L 952.29,622.67 L 953.04,622.66 L 953.78,622.66 L 954.53,622.66 L 955.28,622.66 L 956.03,622.66 L 956.77,622.66 L 957.52,622.66 L 958.27,622.66 L 959.02,622.66 L 959.76,622.66 L 960.51,622.66 L 961.26,622.66 L 962.01,622.66 L 962.75,622.66 L 963.50,622.66 L 964.25,622.66 L 965.00,622.66 L 965.74,622.66 L 966.49,622.66 L 967.24,622.66 L 967.99,622.67 L 968.73,622.67 L 969.48,622.67 L 970.23,622.67 L 970.98,622.67 L 971.72,622.68 L 972.47,622.68 L 973.22,622.68 L 973.97,622.68 L 974.71,622.69 L 975.46,622.69 L 976.21,622.69 L 976.96,622.70 L 977.70,622.70 L 978.45,622.70 L 979.20,622.71 L 979.95,622.71 L 980.69,622.71 L 981.44,622.72 L 982.19,622.72 L 982.94,622.73 L 983.68,622.73 L 984.43,622.73 L 985.18,622.74 L 985.93,622.74 L 986.67,622.75 L 987.42,622.75 L 988.17,622.76 L 988.92,622.76 L 989.66,622.76 L 990.41,622.77 L 991.16,622.77 L 991.91,622.78 L 992.65,622.78 L 993.40,622.79 L 994.15,622.79 L 994.90,622.80 L 995.64,622.80 L 996.39,622.81 L 997.14,622.82 L 997.89,622.82 L 998.63,622.83 L 999.38,622.83 L 1000.13,622.84 L 1000.88,622.84 L 1001.62,622.85 L 1002.37,622.85 L 1003.12,622.86 L 1003.87,622.86 L 1004.61,622.87 L 1005.36,622.88 L 1006.11,622.88 L 1006.86,622.89 L 1007.60,622.89 L 1008.35,622.90 L 1009.10,622.90 L 1009.85,622.91 L 1010.59,622.91 L 1011.34,622.92 L 1012.09,622.93 L 1012.84,622.93 L 1013.58,622.94 L 1014.33,622.94 L 1015.08,622.95 L 1015.83,622.95 L 1016.57,622.96 L 1017.32,622.96 L 1018.07,622.97 L 1018.82,622.97 L 1019.56,622.98 L 1020.31,622.99 L 1021.06,622.99 L 1021.81,623.00 L 1022.55,623.00 L 1023.30,623.01 L 1024.05,623.01 L 1024.80,623.02 L 1025.54,623.02 L 1026.29,623.03 L 1027.04,623.03 L 1027.79,623.04 L 1028.53,623.04 L 1029.28,623.04 L 1030.03,623.05 L 1030.78,623.05 L 1031.52,623.06 L 1032.27,623.06 L 1033.02,623.07 L 1033.77,623.07 L 1034.51,623.08 L 1035.26,623.08 L 1036.01,623.08 L 1036.76,623.09 L 1037.50,623.09 L 1038.25,623.09 L 1039.00,623.10 L 1039.75,623.10 L 1040.49,623.10 L 1041.24,623.11 L 1041.99,623.11 L 1042.74,623.11 L 1043.48,623.12 L 1044.23,623.12 L 1044.98,623.12 L 1045.73,623.12 L 1046.47,623.13 L 1047.22,623.13 L 1047.97,623.13 L 1048.72,623.13 L 1049.46,623.14 L 1050.21,623.14 L 1050.96,623.14 L 1051.71,623.14 L 1052.45,623.14 L 1053.20,623.14 L 1053.95,623.14 L 1054.70,623.14 L 1055.44,623.15 L 1056.19,623.15 L 1056.94,623.15 L 1057.69,623.15 L 1058.43,623.15 L 1059.18,623.15 L 1059.93,623.15 L 1060.68,623.15 L 1061.42,623.15 L 1062.17,623.15 L 1062.92,623.15 L 1063.67,623.15 L 1064.41,623.15 L 1065.16,623.15 L 1065.91,623.15 L 1066.66,623.15 L 1067.40,623.15 L 1068.15,623.15 L 1068.90,623.15 L 1069.65,623.15 L 1070.39,623.15 L 1071.14,623.15 L 1071.89,623.15 L 1072.64,623.15 L 1073.38,623.15 L 1074.13,623.15 L 1074.88,623.15 L 1075.63,623.15 L 1076.37,623.15 L 1077.12,623.15 L 1077.87,623.15 L 1078.62,623.15 L 1079.36,623.15 L 1080.11,623.15 L 1080.86,623.15 L 1081.61,623.15 L 1082.35,623.15 L 1083.10,623.15 L 1083.85,623.15 L 1084.60,623.15 L 1085.34,623.15 L 1086.09,623.15 L 1086.84,623.15 L 1087.59,623.15 L 1088.33,623.15 L 1089.08,623.15 L 1089.83,623.15 L 1090.58,623.15 L 1091.32,623.15 L 1092.07,623.15 L 1092.82,623.15 L 1093.57,623.15 L 1094.31,623.15 L 1095.06,623.15 L 1095.81,623.15 L 1096.56,623.15 L 1097.30,623.15 L 1098.05,623.15 L 1098.80,623.15 L 1099.55,623.15 L 1100.29,623.15 L 1101.04,623.15 L 1101.79,623.15 L 1102.54,623.15 L 1103.28,623.15 L 1104.03,623.15 L 1104.78,623.15 L 1105.53,623.15 L 1106.27,623.15 L 1107.02,623.15 L 1107.77,623.15 L 1108.52,623.15 L 1109.26,623.15 L 1110.01,623.15 L 1110.76,623.15 L 1111.51,623.15 L 1112.25,623.15 L 1113.00,623.15 L 1113.75,623.15 L 1114.50,623.15 L 1115.24,623.15 L 1115.99,623.15 L 1116.74,623.15 L 1117.49,623.15 L 1118.23,623.15 L 1118.98,623.15 L 1119.73,623.15 L 1120.48,623.15 L 1121.22,623.15 L 1121.97,623.15 L 1122.72,623.15 L 1123.47,623.15 L 1124.21,623.15 L 1124.96,623.15 L 1125.71,623.15 L 1126.46,623.15 L 1127.20,623.15 L 1127.95,623.15 L 1128.70,623.15 L 1129.45,623.15 L 1130.19,623.15 L 1130.94,623.15 L 1131.69,623.15 L 1132.44,623.15 L 1133.18,623.15 L 1133.93,623.15 L 1134.68,623.15 L 1135.43,623.15 L 1136.17,623.15 L 1136.92,623.15 L 1137.67,623.15 L 1138.42,623.15 L 1139.16,623.15 L 1139.91,623.15 L 1140.66,623.15 L 1141.41,623.15 L 1142.15,623.15 L 1142.90,623.15" fill="none" stroke="#000" stroke-width="3.0" stroke-linejoin="round"/>
<path d="M 769.90,741.54 L 770.65,746.21 L 771.39,750.60 L 772.14,751.67 L 772.89,748.39 L 773.64,742.16 L 774.38,734.50 L 775.13,726.91 L 775.88,720.77 L 776.63,715.01 L 777.37,709.26 L 778.12,703.85 L 778.87,699.10 L 779.62,695.30 L 780.36,691.98 L 781.11,688.98 L 781.86,686.38 L 782.61,684.24 L 783.35,682.63 L 784.10,681.22 L 784.85,679.91 L 785.60,678.74 L 786.34,677.72 L 787.09,676.86 L 787.84,676.21 L 788.59,675.76 L 789.33,675.48 L 790.08,675.22 L 790.83,674.97 L 791.58,674.75 L 792.32,674.55 L 793.07,674.36 L 793.82,674.20 L 794.57,674.06 L 795.31,673.95 L 796.06,673.86 L 796.81,673.79 L 797.56,673.76 L 798.30,673.75 L 799.05,673.75 L 799.80,673.76 L 800.55,673.77 L 801.29,673.79 L 802.04,673.81 L 802.79,673.84 L 803.54,673.87 L 804.28,673.91 L 805.03,673.95 L 805.78,673.99 L 806.53,674.03 L 807.27,674.08 L 808.02,674.13 L 808.77,674.18 L 809.52,674.23 L 810.26,674.28 L 811.01,674.33 L 811.76,674.38 L 812.51,674.44 L 813.25,674.49 L 814.00,674.54 L 814.75,674.59 L 815.50,674.64 L 816.24,674.69 L 816.99,674.74 L 817.74,674.78 L 818.49,674.84 L 819.23,674.90 L 819.98,674.97 L 820.73,675.03 L 821.48,675.10 L 822.22,675.17 L 822.97,675.24 L 823.72,675.31 L 824.47,675.38 L 825.21,675.44 L 825.96,675.50 L 826.71,675.55 L 827.46,675.60 L 828.20,675.64 L 828.95,675.67 L 829.70,675.69 L 830.45,675.71 L 831.19,675.71 L 831.94,675.70 L 832.69,675.68 L 833.44,675.66 L 834.18,675.63 L 834.93,675.59 L 835.68,675.55 L 836.43,675.50 L 837.17,675.44 L 837.92,675.38 L 838.67,675.32 L 839.42,675.26 L 840.16,675.20 L 840.91,675.11 L 841.66,674.99 L 842.41,674.84 L 843.15,674.67 L 843.90,674.47 L 844.65,674.25 L 845.40,674.01 L 846.14,673.76 L 846.89,673.48 L 847.64,673.20 L 848.39,672.90 L 849.13,672.59 L 849.88,672.27 L 850.63,671.95 L 851.38,671.62 L 852.12,671.29 L 852.87,670.96 L 853.62,670.63 L 854.37,670.31 L 855.11,669.99 L 855.86,669.67 L 856.61,669.37 L 857.36,669.08 L 858.10,668.80 L 858.85,668.54 L 859.60,668.29 L 860.35,668.06 L 861.09,667.86 L 861.84,667.66 L 862.59,667.47 L 863.34,667.28 L 864.08,667.09 L 864.83,666.90 L 865.58,666.71 L 866.33,666.53 L 867.07,666.35 L 867.82,666.17 L 868.57,666.00 L 869.32,665.82 L 870.06,665.65 L 870.81,665.49 L 871.56,665.32 L 872.31,665.16 L 873.05,665.00 L 873.80,664.85 L 874.55,664.70 L 875.30,664.56 L 876.04,664.42 L 876.79,664.28 L 877.54,664.15 L 878.29,664.02 L 879.03,663.90 L 879.78,663.78 L 880.53,663.67 L 881.28,663.57 L 882.02,663.47 L 882.77,663.37 L 883.52,663.27 L 884.27,663.17 L 885.01,663.08 L 885.76,662.98 L 886.51,662.88 L 887.26,662.78 L 888.00,662.69 L 888.75,662.59 L 889.50,662.50 L 890.25,662.41 L 890.99,662.32 L 891.74,662.23 L 892.49,662.15 L 893.24,662.07 L 893.98,661.99 L 894.73,661.92 L 895.48,661.85 L 896.23,661.79 L 896.97,661.73 L 897.72,661.68 L 898.47,661.63 L 899.22,661.58 L 899.96,661.55 L 900.71,661.52 L 901.46,661.49 L 902.21,661.48 L 902.95,661.47 L 903.70,661.46 L 904.45,661.47 L 905.20,661.47 L 905.94,661.47 L 906.69,661.48 L 907.44,661.49 L 908.19,661.50 L 908.93,661.51 L 909.68,661.52 L 910.43,661.54 L 911.18,661.55 L 911.92,661.57 L 912.67,661.59 L 913.42,661.61 L 914.17,661.63 L 914.91,661.65 L 915.66,661.67 L 916.41,661.69 L 917.16,661.71 L 917.90,661.73 L 918.65,661.76 L 919.40,661.78 L 920.15,661.81 L 920.89,661.83 L 921.64,661.86 L 922.39,661.88 L 923.14,661.90 L 923.88,661.93 L 924.63,661.95 L 925.38,661.98 L 926.13,662.00 L 926.87,662.03 L 927.62,662.06 L 928.37,662.09 L 929.12,662.13 L 929.86,662.16 L 930.61,662.20 L 931.36,662.24 L 932.11,662.28 L 932.85,662.32 L 933.60,662.36 L 934.35,662.40 L 935.10,662.44 L 935.84,662.49 L 936.59,662.54 L 937.34,662.58 L 938.09,662.63 L 938.83,662.68 L 939.58,662.73 L 940.33,662.78 L 941.08,662.83 L 941.82,662.88 L 942.57,662.93 L 943.32,662.99 L 944.07,663.04 L 944.81,663.09 L 945.56,663.15 L 946.31,663.20 L 947.06,663.26 L 947.80,663.31 L 948.55,663.37 L 949.30,663.43 L 950.05,663.48 L 950.79,663.54 L 951.54,663.59 L 952.29,663.65 L 953.04,663.70 L 953.78,663.76 L 954.53,663.81 L 955.28,663.87 L 956.03,663.92 L 956.77,663.98 L 957.52,664.03 L 958.27,664.08 L 959.02,664.14 L 959.76,664.19 L 960.51,664.24 L 961.26,664.29 L 962.01,664.34 L 962.75,664.39 L 963.50,664.44 L 964.25,664.49 L 965.00,664.53 L 965.74,664.58 L 966.49,664.62 L 967.24,664.67 L 967.99,664.71 L 968.73,664.75 L 969.48,664.80 L 970.23,664.84 L 970.98,664.88 L 971.72,664.93 L 972.47,664.97 L 973.22,665.02 L 973.97,665.06 L 974.71,665.10 L 975.46,665.15 L 976.21,665.19 L 976.96,665.24 L 977.70,665.28 L 978.45,665.33 L 979.20,665.37 L 979.95,665.41 L 980.69,665.46 L 981.44,665.50 L 982.19,665.55 L 982.94,665.59 L 983.68,665.63 L 984.43,665.68 L 985.18,665.72 L 985.93,665.76 L 986.67,665.81 L 987.42,665.85 L 988.17,665.89 L 988.92,665.93 L 989.66,665.97 L 990.41,666.01 L 991.16,666.05 L 991.91,666.09 L 992.65,666.13 L 993.40,666.17 L 994.15,666.21 L 994.90,666.25 L 995.64,666.29 L 996.39,666.33 L 997.14,666.36 L 997.89,666.40 L 998.63,666.43 L 999.38,666.47 L 1000.13,666.50 L 1000.88,666.54 L 1001.62,666.57 L 1002.37,666.60 L 1003.12,666.63 L 1003.87,666.66 L 1004.61,666.69 L 1005.36,666.72 L 1006.11,666.75 L 1006.86,666.78 L 1007.60,666.80 L 1008.35,666.83 L 1009.10,666.86 L 1009.85,666.88 L 1010.59,666.90 L 1011.34,666.93 L 1012.09,666.95 L 1012.84,666.97 L 1013.58,666.99 L 1014.33,667.01 L 1015.08,667.04 L 1015.83,667.06 L 1016.57,667.08 L 1017.32,667.10 L 1018.07,667.12 L 1018.82,667.13 L 1019.56,667.15 L 1020.31,667.17 L 1021.06,667.19 L 1021.81,667.21 L 1022.55,667.23 L 1023.30,667.24 L 1024.05,667.26 L 1024.80,667.28 L 1025.54,667.30 L 1026.29,667.31 L 1027.04,667.33 L 1027.79,667.34 L 1028.53,667.36 L 1029.28,667.38 L 1030.03,667.39 L 1030.78,667.41 L 1031.52,667.42 L 1032.27,667.44 L 1033.02,667.45 L 1033.77,667.47 L 1034.51,667.49 L 1035.26,667.50 L 1036.01,667.52 L 1036.76,667.53 L 1037.50,667.55 L 1038.25,667.56 L 1039.00,667.58 L 1039.75,667.59 L 1040.49,667.61 L 1041.24,667.62 L 1041.99,667.64 L 1042.74,667.65 L 1043.48,667.67 L 1044.23,667.68 L 1044.98,667.70 L 1045.73,667.71 L 1046.47,667.73 L 1047.22,667.75 L 1047.97,667.76 L 1048.72,667.78 L 1049.46,667.80 L 1050.21,667.81 L 1050.96,667.83 L 1051.71,667.85 L 1052.45,667.86 L 1053.20,667.88 L 1053.95,667.90 L 1054.70,667.92 L 1055.44,667.93 L 1056.19,667.95 L 1056.94,667.97 L 1057.69,667.99 L 1058.43,668.00 L 1059.18,668.02 L 1059.93,668.04 L 1060.68,668.06 L 1061.42,668.07 L 1062.17,668.09 L 1062.92,668.11 L 1063.67,668.13 L 1064.41,668.15 L 1065.16,668.16 L 1065.91,668.18 L 1066.66,668.20 L 1067.40,668.22 L 1068.15,668.23 L 1068.90,668.25 L 1069.65,668.27 L 1070.39,668.29 L 1071.14,668.30 L 1071.89,668.32 L 1072.64,668.34 L 1073.38,668.36 L 1074.13,668.38 L 1074.88,668.39 L 1075.63,668.41 L 1076.37,668.43 L 1077.12,668.45 L 1077.87,668.46 L 1078.62,668.48 L 1079.36,668.50 L 1080.11,668.51 L 1080.86,668.53 L 1081.61,668.55 L 1082.35,668.57 L 1083.10,668.58 L 1083.85,668.60 L 1084.60,668.62 L 1085.34,668.63 L 1086.09,668.65 L 1086.84,668.67 L 1087.59,668.69 L 1088.33,668.70 L 1089.08,668.72 L 1089.83,668.74 L 1090.58,668.75 L 1091.32,668.77 L 1092.07,668.79 L 1092.82,668.80 L 1093.57,668.82 L 1094.31,668.83 L 1095.06,668.85 L 1095.81,668.87 L 1096.56,668.88 L 1097.30,668.90 L 1098.05,668.91 L 1098.80,668.93 L 1099.55,668.95 L 1100.29,668.96 L 1101.04,668.98 L 1101.79,668.99 L 1102.54,669.01 L 1103.28,669.02 L 1104.03,669.04 L 1104.78,669.05 L 1105.53,669.07 L 1106.27,669.09 L 1107.02,669.10 L 1107.77,669.12 L 1108.52,669.13 L 1109.26,669.15 L 1110.01,669.16 L 1110.76,669.18 L 1111.51,669.19 L 1112.25,669.21 L 1113.00,669.22 L 1113.75,669.24 L 1114.50,669.25 L 1115.24,669.27 L 1115.99,669.28 L 1116.74,669.30 L 1117.49,669.31 L 1118.23,669.33 L 1118.98,669.34 L 1119.73,669.36 L 1120.48,669.37 L 1121.22,669.38 L 1121.97,669.40 L 1122.72,669.41 L 1123.47,669.43 L 1124.21,669.44 L 1124.96,669.46 L 1125.71,669.47 L 1126.46,669.49 L 1127.20,669.50 L 1127.95,669.52 L 1128.70,669.53 L 1129.45,669.55 L 1130.19,669.56 L 1130.94,669.58 L 1131.69,669.59 L 1132.44,669.61 L 1133.18,669.62 L 1133.93,669.64 L 1134.68,669.65 L 1135.43,669.67 L 1136.17,669.68 L 1136.92,669.70 L 1137.67,669.71 L 1138.42,669.72 L 1139.16,669.74 L 1139.91,669.75 L 1140.66,669.77 L 1141.41,669.78 L 1142.15,669.80 L 1142.90,669.82" fill="none" stroke="#ff2626" stroke-width="3.0" stroke-linejoin="round"/>
<path d="M 769.90,712.06 L 770.65,703.21 L 771.39,695.30 L 772.14,687.45 L 772.89,679.81 L 773.64,672.68 L 774.38,666.40 L 775.13,661.28 L 775.88,657.58 L 776.63,654.55 L 777.37,651.92 L 778.12,649.74 L 778.87,648.06 L 779.62,646.92 L 780.36,645.97 L 781.11,645.12 L 781.86,644.38 L 782.61,643.81 L 783.35,643.43 L 784.10,643.29 L 784.85,643.36 L 785.60,643.58 L 786.34,643.90 L 787.09,644.30 L 787.84,644.73 L 788.59,645.18 L 789.33,645.63 L 790.08,646.18 L 790.83,646.79 L 791.58,647.47 L 792.32,648.20 L 793.07,648.97 L 793.82,649.77 L 794.57,650.60 L 795.31,651.44 L 796.06,652.27 L 796.81,653.10 L 797.56,653.90 L 798.30,654.68 L 799.05,655.46 L 799.80,656.27 L 800.55,657.09 L 801.29,657.93 L 802.04,658.78 L 802.79,659.62 L 803.54,660.45 L 804.28,661.26 L 805.03,662.05 L 805.78,662.81 L 806.53,663.52 L 807.27,664.19 L 808.02,664.81 L 808.77,665.42 L 809.52,666.02 L 810.26,666.61 L 811.01,667.18 L 811.76,667.73 L 812.51,668.26 L 813.25,668.77 L 814.00,669.25 L 814.75,669.70 L 815.50,670.12 L 816.24,670.51 L 816.99,670.85 L 817.74,671.19 L 818.49,671.51 L 819.23,671.83 L 819.98,672.14 L 820.73,672.44 L 821.48,672.73 L 822.22,673.02 L 822.97,673.30 L 823.72,673.57 L 824.47,673.84 L 825.21,674.09 L 825.96,674.34 L 826.71,674.58 L 827.46,674.80 L 828.20,675.02 L 828.95,675.23 L 829.70,675.44 L 830.45,675.63 L 831.19,675.81 L 831.94,675.98 L 832.69,676.15 L 833.44,676.30 L 834.18,676.44 L 834.93,676.57 L 835.68,676.69 L 836.43,676.80 L 837.17,676.88 L 837.92,676.96 L 838.67,677.03 L 839.42,677.12 L 840.16,677.22 L 840.91,677.33 L 841.66,677.44 L 842.41,677.56 L 843.15,677.69 L 843.90,677.82 L 844.65,677.96 L 845.40,678.10 L 846.14,678.24 L 846.89,678.39 L 847.64,678.54 L 848.39,678.70 L 849.13,678.86 L 849.88,679.02 L 850.63,679.18 L 851.38,679.35 L 852.12,679.52 L 852.87,679.69 L 853.62,679.86 L 854.37,680.03 L 855.11,680.21 L 855.86,680.38 L 856.61,680.56 L 857.36,680.73 L 858.10,680.91 L 858.85,681.08 L 859.60,681.25 L 860.35,681.43 L 861.09,681.60 L 861.84,681.77 L 862.59,681.95 L 863.34,682.12 L 864.08,682.30 L 864.83,682.48 L 865.58,682.66 L 866.33,682.84 L 867.07,683.02 L 867.82,683.20 L 868.57,683.39 L 869.32,683.58 L 870.06,683.76 L 870.81,683.95 L 871.56,684.14 L 872.31,684.34 L 873.05,684.53 L 873.80,684.72 L 874.55,684.92 L 875.30,685.11 L 876.04,685.31 L 876.79,685.51 L 877.54,685.71 L 878.29,685.91 L 879.03,686.11 L 879.78,686.32 L 880.53,686.52 L 881.28,686.72 L 882.02,686.93 L 882.77,687.14 L 883.52,687.35 L 884.27,687.56 L 885.01,687.77 L 885.76,687.99 L 886.51,688.21 L 887.26,688.43 L 888.00,688.65 L 888.75,688.87 L 889.50,689.10 L 890.25,689.32 L 890.99,689.55 L 891.74,689.78 L 892.49,690.01 L 893.24,690.24 L 893.98,690.47 L 894.73,690.70 L 895.48,690.93 L 896.23,691.16 L 896.97,691.39 L 897.72,691.62 L 898.47,691.86 L 899.22,692.09 L 899.96,692.32 L 900.71,692.55 L 901.46,692.77 L 902.21,693.00 L 902.95,693.23 L 903.70,693.46 L 904.45,693.68 L 905.20,693.91 L 905.94,694.14 L 906.69,694.37 L 907.44,694.60 L 908.19,694.83 L 908.93,695.07 L 909.68,695.30 L 910.43,695.53 L 911.18,695.76 L 911.92,696.00 L 912.67,696.23 L 913.42,696.46 L 914.17,696.69 L 914.91,696.92 L 915.66,697.15 L 916.41,697.38 L 917.16,697.61 L 917.90,697.84 L 918.65,698.06 L 919.40,698.28 L 920.15,698.50 L 920.89,698.72 L 921.64,698.93 L 922.39,699.15 L 923.14,699.35 L 923.88,699.56 L 924.63,699.76 L 925.38,699.96 L 926.13,700.16 L 926.87,700.36 L 927.62,700.56 L 928.37,700.75 L 929.12,700.95 L 929.86,701.14 L 930.61,701.33 L 931.36,701.52 L 932.11,701.71 L 932.85,701.90 L 933.60,702.08 L 934.35,702.27 L 935.10,702.45 L 935.84,702.63 L 936.59,702.81 L 937.34,702.99 L 938.09,703.17 L 938.83,703.34 L 939.58,703.52 L 940.33,703.69 L 941.08,703.86 L 941.82,704.03 L 942.57,704.20 L 943.32,704.37 L 944.07,704.54 L 944.81,704.70 L 945.56,704.87 L 946.31,705.03 L 947.06,705.19 L 947.80,705.36 L 948.55,705.52 L 949.30,705.69 L 950.05,705.85 L 950.79,706.01 L 951.54,706.18 L 952.29,706.34 L 953.04,706.50 L 953.78,706.66 L 954.53,706.82 L 955.28,706.98 L 956.03,707.14 L 956.77,707.29 L 957.52,707.44 L 958.27,707.59 L 959.02,707.74 L 959.76,707.88 L 960.51,708.02 L 961.26,708.16 L 962.01,708.30 L 962.75,708.43 L 963.50,708.56 L 964.25,708.68 L 965.00,708.80 L 965.74,708.92 L 966.49,709.03 L 967.24,709.14 L 967.99,709.24 L 968.73,709.34 L 969.48,709.45 L 970.23,709.55 L 970.98,709.65 L 971.72,709.74 L 972.47,709.84 L 973.22,709.93 L 973.97,710.03 L 974.71,710.12 L 975.46,710.21 L 976.21,710.30 L 976.96,710.39 L 977.70,710.48 L 978.45,710.56 L 979.20,710.65 L 979.95,710.73 L 980.69,710.82 L 981.44,710.90 L 982.19,710.98 L 982.94,711.06 L 983.68,711.14 L 984.43,711.22 L 985.18,711.30 L 985.93,711.37 L 986.67,711.45 L 987.42,711.53 L 988.17,711.60 L 988.92,711.67 L 989.66,711.75 L 990.41,711.82 L 991.16,711.89 L 991.91,711.96 L 992.65,712.03 L 993.40,712.10 L 994.15,712.17 L 994.90,712.24 L 995.64,712.31 L 996.39,712.38 L 997.14,712.45 L 997.89,712.52 L 998.63,712.58 L 999.38,712.65 L 1000.13,712.72 L 1000.88,712.78 L 1001.62,712.85 L 1002.37,712.92 L 1003.12,712.98 L 1003.87,713.05 L 1004.61,713.11 L 1005.36,713.18 L 1006.11,713.24 L 1006.86,713.31 L 1007.60,713.37 L 1008.35,713.44 L 1009.10,713.50 L 1009.85,713.57 L 1010.59,713.63 L 1011.34,713.70 L 1012.09,713.77 L 1012.84,713.83 L 1013.58,713.90 L 1014.33,713.96 L 1015.08,714.02 L 1015.83,714.09 L 1016.57,714.15 L 1017.32,714.22 L 1018.07,714.28 L 1018.82,714.35 L 1019.56,714.41 L 1020.31,714.47 L 1021.06,714.54 L 1021.81,714.60 L 1022.55,714.66 L 1023.30,714.72 L 1024.05,714.79 L 1024.80,714.85 L 1025.54,714.91 L 1026.29,714.97 L 1027.04,715.03 L 1027.79,715.09 L 1028.53,715.15 L 1029.28,715.21 L 1030.03,715.27 L 1030.78,715.33 L 1031.52,715.38 L 1032.27,715.44 L 1033.02,715.50 L 1033.77,715.55 L 1034.51,715.61 L 1035.26,715.67 L 1036.01,715.72 L 1036.76,715.78 L 1037.50,715.83 L 1038.25,715.88 L 1039.00,715.93 L 1039.75,715.99 L 1040.49,716.04 L 1041.24,716.09 L 1041.99,716.14 L 1042.74,716.19 L 1043.48,716.24 L 1044.23,716.28 L 1044.98,716.33 L 1045.73,716.38 L 1046.47,716.42 L 1047.22,716.47 L 1047.97,716.51 L 1048.72,716.56 L 1049.46,716.60 L 1050.21,716.64 L 1050.96,716.68 L 1051.71,716.72 L 1052.45,716.76 L 1053.20,716.80 L 1053.95,716.84 L 1054.70,716.88 L 1055.44,716.92 L 1056.19,716.95 L 1056.94,716.99 L 1057.69,717.03 L 1058.43,717.06 L 1059.18,717.10 L 1059.93,717.14 L 1060.68,717.17 L 1061.42,717.21 L 1062.17,717.25 L 1062.92,717.28 L 1063.67,717.32 L 1064.41,717.35 L 1065.16,717.38 L 1065.91,717.42 L 1066.66,717.45 L 1067.40,717.48 L 1068.15,717.52 L 1068.90,717.55 L 1069.65,717.58 L 1070.39,717.61 L 1071.14,717.65 L 1071.89,717.68 L 1072.64,717.71 L 1073.38,717.74 L 1074.13,717.77 L 1074.88,717.80 L 1075.63,717.83 L 1076.37,717.86 L 1077.12,717.89 L 1077.87,717.91 L 1078.62,717.94 L 1079.36,717.97 L 1080.11,718.00 L 1080.86,718.03 L 1081.61,718.05 L 1082.35,718.08 L 1083.10,718.10 L 1083.85,718.13 L 1084.60,718.16 L 1085.34,718.18 L 1086.09,718.20 L 1086.84,718.23 L 1087.59,718.25 L 1088.33,718.28 L 1089.08,718.30 L 1089.83,718.32 L 1090.58,718.34 L 1091.32,718.37 L 1092.07,718.39 L 1092.82,718.41 L 1093.57,718.43 L 1094.31,718.45 L 1095.06,718.47 L 1095.81,718.49 L 1096.56,718.51 L 1097.30,718.53 L 1098.05,718.55 L 1098.80,718.57 L 1099.55,718.59 L 1100.29,718.60 L 1101.04,718.62 L 1101.79,718.64 L 1102.54,718.66 L 1103.28,718.67 L 1104.03,718.69 L 1104.78,718.71 L 1105.53,718.72 L 1106.27,718.74 L 1107.02,718.76 L 1107.77,718.77 L 1108.52,718.79 L 1109.26,718.80 L 1110.01,718.82 L 1110.76,718.83 L 1111.51,718.85 L 1112.25,718.86 L 1113.00,718.88 L 1113.75,718.89 L 1114.50,718.91 L 1115.24,718.92 L 1115.99,718.93 L 1116.74,718.95 L 1117.49,718.96 L 1118.23,718.98 L 1118.98,718.99 L 1119.73,719.00 L 1120.48,719.02 L 1121.22,719.03 L 1121.97,719.04 L 1122.72,719.06 L 1123.47,719.07 L 1124.21,719.08 L 1124.96,719.10 L 1125.71,719.11 L 1126.46,719.12 L 1127.20,719.14 L 1127.95,719.15 L 1128.70,719.16 L 1129.45,719.18 L 1130.19,719.19 L 1130.94,719.21 L 1131.69,719.22 L 1132.44,719.23 L 1133.18,719.25 L 1133.93,719.26 L 1134.68,719.27 L 1135.43,719.29 L 1136.17,719.30 L 1136.92,719.32 L 1137.67,719.33 L 1138.42,719.34 L 1139.16,719.36 L 1139.91,719.37 L 1140.66,719.39 L 1141.41,719.40 L 1142.15,719.42 L 1142.90,719.43" fill="none" stroke="#0000ff" stroke-width="3.0" stroke-linejoin="round"/>
<circle cx="769.90" cy="785.36" r="4.90" fill="#fff" stroke="#000" stroke-width="1.1"/>
<circle cx="778.38" cy="832.52" r="4.90" fill="#fff" stroke="#000" stroke-width="1.1"/>
<circle cx="786.85" cy="840.38" r="4.90" fill="#fff" stroke="#000" stroke-width="1.1"/>
<circle cx="795.33" cy="831.93" r="4.90" fill="#fff" stroke="#000" stroke-width="1.1"/>
<circle cx="803.81" cy="826.07" r="4.90" fill="#fff" stroke="#000" stroke-width="1.1"/>
<circle cx="812.29" cy="821.31" r="4.90" fill="#fff" stroke="#000" stroke-width="1.1"/>
<circle cx="820.76" cy="818.16" r="4.90" fill="#fff" stroke="#000" stroke-width="1.1"/>
<circle cx="829.24" cy="816.35" r="4.90" fill="#fff" stroke="#000" stroke-width="1.1"/>
<circle cx="837.72" cy="815.05" r="4.90" fill="#fff" stroke="#000" stroke-width="1.1"/>
<circle cx="846.20" cy="813.71" r="4.90" fill="#fff" stroke="#000" stroke-width="1.1"/>
<circle cx="854.67" cy="812.42" r="4.90" fill="#fff" stroke="#000" stroke-width="1.1"/>
<circle cx="863.15" cy="811.15" r="4.90" fill="#fff" stroke="#000" stroke-width="1.1"/>
<circle cx="871.63" cy="809.88" r="4.90" fill="#fff" stroke="#000" stroke-width="1.1"/>
<circle cx="880.10" cy="808.62" r="4.90" fill="#fff" stroke="#000" stroke-width="1.1"/>
<circle cx="888.58" cy="807.38" r="4.90" fill="#fff" stroke="#000" stroke-width="1.1"/>
<circle cx="897.06" cy="806.06" r="4.90" fill="#fff" stroke="#000" stroke-width="1.1"/>
<circle cx="905.54" cy="804.88" r="4.90" fill="#fff" stroke="#000" stroke-width="1.1"/>
<circle cx="914.01" cy="803.85" r="4.90" fill="#fff" stroke="#000" stroke-width="1.1"/>
<circle cx="922.49" cy="802.84" r="4.90" fill="#fff" stroke="#000" stroke-width="1.1"/>
<circle cx="930.97" cy="801.90" r="4.90" fill="#fff" stroke="#000" stroke-width="1.1"/>
<circle cx="939.45" cy="801.04" r="4.90" fill="#fff" stroke="#000" stroke-width="1.1"/>
<circle cx="947.92" cy="800.29" r="4.90" fill="#fff" stroke="#000" stroke-width="1.1"/>
<circle cx="956.40" cy="799.69" r="4.90" fill="#fff" stroke="#000" stroke-width="1.1"/>
<circle cx="964.88" cy="799.01" r="4.90" fill="#fff" stroke="#000" stroke-width="1.1"/>
<circle cx="973.35" cy="798.39" r="4.90" fill="#fff" stroke="#000" stroke-width="1.1"/>
<circle cx="981.83" cy="797.81" r="4.90" fill="#fff" stroke="#000" stroke-width="1.1"/>
<circle cx="990.31" cy="797.28" r="4.90" fill="#fff" stroke="#000" stroke-width="1.1"/>
<circle cx="998.79" cy="796.78" r="4.90" fill="#fff" stroke="#000" stroke-width="1.1"/>
<circle cx="1007.26" cy="796.32" r="4.90" fill="#fff" stroke="#000" stroke-width="1.1"/>
<circle cx="1015.74" cy="796.14" r="4.90" fill="#fff" stroke="#000" stroke-width="1.1"/>
<circle cx="1024.22" cy="795.99" r="4.90" fill="#fff" stroke="#000" stroke-width="1.1"/>
<circle cx="1032.70" cy="795.86" r="4.90" fill="#fff" stroke="#000" stroke-width="1.1"/>
<circle cx="1041.17" cy="795.75" r="4.90" fill="#fff" stroke="#000" stroke-width="1.1"/>
<circle cx="1049.65" cy="795.63" r="4.90" fill="#fff" stroke="#000" stroke-width="1.1"/>
<circle cx="1058.13" cy="795.52" r="4.90" fill="#fff" stroke="#000" stroke-width="1.1"/>
<circle cx="1066.60" cy="795.39" r="4.90" fill="#fff" stroke="#000" stroke-width="1.1"/>
<circle cx="1075.08" cy="795.25" r="4.90" fill="#fff" stroke="#000" stroke-width="1.1"/>
<circle cx="1083.56" cy="795.09" r="4.90" fill="#fff" stroke="#000" stroke-width="1.1"/>
<circle cx="1092.04" cy="794.92" r="4.90" fill="#fff" stroke="#000" stroke-width="1.1"/>
<circle cx="1100.51" cy="794.74" r="4.90" fill="#fff" stroke="#000" stroke-width="1.1"/>
<circle cx="1108.99" cy="794.55" r="4.90" fill="#fff" stroke="#000" stroke-width="1.1"/>
<circle cx="1117.47" cy="794.37" r="4.90" fill="#fff" stroke="#000" stroke-width="1.1"/>
<circle cx="1125.95" cy="794.18" r="4.90" fill="#fff" stroke="#000" stroke-width="1.1"/>
<circle cx="1134.42" cy="793.99" r="4.90" fill="#fff" stroke="#000" stroke-width="1.1"/>
<circle cx="1142.90" cy="793.81" r="4.90" fill="#fff" stroke="#000" stroke-width="1.1"/>
<rect x="765.40" y="815.93" width="9.00" height="9.00" fill="#fff" stroke="#ff1a1a" stroke-width="1.1"/>
<rect x="773.88" y="909.96" width="9.00" height="9.00" fill="#fff" stroke="#ff1a1a" stroke-width="1.1"/>
<rect x="782.35" y="881.07" width="9.00" height="9.00" fill="#fff" stroke="#ff1a1a" stroke-width="1.1"/>
<rect x="790.83" y="866.73" width="9.00" height="9.00" fill="#fff" stroke="#ff1a1a" stroke-width="1.1"/>
<rect x="799.31" y="857.36" width="9.00" height="9.00" fill="#fff" stroke="#ff1a1a" stroke-width="1.1"/>
<rect x="807.79" y="850.81" width="9.00" height="9.00" fill="#fff" stroke="#ff1a1a" stroke-width="1.1"/>
<rect x="816.26" y="846.74" width="9.00" height="9.00" fill="#fff" stroke="#ff1a1a" stroke-width="1.1"/>
<rect x="824.74" y="843.30" width="9.00" height="9.00" fill="#fff" stroke="#ff1a1a" stroke-width="1.1"/>
<rect x="833.22" y="840.24" width="9.00" height="9.00" fill="#fff" stroke="#ff1a1a" stroke-width="1.1"/>
<rect x="841.70" y="837.35" width="9.00" height="9.00" fill="#fff" stroke="#ff1a1a" stroke-width="1.1"/>
<rect x="850.17" y="834.65" width="9.00" height="9.00" fill="#fff" stroke="#ff1a1a" stroke-width="1.1"/>
<rect x="858.65" y="832.01" width="9.00" height="9.00" fill="#fff" stroke="#ff1a1a" stroke-width="1.1"/>
<rect x="867.13" y="829.22" width="9.00" height="9.00" fill="#fff" stroke="#ff1a1a" stroke-width="1.1"/>
<rect x="875.60" y="826.48" width="9.00" height="9.00" fill="#fff" stroke="#ff1a1a" stroke-width="1.1"/>
<rect x="884.08" y="824.11" width="9.00" height="9.00" fill="#fff" stroke="#ff1a1a" stroke-width="1.1"/>
<rect x="892.56" y="821.48" width="9.00" height="9.00" fill="#fff" stroke="#ff1a1a" stroke-width="1.1"/>
<rect x="901.04" y="819.08" width="9.00" height="9.00" fill="#fff" stroke="#ff1a1a" stroke-width="1.1"/>
<rect x="909.51" y="817.29" width="9.00" height="9.00" fill="#fff" stroke="#ff1a1a" stroke-width="1.1"/>
<rect x="917.99" y="815.65" width="9.00" height="9.00" fill="#fff" stroke="#ff1a1a" stroke-width="1.1"/>
<rect x="926.47" y="814.24" width="9.00" height="9.00" fill="#fff" stroke="#ff1a1a" stroke-width="1.1"/>
<rect x="934.95" y="813.09" width="9.00" height="9.00" fill="#fff" stroke="#ff1a1a" stroke-width="1.1"/>
<rect x="943.42" y="812.11" width="9.00" height="9.00" fill="#fff" stroke="#ff1a1a" stroke-width="1.1"/>
<rect x="951.90" y="811.19" width="9.00" height="9.00" fill="#fff" stroke="#ff1a1a" stroke-width="1.1"/>
<rect x="960.38" y="809.91" width="9.00" height="9.00" fill="#fff" stroke="#ff1a1a" stroke-width="1.1"/>
<rect x="968.85" y="808.68" width="9.00" height="9.00" fill="#fff" stroke="#ff1a1a" stroke-width="1.1"/>
<rect x="977.33" y="807.53" width="9.00" height="9.00" fill="#fff" stroke="#ff1a1a" stroke-width="1.1"/>
<rect x="985.81" y="806.50" width="9.00" height="9.00" fill="#fff" stroke="#ff1a1a" stroke-width="1.1"/>
<rect x="994.29" y="805.52" width="9.00" height="9.00" fill="#fff" stroke="#ff1a1a" stroke-width="1.1"/>
<rect x="1002.76" y="804.62" width="9.00" height="9.00" fill="#fff" stroke="#ff1a1a" stroke-width="1.1"/>
<rect x="1011.24" y="803.81" width="9.00" height="9.00" fill="#fff" stroke="#ff1a1a" stroke-width="1.1"/>
<rect x="1019.72" y="803.23" width="9.00" height="9.00" fill="#fff" stroke="#ff1a1a" stroke-width="1.1"/>
<rect x="1028.20" y="802.68" width="9.00" height="9.00" fill="#fff" stroke="#ff1a1a" stroke-width="1.1"/>
<rect x="1036.67" y="802.17" width="9.00" height="9.00" fill="#fff" stroke="#ff1a1a" stroke-width="1.1"/>
<rect x="1045.15" y="801.68" width="9.00" height="9.00" fill="#fff" stroke="#ff1a1a" stroke-width="1.1"/>
<rect x="1053.63" y="801.20" width="9.00" height="9.00" fill="#fff" stroke="#ff1a1a" stroke-width="1.1"/>
<rect x="1062.10" y="800.52" width="9.00" height="9.00" fill="#fff" stroke="#ff1a1a" stroke-width="1.1"/>
<rect x="1070.58" y="799.83" width="9.00" height="9.00" fill="#fff" stroke="#ff1a1a" stroke-width="1.1"/>
<rect x="1079.06" y="799.15" width="9.00" height="9.00" fill="#fff" stroke="#ff1a1a" stroke-width="1.1"/>
<rect x="1087.54" y="798.48" width="9.00" height="9.00" fill="#fff" stroke="#ff1a1a" stroke-width="1.1"/>
<rect x="1096.01" y="797.82" width="9.00" height="9.00" fill="#fff" stroke="#ff1a1a" stroke-width="1.1"/>
<rect x="1104.49" y="797.16" width="9.00" height="9.00" fill="#fff" stroke="#ff1a1a" stroke-width="1.1"/>
<rect x="1112.97" y="796.26" width="9.00" height="9.00" fill="#fff" stroke="#ff1a1a" stroke-width="1.1"/>
<rect x="1121.45" y="795.35" width="9.00" height="9.00" fill="#fff" stroke="#ff1a1a" stroke-width="1.1"/>
<rect x="1129.92" y="794.44" width="9.00" height="9.00" fill="#fff" stroke="#ff1a1a" stroke-width="1.1"/>
<rect x="1138.40" y="793.53" width="9.00" height="9.00" fill="#fff" stroke="#ff1a1a" stroke-width="1.1"/>
<polygon points="764.80,941.99 775.00,941.99 769.90,951.49" fill="#fff" stroke="#1a1aff" stroke-width="1.1"/>
<polygon points="773.28,936.19 783.48,936.19 778.38,945.69" fill="#fff" stroke="#1a1aff" stroke-width="1.1"/>
<polygon points="781.75,920.18 791.95,920.18 786.85,929.68" fill="#fff" stroke="#1a1aff" stroke-width="1.1"/>
<polygon points="790.23,909.78 800.43,909.78 795.33,919.28" fill="#fff" stroke="#1a1aff" stroke-width="1.1"/>
<polygon points="798.71,903.19 808.91,903.19 803.81,912.69" fill="#fff" stroke="#1a1aff" stroke-width="1.1"/>
<polygon points="807.19,898.71 817.39,898.71 812.29,908.21" fill="#fff" stroke="#1a1aff" stroke-width="1.1"/>
<polygon points="815.66,894.96 825.86,894.96 820.76,904.46" fill="#fff" stroke="#1a1aff" stroke-width="1.1"/>
<polygon points="824.14,892.18 834.34,892.18 829.24,901.68" fill="#fff" stroke="#1a1aff" stroke-width="1.1"/>
<polygon points="832.62,889.80 842.82,889.80 837.72,899.30" fill="#fff" stroke="#1a1aff" stroke-width="1.1"/>
<polygon points="841.10,887.21 851.30,887.21 846.20,896.71" fill="#fff" stroke="#1a1aff" stroke-width="1.1"/>
<polygon points="849.57,884.45 859.77,884.45 854.67,893.95" fill="#fff" stroke="#1a1aff" stroke-width="1.1"/>
<polygon points="858.05,881.68 868.25,881.68 863.15,891.18" fill="#fff" stroke="#1a1aff" stroke-width="1.1"/>
<polygon points="866.53,878.90 876.73,878.90 871.63,888.40" fill="#fff" stroke="#1a1aff" stroke-width="1.1"/>
<polygon points="875.00,875.65 885.20,875.65 880.10,885.15" fill="#fff" stroke="#1a1aff" stroke-width="1.1"/>
<polygon points="883.48,872.48 893.68,872.48 888.58,881.98" fill="#fff" stroke="#1a1aff" stroke-width="1.1"/>
<polygon points="891.96,869.83 902.16,869.83 897.06,879.33" fill="#fff" stroke="#1a1aff" stroke-width="1.1"/>
<polygon points="900.44,867.42 910.64,867.42 905.54,876.92" fill="#fff" stroke="#1a1aff" stroke-width="1.1"/>
<polygon points="908.91,865.29 919.11,865.29 914.01,874.79" fill="#fff" stroke="#1a1aff" stroke-width="1.1"/>
<polygon points="917.39,863.35 927.59,863.35 922.49,872.85" fill="#fff" stroke="#1a1aff" stroke-width="1.1"/>
<polygon points="925.87,861.62 936.07,861.62 930.97,871.12" fill="#fff" stroke="#1a1aff" stroke-width="1.1"/>
<polygon points="934.35,860.12 944.55,860.12 939.45,869.62" fill="#fff" stroke="#1a1aff" stroke-width="1.1"/>
<polygon points="942.82,858.78 953.02,858.78 947.92,868.28" fill="#fff" stroke="#1a1aff" stroke-width="1.1"/>
<polygon points="951.30,857.52 961.50,857.52 956.40,867.02" fill="#fff" stroke="#1a1aff" stroke-width="1.1"/>
<polygon points="959.78,856.13 969.98,856.13 964.88,865.63" fill="#fff" stroke="#1a1aff" stroke-width="1.1"/>
<polygon points="968.25,854.78 978.45,854.78 973.35,864.28" fill="#fff" stroke="#1a1aff" stroke-width="1.1"/>
<polygon points="976.73,853.54 986.93,853.54 981.83,863.04" fill="#fff" stroke="#1a1aff" stroke-width="1.1"/>
<polygon points="985.21,852.44 995.41,852.44 990.31,861.94" fill="#fff" stroke="#1a1aff" stroke-width="1.1"/>
<polygon points="993.69,851.40 1003.89,851.40 998.79,860.90" fill="#fff" stroke="#1a1aff" stroke-width="1.1"/>
<polygon points="1002.16,850.47 1012.36,850.47 1007.26,859.97" fill="#fff" stroke="#1a1aff" stroke-width="1.1"/>
<polygon points="1010.64,849.69 1020.84,849.69 1015.74,859.19" fill="#fff" stroke="#1a1aff" stroke-width="1.1"/>
<polygon points="1019.12,848.75 1029.32,848.75 1024.22,858.25" fill="#fff" stroke="#1a1aff" stroke-width="1.1"/>
<polygon points="1027.60,847.86 1037.80,847.86 1032.70,857.36" fill="#fff" stroke="#1a1aff" stroke-width="1.1"/>
<polygon points="1036.07,847.02 1046.27,847.02 1041.17,856.52" fill="#fff" stroke="#1a1aff" stroke-width="1.1"/>
<polygon points="1044.55,846.22 1054.75,846.22 1049.65,855.72" fill="#fff" stroke="#1a1aff" stroke-width="1.1"/>
<polygon points="1053.03,845.46 1063.23,845.46 1058.13,854.96" fill="#fff" stroke="#1a1aff" stroke-width="1.1"/>
<polygon points="1061.50,844.75 1071.70,844.75 1066.60,854.25" fill="#fff" stroke="#1a1aff" stroke-width="1.1"/>
<polygon points="1069.98,844.05 1080.18,844.05 1075.08,853.55" fill="#fff" stroke="#1a1aff" stroke-width="1.1"/>
<polygon points="1078.46,843.38 1088.66,843.38 1083.56,852.88" fill="#fff" stroke="#1a1aff" stroke-width="1.1"/>
<polygon points="1086.94,842.74 1097.14,842.74 1092.04,852.24" fill="#fff" stroke="#1a1aff" stroke-width="1.1"/>
<polygon points="1095.41,842.12 1105.61,842.12 1100.51,851.62" fill="#fff" stroke="#1a1aff" stroke-width="1.1"/>
<polygon points="1103.89,841.52 1114.09,841.52 1108.99,851.02" fill="#fff" stroke="#1a1aff" stroke-width="1.1"/>
<polygon points="1112.37,840.92 1122.57,840.92 1117.47,850.42" fill="#fff" stroke="#1a1aff" stroke-width="1.1"/>
<polygon points="1120.85,841.80 1131.05,841.80 1125.95,851.30" fill="#fff" stroke="#1a1aff" stroke-width="1.1"/>
<polygon points="1129.32,842.68 1139.52,842.68 1134.42,852.18" fill="#fff" stroke="#1a1aff" stroke-width="1.1"/>
<polygon points="1137.80,843.54 1148.00,843.54 1142.90,853.04" fill="#fff" stroke="#1a1aff" stroke-width="1.1"/>
<path d="M 769.90,785.75 L 770.65,787.79 L 771.39,789.92 L 772.14,792.60 L 772.89,795.94 L 773.64,799.77 L 774.38,803.91 L 775.13,808.21 L 775.88,813.07 L 776.63,818.67 L 777.37,824.36 L 778.12,829.50 L 778.87,833.43 L 779.62,836.55 L 780.36,839.55 L 781.11,842.15 L 781.86,844.05 L 782.61,844.96 L 783.35,844.93 L 784.10,844.67 L 784.85,844.26 L 785.60,843.74 L 786.34,843.16 L 787.09,842.58 L 787.84,842.01 L 788.59,841.38 L 789.33,840.66 L 790.08,839.88 L 790.83,839.06 L 791.58,838.19 L 792.32,837.31 L 793.07,836.43 L 793.82,835.56 L 794.57,834.71 L 795.31,833.91 L 796.06,833.11 L 796.81,832.29 L 797.56,831.47 L 798.30,830.68 L 799.05,829.95 L 799.80,829.32 L 800.55,828.78 L 801.29,828.25 L 802.04,827.74 L 802.79,827.23 L 803.54,826.73 L 804.28,826.25 L 805.03,825.78 L 805.78,825.32 L 806.53,824.87 L 807.27,824.43 L 808.02,824.00 L 808.77,823.59 L 809.52,823.19 L 810.26,822.80 L 811.01,822.42 L 811.76,822.05 L 812.51,821.70 L 813.25,821.36 L 814.00,821.03 L 814.75,820.71 L 815.50,820.41 L 816.24,820.12 L 816.99,819.85 L 817.74,819.58 L 818.49,819.33 L 819.23,819.10 L 819.98,818.87 L 820.73,818.66 L 821.48,818.47 L 822.22,818.28 L 822.97,818.10 L 823.72,817.93 L 824.47,817.77 L 825.21,817.61 L 825.96,817.45 L 826.71,817.31 L 827.46,817.17 L 828.20,817.03 L 828.95,816.90 L 829.70,816.77 L 830.45,816.64 L 831.19,816.52 L 831.94,816.40 L 832.69,816.29 L 833.44,816.17 L 834.18,816.06 L 834.93,815.95 L 835.68,815.84 L 836.43,815.73 L 837.17,815.62 L 837.92,815.51 L 838.67,815.40 L 839.42,815.28 L 840.16,815.17 L 840.91,815.05 L 841.66,814.94 L 842.41,814.81 L 843.15,814.69 L 843.90,814.57 L 844.65,814.45 L 845.40,814.33 L 846.14,814.21 L 846.89,814.10 L 847.64,813.98 L 848.39,813.86 L 849.13,813.75 L 849.88,813.63 L 850.63,813.52 L 851.38,813.41 L 852.12,813.29 L 852.87,813.18 L 853.62,813.07 L 854.37,812.95 L 855.11,812.84 L 855.86,812.73 L 856.61,812.62 L 857.36,812.51 L 858.10,812.40 L 858.85,812.28 L 859.60,812.17 L 860.35,812.06 L 861.09,811.95 L 861.84,811.84 L 862.59,811.73 L 863.34,811.61 L 864.08,811.50 L 864.83,811.39 L 865.58,811.28 L 866.33,811.16 L 867.07,811.05 L 867.82,810.94 L 868.57,810.83 L 869.32,810.71 L 870.06,810.60 L 870.81,810.49 L 871.56,810.38 L 872.31,810.27 L 873.05,810.16 L 873.80,810.04 L 874.55,809.93 L 875.30,809.82 L 876.04,809.71 L 876.79,809.60 L 877.54,809.49 L 878.29,809.38 L 879.03,809.27 L 879.78,809.16 L 880.53,809.05 L 881.28,808.94 L 882.02,808.83 L 882.77,808.72 L 883.52,808.61 L 884.27,808.51 L 885.01,808.40 L 885.76,808.29 L 886.51,808.18 L 887.26,808.07 L 888.00,807.96 L 888.75,807.85 L 889.50,807.73 L 890.25,807.62 L 890.99,807.51 L 891.74,807.40 L 892.49,807.29 L 893.24,807.17 L 893.98,807.06 L 894.73,806.95 L 895.48,806.84 L 896.23,806.73 L 896.97,806.63 L 897.72,806.52 L 898.47,806.41 L 899.22,806.31 L 899.96,806.21 L 900.71,806.11 L 901.46,806.01 L 902.21,805.91 L 902.95,805.81 L 903.70,805.72 L 904.45,805.63 L 905.20,805.54 L 905.94,805.45 L 906.69,805.36 L 907.44,805.28 L 908.19,805.19 L 908.93,805.10 L 909.68,805.02 L 910.43,804.93 L 911.18,804.85 L 911.92,804.76 L 912.67,804.68 L 913.42,804.59 L 914.17,804.50 L 914.91,804.42 L 915.66,804.34 L 916.41,804.25 L 917.16,804.17 L 917.90,804.08 L 918.65,804.00 L 919.40,803.92 L 920.15,803.84 L 920.89,803.75 L 921.64,803.67 L 922.39,803.59 L 923.14,803.51 L 923.88,803.43 L 924.63,803.35 L 925.38,803.27 L 926.13,803.19 L 926.87,803.11 L 927.62,803.04 L 928.37,802.96 L 929.12,802.88 L 929.86,802.81 L 930.61,802.73 L 931.36,802.66 L 932.11,802.58 L 932.85,802.51 L 933.60,802.44 L 934.35,802.37 L 935.10,802.30 L 935.84,802.23 L 936.59,802.16 L 937.34,802.09 L 938.09,802.02 L 938.83,801.95 L 939.58,801.89 L 940.33,801.82 L 941.08,801.76 L 941.82,801.70 L 942.57,801.63 L 943.32,801.57 L 944.07,801.51 L 944.81,801.45 L 945.56,801.39 L 946.31,801.34 L 947.06,801.28 L 947.80,801.22 L 948.55,801.17 L 949.30,801.12 L 950.05,801.06 L 950.79,801.01 L 951.54,800.96 L 952.29,800.91 L 953.04,800.87 L 953.78,800.82 L 954.53,800.78 L 955.28,800.73 L 956.03,800.69 L 956.77,800.65 L 957.52,800.61 L 958.27,800.57 L 959.02,800.53 L 959.76,800.49 L 960.51,800.45 L 961.26,800.42 L 962.01,800.38 L 962.75,800.34 L 963.50,800.31 L 964.25,800.27 L 965.00,800.24 L 965.74,800.20 L 966.49,800.17 L 967.24,800.13 L 967.99,800.10 L 968.73,800.06 L 969.48,800.03 L 970.23,800.00 L 970.98,799.97 L 971.72,799.93 L 972.47,799.90 L 973.22,799.87 L 973.97,799.84 L 974.71,799.81 L 975.46,799.78 L 976.21,799.75 L 976.96,799.72 L 977.70,799.69 L 978.45,799.66 L 979.20,799.63 L 979.95,799.60 L 980.69,799.58 L 981.44,799.55 L 982.19,799.52 L 982.94,799.49 L 983.68,799.47 L 984.43,799.44 L 985.18,799.41 L 985.93,799.39 L 986.67,799.36 L 987.42,799.34 L 988.17,799.31 L 988.92,799.29 L 989.66,799.26 L 990.41,799.24 L 991.16,799.22 L 991.91,799.19 L 992.65,799.17 L 993.40,799.15 L 994.15,799.13 L 994.90,799.10 L 995.64,799.08 L 996.39,799.06 L 997.14,799.04 L 997.89,799.02 L 998.63,799.00 L 999.38,798.98 L 1000.13,798.96 L 1000.88,798.94 L 1001.62,798.92 L 1002.37,798.90 L 1003.12,798.88 L 1003.87,798.86 L 1004.61,798.84 L 1005.36,798.83 L 1006.11,798.81 L 1006.86,798.79 L 1007.60,798.77 L 1008.35,798.76 L 1009.10,798.74 L 1009.85,798.72 L 1010.59,798.71 L 1011.34,798.69 L 1012.09,798.67 L 1012.84,798.66 L 1013.58,798.64 L 1014.33,798.63 L 1015.08,798.61 L 1015.83,798.60 L 1016.57,798.58 L 1017.32,798.57 L 1018.07,798.56 L 1018.82,798.54 L 1019.56,798.53 L 1020.31,798.52 L 1021.06,798.50 L 1021.81,798.49 L 1022.55,798.48 L 1023.30,798.46 L 1024.05,798.45 L 1024.80,798.44 L 1025.54,798.43 L 1026.29,798.42 L 1027.04,798.40 L 1027.79,798.39 L 1028.53,798.38 L 1029.28,798.37 L 1030.03,798.36 L 1030.78,798.35 L 1031.52,798.34 L 1032.27,798.33 L 1033.02,798.31 L 1033.77,798.30 L 1034.51,798.29 L 1035.26,798.28 L 1036.01,798.27 L 1036.76,798.26 L 1037.50,798.25 L 1038.25,798.24 L 1039.00,798.23 L 1039.75,798.22 L 1040.49,798.21 L 1041.24,798.20 L 1041.99,798.19 L 1042.74,798.18 L 1043.48,798.17 L 1044.23,798.16 L 1044.98,798.15 L 1045.73,798.14 L 1046.47,798.13 L 1047.22,798.12 L 1047.97,798.11 L 1048.72,798.10 L 1049.46,798.09 L 1050.21,798.08 L 1050.96,798.07 L 1051.71,798.06 L 1052.45,798.05 L 1053.20,798.04 L 1053.95,798.03 L 1054.70,798.02 L 1055.44,798.01 L 1056.19,798.00 L 1056.94,797.99 L 1057.69,797.98 L 1058.43,797.97 L 1059.18,797.96 L 1059.93,797.95 L 1060.68,797.94 L 1061.42,797.93 L 1062.17,797.92 L 1062.92,797.91 L 1063.67,797.90 L 1064.41,797.88 L 1065.16,797.87 L 1065.91,797.86 L 1066.66,797.85 L 1067.40,797.84 L 1068.15,797.83 L 1068.90,797.81 L 1069.65,797.80 L 1070.39,797.79 L 1071.14,797.78 L 1071.89,797.76 L 1072.64,797.75 L 1073.38,797.74 L 1074.13,797.72 L 1074.88,797.71 L 1075.63,797.70 L 1076.37,797.68 L 1077.12,797.67 L 1077.87,797.65 L 1078.62,797.64 L 1079.36,797.63 L 1080.11,797.61 L 1080.86,797.60 L 1081.61,797.58 L 1082.35,797.57 L 1083.10,797.55 L 1083.85,797.54 L 1084.60,797.53 L 1085.34,797.51 L 1086.09,797.50 L 1086.84,797.48 L 1087.59,797.47 L 1088.33,797.45 L 1089.08,797.44 L 1089.83,797.42 L 1090.58,797.40 L 1091.32,797.39 L 1092.07,797.37 L 1092.82,797.36 L 1093.57,797.34 L 1094.31,797.33 L 1095.06,797.31 L 1095.81,797.30 L 1096.56,797.28 L 1097.30,797.26 L 1098.05,797.25 L 1098.80,797.23 L 1099.55,797.22 L 1100.29,797.20 L 1101.04,797.18 L 1101.79,797.17 L 1102.54,797.15 L 1103.28,797.14 L 1104.03,797.12 L 1104.78,797.10 L 1105.53,797.09 L 1106.27,797.07 L 1107.02,797.05 L 1107.77,797.04 L 1108.52,797.02 L 1109.26,797.00 L 1110.01,796.99 L 1110.76,796.97 L 1111.51,796.95 L 1112.25,796.94 L 1113.00,796.92 L 1113.75,796.90 L 1114.50,796.89 L 1115.24,796.87 L 1115.99,796.85 L 1116.74,796.84 L 1117.49,796.82 L 1118.23,796.80 L 1118.98,796.79 L 1119.73,796.77 L 1120.48,796.75 L 1121.22,796.74 L 1121.97,796.72 L 1122.72,796.70 L 1123.47,796.69 L 1124.21,796.67 L 1124.96,796.65 L 1125.71,796.64 L 1126.46,796.62 L 1127.20,796.60 L 1127.95,796.59 L 1128.70,796.57 L 1129.45,796.56 L 1130.19,796.54 L 1130.94,796.52 L 1131.69,796.51 L 1132.44,796.49 L 1133.18,796.47 L 1133.93,796.46 L 1134.68,796.44 L 1135.43,796.42 L 1136.17,796.41 L 1136.92,796.39 L 1137.67,796.37 L 1138.42,796.36 L 1139.16,796.34 L 1139.91,796.33 L 1140.66,796.31 L 1141.41,796.29 L 1142.15,796.28 L 1142.90,796.26" fill="none" stroke="#000" stroke-width="3.0" stroke-linejoin="round"/>
<path d="M 769.90,829.96 L 770.65,843.05 L 771.39,856.28 L 772.14,869.33 L 772.89,881.85 L 773.64,894.80 L 774.38,909.29 L 775.13,920.35 L 775.88,923.15 L 776.63,922.31 L 777.37,920.69 L 778.12,918.63 L 778.87,916.47 L 779.62,913.92 L 780.36,910.64 L 781.11,906.91 L 781.86,903.06 L 782.61,899.39 L 783.35,896.20 L 784.10,893.64 L 784.85,891.24 L 785.60,888.96 L 786.34,886.82 L 787.09,884.82 L 787.84,883.00 L 788.59,881.35 L 789.33,879.89 L 790.08,878.58 L 790.83,877.35 L 791.58,876.20 L 792.32,875.11 L 793.07,874.08 L 793.82,873.10 L 794.57,872.17 L 795.31,871.28 L 796.06,870.42 L 796.81,869.59 L 797.56,868.78 L 798.30,867.99 L 799.05,867.20 L 799.80,866.42 L 800.55,865.64 L 801.29,864.86 L 802.04,864.10 L 802.79,863.35 L 803.54,862.62 L 804.28,861.90 L 805.03,861.20 L 805.78,860.52 L 806.53,859.87 L 807.27,859.24 L 808.02,858.63 L 808.77,858.06 L 809.52,857.51 L 810.26,857.00 L 811.01,856.52 L 811.76,856.06 L 812.51,855.62 L 813.25,855.20 L 814.00,854.80 L 814.75,854.41 L 815.50,854.04 L 816.24,853.67 L 816.99,853.32 L 817.74,852.98 L 818.49,852.64 L 819.23,852.30 L 819.98,851.97 L 820.73,851.64 L 821.48,851.31 L 822.22,850.99 L 822.97,850.67 L 823.72,850.35 L 824.47,850.04 L 825.21,849.74 L 825.96,849.43 L 826.71,849.13 L 827.46,848.84 L 828.20,848.54 L 828.95,848.25 L 829.70,847.97 L 830.45,847.68 L 831.19,847.40 L 831.94,847.12 L 832.69,846.84 L 833.44,846.57 L 834.18,846.30 L 834.93,846.03 L 835.68,845.76 L 836.43,845.49 L 837.17,845.22 L 837.92,844.96 L 838.67,844.70 L 839.42,844.43 L 840.16,844.17 L 840.91,843.91 L 841.66,843.65 L 842.41,843.38 L 843.15,843.12 L 843.90,842.87 L 844.65,842.61 L 845.40,842.36 L 846.14,842.11 L 846.89,841.86 L 847.64,841.61 L 848.39,841.37 L 849.13,841.12 L 849.88,840.88 L 850.63,840.64 L 851.38,840.40 L 852.12,840.16 L 852.87,839.92 L 853.62,839.69 L 854.37,839.45 L 855.11,839.21 L 855.86,838.98 L 856.61,838.74 L 857.36,838.50 L 858.10,838.27 L 858.85,838.03 L 859.60,837.79 L 860.35,837.55 L 861.09,837.32 L 861.84,837.08 L 862.59,836.84 L 863.34,836.59 L 864.08,836.35 L 864.83,836.11 L 865.58,835.86 L 866.33,835.61 L 867.07,835.36 L 867.82,835.11 L 868.57,834.85 L 869.32,834.60 L 870.06,834.35 L 870.81,834.09 L 871.56,833.84 L 872.31,833.59 L 873.05,833.33 L 873.80,833.08 L 874.55,832.83 L 875.30,832.58 L 876.04,832.33 L 876.79,832.09 L 877.54,831.84 L 878.29,831.60 L 879.03,831.36 L 879.78,831.13 L 880.53,830.89 L 881.28,830.66 L 882.02,830.44 L 882.77,830.22 L 883.52,830.00 L 884.27,829.78 L 885.01,829.58 L 885.76,829.37 L 886.51,829.16 L 887.26,828.96 L 888.00,828.76 L 888.75,828.56 L 889.50,828.36 L 890.25,828.17 L 890.99,827.98 L 891.74,827.78 L 892.49,827.60 L 893.24,827.41 L 893.98,827.22 L 894.73,827.04 L 895.48,826.86 L 896.23,826.67 L 896.97,826.50 L 897.72,826.32 L 898.47,826.14 L 899.22,825.97 L 899.96,825.80 L 900.71,825.62 L 901.46,825.46 L 902.21,825.29 L 902.95,825.12 L 903.70,824.96 L 904.45,824.79 L 905.20,824.63 L 905.94,824.47 L 906.69,824.31 L 907.44,824.15 L 908.19,823.99 L 908.93,823.83 L 909.68,823.68 L 910.43,823.52 L 911.18,823.36 L 911.92,823.21 L 912.67,823.05 L 913.42,822.90 L 914.17,822.74 L 914.91,822.59 L 915.66,822.44 L 916.41,822.29 L 917.16,822.14 L 917.90,822.00 L 918.65,821.85 L 919.40,821.71 L 920.15,821.57 L 920.89,821.43 L 921.64,821.29 L 922.39,821.15 L 923.14,821.01 L 923.88,820.88 L 924.63,820.75 L 925.38,820.62 L 926.13,820.49 L 926.87,820.37 L 927.62,820.24 L 928.37,820.12 L 929.12,820.00 L 929.86,819.89 L 930.61,819.77 L 931.36,819.66 L 932.11,819.55 L 932.85,819.45 L 933.60,819.34 L 934.35,819.24 L 935.10,819.14 L 935.84,819.04 L 936.59,818.94 L 937.34,818.84 L 938.09,818.75 L 938.83,818.65 L 939.58,818.56 L 940.33,818.47 L 941.08,818.38 L 941.82,818.29 L 942.57,818.20 L 943.32,818.11 L 944.07,818.02 L 944.81,817.94 L 945.56,817.85 L 946.31,817.77 L 947.06,817.68 L 947.80,817.60 L 948.55,817.52 L 949.30,817.44 L 950.05,817.35 L 950.79,817.27 L 951.54,817.19 L 952.29,817.11 L 953.04,817.03 L 953.78,816.95 L 954.53,816.87 L 955.28,816.79 L 956.03,816.71 L 956.77,816.63 L 957.52,816.55 L 958.27,816.46 L 959.02,816.38 L 959.76,816.30 L 960.51,816.22 L 961.26,816.14 L 962.01,816.06 L 962.75,815.98 L 963.50,815.90 L 964.25,815.81 L 965.00,815.73 L 965.74,815.65 L 966.49,815.57 L 967.24,815.49 L 967.99,815.41 L 968.73,815.34 L 969.48,815.26 L 970.23,815.18 L 970.98,815.10 L 971.72,815.02 L 972.47,814.95 L 973.22,814.87 L 973.97,814.80 L 974.71,814.72 L 975.46,814.65 L 976.21,814.58 L 976.96,814.51 L 977.70,814.44 L 978.45,814.37 L 979.20,814.30 L 979.95,814.23 L 980.69,814.16 L 981.44,814.10 L 982.19,814.03 L 982.94,813.97 L 983.68,813.91 L 984.43,813.84 L 985.18,813.78 L 985.93,813.72 L 986.67,813.67 L 987.42,813.61 L 988.17,813.55 L 988.92,813.49 L 989.66,813.43 L 990.41,813.37 L 991.16,813.32 L 991.91,813.26 L 992.65,813.20 L 993.40,813.15 L 994.15,813.09 L 994.90,813.04 L 995.64,812.98 L 996.39,812.93 L 997.14,812.88 L 997.89,812.82 L 998.63,812.77 L 999.38,812.72 L 1000.13,812.67 L 1000.88,812.62 L 1001.62,812.57 L 1002.37,812.52 L 1003.12,812.47 L 1003.87,812.42 L 1004.61,812.38 L 1005.36,812.33 L 1006.11,812.28 L 1006.86,812.24 L 1007.60,812.19 L 1008.35,812.15 L 1009.10,812.10 L 1009.85,812.06 L 1010.59,812.02 L 1011.34,811.98 L 1012.09,811.94 L 1012.84,811.90 L 1013.58,811.86 L 1014.33,811.82 L 1015.08,811.79 L 1015.83,811.75 L 1016.57,811.71 L 1017.32,811.68 L 1018.07,811.64 L 1018.82,811.61 L 1019.56,811.57 L 1020.31,811.54 L 1021.06,811.50 L 1021.81,811.47 L 1022.55,811.44 L 1023.30,811.40 L 1024.05,811.37 L 1024.80,811.34 L 1025.54,811.31 L 1026.29,811.27 L 1027.04,811.24 L 1027.79,811.21 L 1028.53,811.18 L 1029.28,811.15 L 1030.03,811.12 L 1030.78,811.09 L 1031.52,811.06 L 1032.27,811.03 L 1033.02,811.00 L 1033.77,810.97 L 1034.51,810.94 L 1035.26,810.91 L 1036.01,810.89 L 1036.76,810.86 L 1037.50,810.83 L 1038.25,810.80 L 1039.00,810.77 L 1039.75,810.75 L 1040.49,810.72 L 1041.24,810.69 L 1041.99,810.67 L 1042.74,810.64 L 1043.48,810.61 L 1044.23,810.59 L 1044.98,810.56 L 1045.73,810.54 L 1046.47,810.51 L 1047.22,810.48 L 1047.97,810.46 L 1048.72,810.43 L 1049.46,810.41 L 1050.21,810.38 L 1050.96,810.36 L 1051.71,810.33 L 1052.45,810.31 L 1053.20,810.28 L 1053.95,810.26 L 1054.70,810.23 L 1055.44,810.21 L 1056.19,810.18 L 1056.94,810.16 L 1057.69,810.14 L 1058.43,810.11 L 1059.18,810.09 L 1059.93,810.06 L 1060.68,810.04 L 1061.42,810.01 L 1062.17,809.99 L 1062.92,809.97 L 1063.67,809.94 L 1064.41,809.92 L 1065.16,809.89 L 1065.91,809.87 L 1066.66,809.84 L 1067.40,809.82 L 1068.15,809.80 L 1068.90,809.77 L 1069.65,809.75 L 1070.39,809.72 L 1071.14,809.70 L 1071.89,809.67 L 1072.64,809.65 L 1073.38,809.62 L 1074.13,809.60 L 1074.88,809.58 L 1075.63,809.55 L 1076.37,809.53 L 1077.12,809.50 L 1077.87,809.48 L 1078.62,809.45 L 1079.36,809.43 L 1080.11,809.41 L 1080.86,809.38 L 1081.61,809.36 L 1082.35,809.34 L 1083.10,809.31 L 1083.85,809.29 L 1084.60,809.27 L 1085.34,809.24 L 1086.09,809.22 L 1086.84,809.20 L 1087.59,809.17 L 1088.33,809.15 L 1089.08,809.13 L 1089.83,809.10 L 1090.58,809.08 L 1091.32,809.06 L 1092.07,809.04 L 1092.82,809.01 L 1093.57,808.99 L 1094.31,808.97 L 1095.06,808.95 L 1095.81,808.92 L 1096.56,808.90 L 1097.30,808.88 L 1098.05,808.86 L 1098.80,808.84 L 1099.55,808.81 L 1100.29,808.79 L 1101.04,808.77 L 1101.79,808.75 L 1102.54,808.73 L 1103.28,808.70 L 1104.03,808.68 L 1104.78,808.66 L 1105.53,808.64 L 1106.27,808.62 L 1107.02,808.60 L 1107.77,808.57 L 1108.52,808.55 L 1109.26,808.53 L 1110.01,808.51 L 1110.76,808.49 L 1111.51,808.47 L 1112.25,808.45 L 1113.00,808.42 L 1113.75,808.40 L 1114.50,808.38 L 1115.24,808.36 L 1115.99,808.34 L 1116.74,808.32 L 1117.49,808.30 L 1118.23,808.27 L 1118.98,808.25 L 1119.73,808.23 L 1120.48,808.21 L 1121.22,808.19 L 1121.97,808.17 L 1122.72,808.15 L 1123.47,808.13 L 1124.21,808.10 L 1124.96,808.08 L 1125.71,808.06 L 1126.46,808.04 L 1127.20,808.02 L 1127.95,808.00 L 1128.70,807.98 L 1129.45,807.95 L 1130.19,807.93 L 1130.94,807.91 L 1131.69,807.89 L 1132.44,807.87 L 1133.18,807.85 L 1133.93,807.82 L 1134.68,807.80 L 1135.43,807.78 L 1136.17,807.76 L 1136.92,807.74 L 1137.67,807.72 L 1138.42,807.69 L 1139.16,807.67 L 1139.91,807.65 L 1140.66,807.63 L 1141.41,807.61 L 1142.15,807.58 L 1142.90,807.56" fill="none" stroke="#ff2626" stroke-width="3.0" stroke-linejoin="round"/>
<path d="M 769.90,948.85 L 770.65,950.40 L 771.39,951.09 L 772.14,950.64 L 772.89,949.66 L 773.64,948.31 L 774.38,946.76 L 775.13,945.15 L 775.88,943.67 L 776.63,942.28 L 777.37,940.79 L 778.12,939.22 L 778.87,937.59 L 779.62,935.94 L 780.36,934.30 L 781.11,932.70 L 781.86,931.17 L 782.61,929.74 L 783.35,928.46 L 784.10,927.31 L 784.85,926.23 L 785.60,925.22 L 786.34,924.25 L 787.09,923.32 L 787.84,922.43 L 788.59,921.56 L 789.33,920.72 L 790.08,919.89 L 790.83,919.06 L 791.58,918.23 L 792.32,917.39 L 793.07,916.55 L 793.82,915.72 L 794.57,914.90 L 795.31,914.10 L 796.06,913.33 L 796.81,912.59 L 797.56,911.89 L 798.30,911.23 L 799.05,910.63 L 799.80,910.08 L 800.55,909.55 L 801.29,909.04 L 802.04,908.56 L 802.79,908.09 L 803.54,907.65 L 804.28,907.21 L 805.03,906.80 L 805.78,906.39 L 806.53,905.99 L 807.27,905.59 L 808.02,905.20 L 808.77,904.81 L 809.52,904.42 L 810.26,904.03 L 811.01,903.65 L 811.76,903.27 L 812.51,902.90 L 813.25,902.53 L 814.00,902.17 L 814.75,901.82 L 815.50,901.47 L 816.24,901.13 L 816.99,900.80 L 817.74,900.48 L 818.49,900.16 L 819.23,899.86 L 819.98,899.56 L 820.73,899.27 L 821.48,898.99 L 822.22,898.72 L 822.97,898.46 L 823.72,898.20 L 824.47,897.96 L 825.21,897.71 L 825.96,897.47 L 826.71,897.24 L 827.46,897.01 L 828.20,896.79 L 828.95,896.57 L 829.70,896.35 L 830.45,896.14 L 831.19,895.92 L 831.94,895.71 L 832.69,895.51 L 833.44,895.30 L 834.18,895.09 L 834.93,894.88 L 835.68,894.67 L 836.43,894.47 L 837.17,894.25 L 837.92,894.04 L 838.67,893.83 L 839.42,893.61 L 840.16,893.39 L 840.91,893.17 L 841.66,892.94 L 842.41,892.71 L 843.15,892.48 L 843.90,892.24 L 844.65,892.00 L 845.40,891.77 L 846.14,891.53 L 846.89,891.29 L 847.64,891.05 L 848.39,890.80 L 849.13,890.56 L 849.88,890.32 L 850.63,890.08 L 851.38,889.83 L 852.12,889.59 L 852.87,889.34 L 853.62,889.10 L 854.37,888.85 L 855.11,888.61 L 855.86,888.36 L 856.61,888.12 L 857.36,887.87 L 858.10,887.63 L 858.85,887.38 L 859.60,887.14 L 860.35,886.89 L 861.09,886.65 L 861.84,886.40 L 862.59,886.16 L 863.34,885.92 L 864.08,885.67 L 864.83,885.43 L 865.58,885.19 L 866.33,884.94 L 867.07,884.70 L 867.82,884.45 L 868.57,884.21 L 869.32,883.96 L 870.06,883.72 L 870.81,883.47 L 871.56,883.23 L 872.31,882.98 L 873.05,882.73 L 873.80,882.49 L 874.55,882.24 L 875.30,882.00 L 876.04,881.76 L 876.79,881.51 L 877.54,881.27 L 878.29,881.03 L 879.03,880.79 L 879.78,880.54 L 880.53,880.30 L 881.28,880.07 L 882.02,879.83 L 882.77,879.59 L 883.52,879.35 L 884.27,879.12 L 885.01,878.89 L 885.76,878.65 L 886.51,878.42 L 887.26,878.18 L 888.00,877.94 L 888.75,877.71 L 889.50,877.47 L 890.25,877.23 L 890.99,877.00 L 891.74,876.76 L 892.49,876.53 L 893.24,876.29 L 893.98,876.06 L 894.73,875.83 L 895.48,875.60 L 896.23,875.37 L 896.97,875.14 L 897.72,874.91 L 898.47,874.69 L 899.22,874.47 L 899.96,874.25 L 900.71,874.03 L 901.46,873.82 L 902.21,873.60 L 902.95,873.40 L 903.70,873.19 L 904.45,872.99 L 905.20,872.79 L 905.94,872.60 L 906.69,872.40 L 907.44,872.21 L 908.19,872.02 L 908.93,871.83 L 909.68,871.64 L 910.43,871.45 L 911.18,871.27 L 911.92,871.08 L 912.67,870.90 L 913.42,870.72 L 914.17,870.54 L 914.91,870.36 L 915.66,870.18 L 916.41,870.00 L 917.16,869.83 L 917.90,869.66 L 918.65,869.48 L 919.40,869.31 L 920.15,869.15 L 920.89,868.98 L 921.64,868.81 L 922.39,868.65 L 923.14,868.49 L 923.88,868.33 L 924.63,868.17 L 925.38,868.01 L 926.13,867.86 L 926.87,867.71 L 927.62,867.56 L 928.37,867.41 L 929.12,867.26 L 929.86,867.11 L 930.61,866.97 L 931.36,866.83 L 932.11,866.69 L 932.85,866.55 L 933.60,866.41 L 934.35,866.28 L 935.10,866.15 L 935.84,866.02 L 936.59,865.89 L 937.34,865.76 L 938.09,865.63 L 938.83,865.51 L 939.58,865.38 L 940.33,865.26 L 941.08,865.14 L 941.82,865.02 L 942.57,864.90 L 943.32,864.78 L 944.07,864.66 L 944.81,864.54 L 945.56,864.43 L 946.31,864.31 L 947.06,864.20 L 947.80,864.09 L 948.55,863.97 L 949.30,863.86 L 950.05,863.75 L 950.79,863.64 L 951.54,863.52 L 952.29,863.41 L 953.04,863.30 L 953.78,863.19 L 954.53,863.08 L 955.28,862.97 L 956.03,862.86 L 956.77,862.75 L 957.52,862.64 L 958.27,862.53 L 959.02,862.42 L 959.76,862.31 L 960.51,862.20 L 961.26,862.09 L 962.01,861.98 L 962.75,861.87 L 963.50,861.76 L 964.25,861.65 L 965.00,861.54 L 965.74,861.43 L 966.49,861.32 L 967.24,861.21 L 967.99,861.10 L 968.73,860.99 L 969.48,860.89 L 970.23,860.78 L 970.98,860.68 L 971.72,860.57 L 972.47,860.47 L 973.22,860.36 L 973.97,860.26 L 974.71,860.16 L 975.46,860.06 L 976.21,859.96 L 976.96,859.86 L 977.70,859.76 L 978.45,859.66 L 979.20,859.57 L 979.95,859.48 L 980.69,859.38 L 981.44,859.29 L 982.19,859.20 L 982.94,859.11 L 983.68,859.03 L 984.43,858.94 L 985.18,858.86 L 985.93,858.77 L 986.67,858.69 L 987.42,858.60 L 988.17,858.52 L 988.92,858.44 L 989.66,858.35 L 990.41,858.27 L 991.16,858.19 L 991.91,858.11 L 992.65,858.03 L 993.40,857.95 L 994.15,857.87 L 994.90,857.79 L 995.64,857.71 L 996.39,857.63 L 997.14,857.55 L 997.89,857.48 L 998.63,857.40 L 999.38,857.33 L 1000.13,857.25 L 1000.88,857.18 L 1001.62,857.11 L 1002.37,857.04 L 1003.12,856.97 L 1003.87,856.90 L 1004.61,856.83 L 1005.36,856.76 L 1006.11,856.70 L 1006.86,856.63 L 1007.60,856.57 L 1008.35,856.50 L 1009.10,856.44 L 1009.85,856.38 L 1010.59,856.32 L 1011.34,856.27 L 1012.09,856.21 L 1012.84,856.15 L 1013.58,856.10 L 1014.33,856.05 L 1015.08,856.00 L 1015.83,855.95 L 1016.57,855.90 L 1017.32,855.85 L 1018.07,855.80 L 1018.82,855.75 L 1019.56,855.70 L 1020.31,855.66 L 1021.06,855.61 L 1021.81,855.56 L 1022.55,855.51 L 1023.30,855.47 L 1024.05,855.42 L 1024.80,855.38 L 1025.54,855.33 L 1026.29,855.29 L 1027.04,855.24 L 1027.79,855.20 L 1028.53,855.15 L 1029.28,855.11 L 1030.03,855.07 L 1030.78,855.02 L 1031.52,854.98 L 1032.27,854.94 L 1033.02,854.90 L 1033.77,854.86 L 1034.51,854.82 L 1035.26,854.77 L 1036.01,854.73 L 1036.76,854.69 L 1037.50,854.65 L 1038.25,854.62 L 1039.00,854.58 L 1039.75,854.54 L 1040.49,854.50 L 1041.24,854.46 L 1041.99,854.42 L 1042.74,854.39 L 1043.48,854.35 L 1044.23,854.31 L 1044.98,854.28 L 1045.73,854.24 L 1046.47,854.21 L 1047.22,854.17 L 1047.97,854.14 L 1048.72,854.10 L 1049.46,854.07 L 1050.21,854.03 L 1050.96,854.00 L 1051.71,853.97 L 1052.45,853.93 L 1053.20,853.90 L 1053.95,853.87 L 1054.70,853.84 L 1055.44,853.81 L 1056.19,853.77 L 1056.94,853.74 L 1057.69,853.71 L 1058.43,853.68 L 1059.18,853.65 L 1059.93,853.62 L 1060.68,853.59 L 1061.42,853.57 L 1062.17,853.54 L 1062.92,853.51 L 1063.67,853.48 L 1064.41,853.45 L 1065.16,853.43 L 1065.91,853.40 L 1066.66,853.37 L 1067.40,853.35 L 1068.15,853.32 L 1068.90,853.30 L 1069.65,853.27 L 1070.39,853.25 L 1071.14,853.22 L 1071.89,853.20 L 1072.64,853.17 L 1073.38,853.15 L 1074.13,853.13 L 1074.88,853.10 L 1075.63,853.08 L 1076.37,853.06 L 1077.12,853.04 L 1077.87,853.01 L 1078.62,852.99 L 1079.36,852.97 L 1080.11,852.95 L 1080.86,852.93 L 1081.61,852.91 L 1082.35,852.89 L 1083.10,852.87 L 1083.85,852.85 L 1084.60,852.83 L 1085.34,852.81 L 1086.09,852.79 L 1086.84,852.77 L 1087.59,852.75 L 1088.33,852.73 L 1089.08,852.71 L 1089.83,852.69 L 1090.58,852.68 L 1091.32,852.66 L 1092.07,852.64 L 1092.82,852.62 L 1093.57,852.61 L 1094.31,852.59 L 1095.06,852.57 L 1095.81,852.55 L 1096.56,852.54 L 1097.30,852.52 L 1098.05,852.50 L 1098.80,852.49 L 1099.55,852.47 L 1100.29,852.45 L 1101.04,852.44 L 1101.79,852.42 L 1102.54,852.41 L 1103.28,852.39 L 1104.03,852.37 L 1104.78,852.36 L 1105.53,852.34 L 1106.27,852.33 L 1107.02,852.31 L 1107.77,852.30 L 1108.52,852.28 L 1109.26,852.27 L 1110.01,852.25 L 1110.76,852.24 L 1111.51,852.22 L 1112.25,852.21 L 1113.00,852.19 L 1113.75,852.18 L 1114.50,852.16 L 1115.24,852.15 L 1115.99,852.13 L 1116.74,852.12 L 1117.49,852.10 L 1118.23,852.09 L 1118.98,852.07 L 1119.73,852.06 L 1120.48,852.04 L 1121.22,852.03 L 1121.97,852.01 L 1122.72,852.00 L 1123.47,851.98 L 1124.21,851.97 L 1124.96,851.95 L 1125.71,851.94 L 1126.46,851.92 L 1127.20,851.91 L 1127.95,851.89 L 1128.70,851.88 L 1129.45,851.86 L 1130.19,851.85 L 1130.94,851.83 L 1131.69,851.82 L 1132.44,851.80 L 1133.18,851.79 L 1133.93,851.77 L 1134.68,851.76 L 1135.43,851.74 L 1136.17,851.72 L 1136.92,851.71 L 1137.67,851.69 L 1138.42,851.68 L 1139.16,851.66 L 1139.91,851.64 L 1140.66,851.63 L 1141.41,851.61 L 1142.15,851.59 L 1142.90,851.58" fill="none" stroke="#0000ff" stroke-width="3.0" stroke-linejoin="round"/>
<circle cx="960.70" cy="367.60" r="5.29" fill="#fff" stroke="#000" stroke-width="1.1"/>
<rect x="955.53" y="390.02" width="10.35" height="10.35" fill="#fff" stroke="#ff1a1a" stroke-width="1.1"/>
<polygon points="954.63,419.66 966.37,419.66 960.50,430.58" fill="#fff" stroke="#1a1aff" stroke-width="1.1"/>
<line x1="935.4" y1="451.6" x2="986.3" y2="451.6" stroke="#000" stroke-width="2.7"/>
<text x="991.90" y="376.20" font-size="22.75" text-anchor="start" fill="#000" font-weight="normal" font-style="normal" font-family="'Liberation Sans', Arial, sans-serif" >Exp. (50 deg)</text>
<text x="991.90" y="404.30" font-size="22.75" text-anchor="start" fill="#000" font-weight="normal" font-style="normal" font-family="'Liberation Sans', Arial, sans-serif" >Exp. (60 deg)</text>
<text x="991.90" y="432.30" font-size="22.75" text-anchor="start" fill="#000" font-weight="normal" font-style="normal" font-family="'Liberation Sans', Arial, sans-serif" >Exp. (70 deg)</text>
<text x="991.90" y="460.00" font-size="22.75" text-anchor="start" fill="#000" font-weight="normal" font-style="normal" font-family="'Liberation Sans', Arial, sans-serif" >Model</text>
<rect x="1351.4" y="79.9" width="233.8" height="225.1" fill="#968a7e"/>
<rect x="1351.4" y="305" width="233.8" height="168.5" fill="#c5e0b4"/>
<rect x="1351.4" y="564.9" width="233.8" height="120.9" fill="url(#gsimse)"/>
<rect x="1351.4" y="685.8" width="233.8" height="119.4" fill="#968a7e"/>
<line x1="1351.4" y1="685.8" x2="1585.2" y2="685.8" stroke="#7d7064" stroke-width="1"/>
<rect x="1351.4" y="805.2" width="233.8" height="153.4" fill="#d5e8ca"/>
<rect x="1351.4" y="79.9" width="233.8" height="393.6" fill="none" stroke="#000" stroke-width="2"/>
<line x1="1384.85" y1="79.90" x2="1384.85" y2="85.30" stroke="#000" stroke-width="1.8"/>
<line x1="1384.85" y1="473.50" x2="1384.85" y2="468.10" stroke="#000" stroke-width="1.8"/>
<line x1="1418.30" y1="79.90" x2="1418.30" y2="90.60" stroke="#000" stroke-width="1.8"/>
<line x1="1418.30" y1="473.50" x2="1418.30" y2="462.80" stroke="#000" stroke-width="1.8"/>
<line x1="1451.75" y1="79.90" x2="1451.75" y2="85.30" stroke="#000" stroke-width="1.8"/>
<line x1="1451.75" y1="473.50" x2="1451.75" y2="468.10" stroke="#000" stroke-width="1.8"/>
<line x1="1485.20" y1="79.90" x2="1485.20" y2="90.60" stroke="#000" stroke-width="1.8"/>
<line x1="1485.20" y1="473.50" x2="1485.20" y2="462.80" stroke="#000" stroke-width="1.8"/>
<line x1="1518.65" y1="79.90" x2="1518.65" y2="85.30" stroke="#000" stroke-width="1.8"/>
<line x1="1518.65" y1="473.50" x2="1518.65" y2="468.10" stroke="#000" stroke-width="1.8"/>
<line x1="1552.10" y1="79.90" x2="1552.10" y2="90.60" stroke="#000" stroke-width="1.8"/>
<line x1="1552.10" y1="473.50" x2="1552.10" y2="462.80" stroke="#000" stroke-width="1.8"/>
<line x1="1351.40" y1="129.10" x2="1356.80" y2="129.10" stroke="#000" stroke-width="1.8"/>
<line x1="1585.20" y1="129.10" x2="1579.80" y2="129.10" stroke="#000" stroke-width="1.8"/>
<line x1="1351.40" y1="178.30" x2="1362.10" y2="178.30" stroke="#000" stroke-width="1.8"/>
<line x1="1585.20" y1="178.30" x2="1574.50" y2="178.30" stroke="#000" stroke-width="1.8"/>
<line x1="1351.40" y1="227.50" x2="1356.80" y2="227.50" stroke="#000" stroke-width="1.8"/>
<line x1="1585.20" y1="227.50" x2="1579.80" y2="227.50" stroke="#000" stroke-width="1.8"/>
<line x1="1351.40" y1="276.70" x2="1362.10" y2="276.70" stroke="#000" stroke-width="1.8"/>
<line x1="1585.20" y1="276.70" x2="1574.50" y2="276.70" stroke="#000" stroke-width="1.8"/>
<line x1="1351.40" y1="325.90" x2="1356.80" y2="325.90" stroke="#000" stroke-width="1.8"/>
<line x1="1585.20" y1="325.90" x2="1579.80" y2="325.90" stroke="#000" stroke-width="1.8"/>
<line x1="1351.40" y1="375.10" x2="1362.10" y2="375.10" stroke="#000" stroke-width="1.8"/>
<line x1="1585.20" y1="375.10" x2="1574.50" y2="375.10" stroke="#000" stroke-width="1.8"/>
<line x1="1351.40" y1="424.30" x2="1356.80" y2="424.30" stroke="#000" stroke-width="1.8"/>
<line x1="1585.20" y1="424.30" x2="1579.80" y2="424.30" stroke="#000" stroke-width="1.8"/>
<text x="1592.00" y="88.50" font-size="23.4" text-anchor="start" fill="#000" font-weight="normal" font-style="normal" font-family="'Liberation Sans', Arial, sans-serif" >0</text>
<text x="1592.00" y="186.90" font-size="23.4" text-anchor="start" fill="#000" font-weight="normal" font-style="normal" font-family="'Liberation Sans', Arial, sans-serif" >200</text>
<text x="1592.00" y="285.30" font-size="23.4" text-anchor="start" fill="#000" font-weight="normal" font-style="normal" font-family="'Liberation Sans', Arial, sans-serif" >400</text>
<text x="1592.00" y="383.70" font-size="23.4" text-anchor="start" fill="#000" font-weight="normal" font-style="normal" font-family="'Liberation Sans', Arial, sans-serif" >600</text>
<text x="1592.00" y="482.10" font-size="23.4" text-anchor="start" fill="#000" font-weight="normal" font-style="normal" font-family="'Liberation Sans', Arial, sans-serif" >800</text>
<text x="1351.40" y="500.10" font-size="23.4" text-anchor="middle" fill="#000" font-weight="normal" font-style="normal" font-family="'Liberation Sans', Arial, sans-serif" >0</text>
<text x="1418.30" y="500.10" font-size="23.4" text-anchor="middle" fill="#000" font-weight="normal" font-style="normal" font-family="'Liberation Sans', Arial, sans-serif" >20</text>
<text x="1485.20" y="500.10" font-size="23.4" text-anchor="middle" fill="#000" font-weight="normal" font-style="normal" font-family="'Liberation Sans', Arial, sans-serif" >40</text>
<text x="1552.10" y="500.10" font-size="23.4" text-anchor="middle" fill="#000" font-weight="normal" font-style="normal" font-family="'Liberation Sans', Arial, sans-serif" >60</text>
<text x="1562.40" y="513.60" font-size="17.4" text-anchor="start" fill="#000" font-weight="normal" font-style="normal" font-family="'Liberation Sans', Arial, sans-serif" >x10<tspan font-size="11" dy="-4.9" dx="0.6">3</tspan></text>
<text x="1468.30" y="534.00" font-size="28.1" text-anchor="middle" fill="#000" font-weight="normal" font-style="normal" font-family="'Liberation Sans', Arial, sans-serif" >Counts (a.u.)</text>
<text transform="translate(1668,275.85) rotate(-90)" text-anchor="middle" font-size="28.5" font-family="'Liberation Sans', Arial, sans-serif">Sputter time (s)</text>
<polyline points="1351.40,79.90 1351.40,94.66 1351.40,109.42 1351.40,124.18 1351.40,138.94 1351.40,153.70 1351.40,168.46 1351.40,183.22 1351.40,197.98 1351.40,212.74 1351.40,227.50 1351.40,242.26 1352.74,257.02 1354.41,271.78 1356.08,286.54 1408.27,301.30 1484.20,316.06 1495.57,330.82 1501.93,345.58 1500.92,360.34 1501.93,375.10 1501.93,389.86 1503.93,404.62 1501.93,419.38 1501.93,434.14 1502.93,448.90 1503.26,463.66" fill="none" stroke="#000" stroke-width="2.6" stroke-linejoin="round"/>
<circle cx="1351.40" cy="79.90" r="5.4" fill="url(#gsr)"/>
<circle cx="1351.40" cy="94.66" r="5.4" fill="url(#gsr)"/>
<circle cx="1351.40" cy="109.42" r="5.4" fill="url(#gsr)"/>
<circle cx="1351.40" cy="124.18" r="5.4" fill="url(#gsr)"/>
<circle cx="1351.40" cy="138.94" r="5.4" fill="url(#gsr)"/>
<circle cx="1351.40" cy="153.70" r="5.4" fill="url(#gsr)"/>
<circle cx="1351.40" cy="168.46" r="5.4" fill="url(#gsr)"/>
<circle cx="1351.40" cy="183.22" r="5.4" fill="url(#gsr)"/>
<circle cx="1351.40" cy="197.98" r="5.4" fill="url(#gsr)"/>
<circle cx="1351.40" cy="212.74" r="5.4" fill="url(#gsr)"/>
<circle cx="1351.40" cy="227.50" r="5.4" fill="url(#gsr)"/>
<circle cx="1351.40" cy="242.26" r="5.4" fill="url(#gsr)"/>
<circle cx="1352.74" cy="257.02" r="5.4" fill="url(#gsr)"/>
<circle cx="1354.41" cy="271.78" r="5.4" fill="url(#gsr)"/>
<circle cx="1356.08" cy="286.54" r="5.4" fill="url(#gsr)"/>
<circle cx="1408.27" cy="301.30" r="5.4" fill="url(#gsr)"/>
<circle cx="1484.20" cy="316.06" r="5.4" fill="url(#gsr)"/>
<circle cx="1495.57" cy="330.82" r="5.4" fill="url(#gsr)"/>
<circle cx="1501.93" cy="345.58" r="5.4" fill="url(#gsr)"/>
<circle cx="1500.92" cy="360.34" r="5.4" fill="url(#gsr)"/>
<circle cx="1501.93" cy="375.10" r="5.4" fill="url(#gsr)"/>
<circle cx="1501.93" cy="389.86" r="5.4" fill="url(#gsr)"/>
<circle cx="1503.93" cy="404.62" r="5.4" fill="url(#gsr)"/>
<circle cx="1501.93" cy="419.38" r="5.4" fill="url(#gsr)"/>
<circle cx="1501.93" cy="434.14" r="5.4" fill="url(#gsr)"/>
<circle cx="1502.93" cy="448.90" r="5.4" fill="url(#gsr)"/>
<circle cx="1503.26" cy="463.66" r="5.4" fill="url(#gsr)"/>
<polyline points="1364.28,79.90 1351.40,94.66 1351.40,109.42 1351.40,124.18 1351.40,138.94 1351.40,153.70 1351.40,168.46 1351.40,183.22 1351.40,197.98 1351.40,212.74 1351.40,227.50 1351.40,242.26 1351.40,257.02 1351.40,271.78 1351.40,286.54 1351.40,301.30 1351.40,316.06 1351.40,330.82 1351.40,345.58 1351.40,360.34 1351.40,375.10 1351.40,389.86 1351.40,404.62 1351.40,419.38 1351.40,434.14 1351.40,448.90 1351.40,463.66" fill="none" stroke="#ff8000" stroke-width="2.6" stroke-linejoin="round"/>
<circle cx="1364.28" cy="79.90" r="5.4" fill="url(#gli)"/>
<circle cx="1351.40" cy="94.66" r="5.4" fill="url(#gli)"/>
<circle cx="1351.40" cy="109.42" r="5.4" fill="url(#gli)"/>
<circle cx="1351.40" cy="124.18" r="5.4" fill="url(#gli)"/>
<circle cx="1351.40" cy="138.94" r="5.4" fill="url(#gli)"/>
<circle cx="1351.40" cy="153.70" r="5.4" fill="url(#gli)"/>
<circle cx="1351.40" cy="168.46" r="5.4" fill="url(#gli)"/>
<circle cx="1351.40" cy="183.22" r="5.4" fill="url(#gli)"/>
<circle cx="1351.40" cy="197.98" r="5.4" fill="url(#gli)"/>
<circle cx="1351.40" cy="212.74" r="5.4" fill="url(#gli)"/>
<circle cx="1351.40" cy="227.50" r="5.4" fill="url(#gli)"/>
<circle cx="1351.40" cy="242.26" r="5.4" fill="url(#gli)"/>
<circle cx="1351.40" cy="257.02" r="5.4" fill="url(#gli)"/>
<circle cx="1351.40" cy="271.78" r="5.4" fill="url(#gli)"/>
<circle cx="1351.40" cy="286.54" r="5.4" fill="url(#gli)"/>
<circle cx="1351.40" cy="301.30" r="5.4" fill="url(#gli)"/>
<circle cx="1351.40" cy="316.06" r="5.4" fill="url(#gli)"/>
<circle cx="1351.40" cy="330.82" r="5.4" fill="url(#gli)"/>
<circle cx="1351.40" cy="345.58" r="5.4" fill="url(#gli)"/>
<circle cx="1351.40" cy="360.34" r="5.4" fill="url(#gli)"/>
<circle cx="1351.40" cy="375.10" r="5.4" fill="url(#gli)"/>
<circle cx="1351.40" cy="389.86" r="5.4" fill="url(#gli)"/>
<circle cx="1351.40" cy="404.62" r="5.4" fill="url(#gli)"/>
<circle cx="1351.40" cy="419.38" r="5.4" fill="url(#gli)"/>
<circle cx="1351.40" cy="434.14" r="5.4" fill="url(#gli)"/>
<circle cx="1351.40" cy="448.90" r="5.4" fill="url(#gli)"/>
<circle cx="1351.40" cy="463.66" r="5.4" fill="url(#gli)"/>
<rect x="1351.4" y="564.9" width="233.8" height="393.7" fill="none" stroke="#000" stroke-width="2"/>
<line x1="1384.85" y1="564.90" x2="1384.85" y2="570.30" stroke="#000" stroke-width="1.8"/>
<line x1="1384.85" y1="958.60" x2="1384.85" y2="953.20" stroke="#000" stroke-width="1.8"/>
<line x1="1418.30" y1="564.90" x2="1418.30" y2="575.60" stroke="#000" stroke-width="1.8"/>
<line x1="1418.30" y1="958.60" x2="1418.30" y2="947.90" stroke="#000" stroke-width="1.8"/>
<line x1="1451.75" y1="564.90" x2="1451.75" y2="570.30" stroke="#000" stroke-width="1.8"/>
<line x1="1451.75" y1="958.60" x2="1451.75" y2="953.20" stroke="#000" stroke-width="1.8"/>
<line x1="1485.20" y1="564.90" x2="1485.20" y2="575.60" stroke="#000" stroke-width="1.8"/>
<line x1="1485.20" y1="958.60" x2="1485.20" y2="947.90" stroke="#000" stroke-width="1.8"/>
<line x1="1518.65" y1="564.90" x2="1518.65" y2="570.30" stroke="#000" stroke-width="1.8"/>
<line x1="1518.65" y1="958.60" x2="1518.65" y2="953.20" stroke="#000" stroke-width="1.8"/>
<line x1="1552.10" y1="564.90" x2="1552.10" y2="575.60" stroke="#000" stroke-width="1.8"/>
<line x1="1552.10" y1="958.60" x2="1552.10" y2="947.90" stroke="#000" stroke-width="1.8"/>
<line x1="1351.40" y1="614.11" x2="1356.80" y2="614.11" stroke="#000" stroke-width="1.8"/>
<line x1="1585.20" y1="614.11" x2="1579.80" y2="614.11" stroke="#000" stroke-width="1.8"/>
<line x1="1351.40" y1="663.33" x2="1362.10" y2="663.33" stroke="#000" stroke-width="1.8"/>
<line x1="1585.20" y1="663.33" x2="1574.50" y2="663.33" stroke="#000" stroke-width="1.8"/>
<line x1="1351.40" y1="712.54" x2="1356.80" y2="712.54" stroke="#000" stroke-width="1.8"/>
<line x1="1585.20" y1="712.54" x2="1579.80" y2="712.54" stroke="#000" stroke-width="1.8"/>
<line x1="1351.40" y1="761.75" x2="1362.10" y2="761.75" stroke="#000" stroke-width="1.8"/>
<line x1="1585.20" y1="761.75" x2="1574.50" y2="761.75" stroke="#000" stroke-width="1.8"/>
<line x1="1351.40" y1="810.96" x2="1356.80" y2="810.96" stroke="#000" stroke-width="1.8"/>
<line x1="1585.20" y1="810.96" x2="1579.80" y2="810.96" stroke="#000" stroke-width="1.8"/>
<line x1="1351.40" y1="860.17" x2="1362.10" y2="860.17" stroke="#000" stroke-width="1.8"/>
<line x1="1585.20" y1="860.17" x2="1574.50" y2="860.17" stroke="#000" stroke-width="1.8"/>
<line x1="1351.40" y1="909.39" x2="1356.80" y2="909.39" stroke="#000" stroke-width="1.8"/>
<line x1="1585.20" y1="909.39" x2="1579.80" y2="909.39" stroke="#000" stroke-width="1.8"/>
<text x="1592.00" y="573.50" font-size="23.4" text-anchor="start" fill="#000" font-weight="normal" font-style="normal" font-family="'Liberation Sans', Arial, sans-serif" >0</text>
<text x="1592.00" y="671.93" font-size="23.4" text-anchor="start" fill="#000" font-weight="normal" font-style="normal" font-family="'Liberation Sans', Arial, sans-serif" >200</text>
<text x="1592.00" y="770.35" font-size="23.4" text-anchor="start" fill="#000" font-weight="normal" font-style="normal" font-family="'Liberation Sans', Arial, sans-serif" >400</text>
<text x="1592.00" y="868.77" font-size="23.4" text-anchor="start" fill="#000" font-weight="normal" font-style="normal" font-family="'Liberation Sans', Arial, sans-serif" >600</text>
<text x="1592.00" y="967.20" font-size="23.4" text-anchor="start" fill="#000" font-weight="normal" font-style="normal" font-family="'Liberation Sans', Arial, sans-serif" >800</text>
<text x="1351.40" y="985.20" font-size="23.4" text-anchor="middle" fill="#000" font-weight="normal" font-style="normal" font-family="'Liberation Sans', Arial, sans-serif" >0</text>
<text x="1418.30" y="985.20" font-size="23.4" text-anchor="middle" fill="#000" font-weight="normal" font-style="normal" font-family="'Liberation Sans', Arial, sans-serif" >20</text>
<text x="1485.20" y="985.20" font-size="23.4" text-anchor="middle" fill="#000" font-weight="normal" font-style="normal" font-family="'Liberation Sans', Arial, sans-serif" >40</text>
<text x="1552.10" y="985.20" font-size="23.4" text-anchor="middle" fill="#000" font-weight="normal" font-style="normal" font-family="'Liberation Sans', Arial, sans-serif" >60</text>
<text x="1562.40" y="998.70" font-size="17.4" text-anchor="start" fill="#000" font-weight="normal" font-style="normal" font-family="'Liberation Sans', Arial, sans-serif" >x10<tspan font-size="11" dy="-4.9" dx="0.6">3</tspan></text>
<text x="1468.30" y="1019.10" font-size="28.1" text-anchor="middle" fill="#000" font-weight="normal" font-style="normal" font-family="'Liberation Sans', Arial, sans-serif" >Counts (a.u.)</text>
<text transform="translate(1668,760.85) rotate(-90)" text-anchor="middle" font-size="28.5" font-family="'Liberation Sans', Arial, sans-serif">Sputter time (s)</text>
<polyline points="1351.40,564.90 1351.40,579.66 1351.40,594.43 1351.40,609.19 1351.40,623.95 1351.40,638.72 1351.40,653.48 1351.40,668.25 1351.40,683.01 1351.40,697.77 1351.40,712.54 1351.40,727.30 1351.40,742.07 1351.40,756.83 1351.40,771.59 1351.40,786.36 1402.24,801.12 1472.15,815.88 1496.57,830.65 1503.60,845.41 1506.61,860.17 1507.61,874.94 1507.61,889.70 1508.28,904.47 1508.28,919.23 1508.28,933.99 1508.28,948.76" fill="none" stroke="#000" stroke-width="2.6" stroke-linejoin="round"/>
<circle cx="1351.40" cy="564.90" r="5.4" fill="url(#gsr)"/>
<circle cx="1351.40" cy="579.66" r="5.4" fill="url(#gsr)"/>
<circle cx="1351.40" cy="594.43" r="5.4" fill="url(#gsr)"/>
<circle cx="1351.40" cy="609.19" r="5.4" fill="url(#gsr)"/>
<circle cx="1351.40" cy="623.95" r="5.4" fill="url(#gsr)"/>
<circle cx="1351.40" cy="638.72" r="5.4" fill="url(#gsr)"/>
<circle cx="1351.40" cy="653.48" r="5.4" fill="url(#gsr)"/>
<circle cx="1351.40" cy="668.25" r="5.4" fill="url(#gsr)"/>
<circle cx="1351.40" cy="683.01" r="5.4" fill="url(#gsr)"/>
<circle cx="1351.40" cy="697.77" r="5.4" fill="url(#gsr)"/>
<circle cx="1351.40" cy="712.54" r="5.4" fill="url(#gsr)"/>
<circle cx="1351.40" cy="727.30" r="5.4" fill="url(#gsr)"/>
<circle cx="1351.40" cy="742.07" r="5.4" fill="url(#gsr)"/>
<circle cx="1351.40" cy="756.83" r="5.4" fill="url(#gsr)"/>
<circle cx="1351.40" cy="771.59" r="5.4" fill="url(#gsr)"/>
<circle cx="1351.40" cy="786.36" r="5.4" fill="url(#gsr)"/>
<circle cx="1402.24" cy="801.12" r="5.4" fill="url(#gsr)"/>
<circle cx="1472.15" cy="815.88" r="5.4" fill="url(#gsr)"/>
<circle cx="1496.57" cy="830.65" r="5.4" fill="url(#gsr)"/>
<circle cx="1503.60" cy="845.41" r="5.4" fill="url(#gsr)"/>
<circle cx="1506.61" cy="860.17" r="5.4" fill="url(#gsr)"/>
<circle cx="1507.61" cy="874.94" r="5.4" fill="url(#gsr)"/>
<circle cx="1507.61" cy="889.70" r="5.4" fill="url(#gsr)"/>
<circle cx="1508.28" cy="904.47" r="5.4" fill="url(#gsr)"/>
<circle cx="1508.28" cy="919.23" r="5.4" fill="url(#gsr)"/>
<circle cx="1508.28" cy="933.99" r="5.4" fill="url(#gsr)"/>
<circle cx="1508.28" cy="948.76" r="5.4" fill="url(#gsr)"/>
<polyline points="1560.80,564.90 1543.07,579.66 1465.13,594.43 1408.27,609.19 1381.17,623.95 1368.79,638.72 1361.10,653.48 1357.09,668.25 1355.08,683.01 1354.08,697.77 1353.41,712.54 1353.07,727.30 1352.74,742.07 1352.74,756.83 1352.40,771.59 1352.40,786.36 1352.07,801.12 1352.07,815.88 1352.07,830.65 1352.07,845.41 1352.07,860.17 1352.07,874.94 1352.07,889.70 1352.07,904.47 1352.07,919.23 1352.07,933.99 1352.07,948.76" fill="none" stroke="#ff8000" stroke-width="2.6" stroke-linejoin="round"/>
<circle cx="1560.80" cy="564.90" r="5.4" fill="url(#gli)"/>
<circle cx="1543.07" cy="579.66" r="5.4" fill="url(#gli)"/>
<circle cx="1465.13" cy="594.43" r="5.4" fill="url(#gli)"/>
<circle cx="1408.27" cy="609.19" r="5.4" fill="url(#gli)"/>
<circle cx="1381.17" cy="623.95" r="5.4" fill="url(#gli)"/>
<circle cx="1368.79" cy="638.72" r="5.4" fill="url(#gli)"/>
<circle cx="1361.10" cy="653.48" r="5.4" fill="url(#gli)"/>
<circle cx="1357.09" cy="668.25" r="5.4" fill="url(#gli)"/>
<circle cx="1355.08" cy="683.01" r="5.4" fill="url(#gli)"/>
<circle cx="1354.08" cy="697.77" r="5.4" fill="url(#gli)"/>
<circle cx="1353.41" cy="712.54" r="5.4" fill="url(#gli)"/>
<circle cx="1353.07" cy="727.30" r="5.4" fill="url(#gli)"/>
<circle cx="1352.74" cy="742.07" r="5.4" fill="url(#gli)"/>
<circle cx="1352.74" cy="756.83" r="5.4" fill="url(#gli)"/>
<circle cx="1352.40" cy="771.59" r="5.4" fill="url(#gli)"/>
<circle cx="1352.40" cy="786.36" r="5.4" fill="url(#gli)"/>
<circle cx="1352.07" cy="801.12" r="5.4" fill="url(#gli)"/>
<circle cx="1352.07" cy="815.88" r="5.4" fill="url(#gli)"/>
<circle cx="1352.07" cy="830.65" r="5.4" fill="url(#gli)"/>
<circle cx="1352.07" cy="845.41" r="5.4" fill="url(#gli)"/>
<circle cx="1352.07" cy="860.17" r="5.4" fill="url(#gli)"/>
<circle cx="1352.07" cy="874.94" r="5.4" fill="url(#gli)"/>
<circle cx="1352.07" cy="889.70" r="5.4" fill="url(#gli)"/>
<circle cx="1352.07" cy="904.47" r="5.4" fill="url(#gli)"/>
<circle cx="1352.07" cy="919.23" r="5.4" fill="url(#gli)"/>
<circle cx="1352.07" cy="933.99" r="5.4" fill="url(#gli)"/>
<circle cx="1352.07" cy="948.76" r="5.4" fill="url(#gli)"/>
<rect x="1444.6" y="100.8" width="117.5" height="68.7" fill="#fff" stroke="#333" stroke-width="1"/>
<line x1="1455" y1="119.1" x2="1514.5" y2="119.1" stroke="#ff8000" stroke-width="2.6"/>
<circle cx="1484.6" cy="119.1" r="5.4" fill="url(#gli)"/>
<line x1="1455" y1="150.6" x2="1514.5" y2="150.6" stroke="#000" stroke-width="2.6"/>
<circle cx="1484.6" cy="150.6" r="5.4" fill="url(#gsr)"/>
<text x="1520.70" y="130.60" font-size="28" text-anchor="start" fill="#000" font-weight="normal" font-style="normal" font-family="'Liberation Sans', Arial, sans-serif" >Li</text>
<text x="1520.70" y="163.00" font-size="28" text-anchor="start" fill="#000" font-weight="normal" font-style="normal" font-family="'Liberation Sans', Arial, sans-serif" >Sr</text>
<text x="629.00" y="35.80" font-size="42" text-anchor="start" fill="#000" font-weight="bold" font-style="normal" font-family="'Liberation Sans', Arial, sans-serif" >(b)</text>
<text x="628.90" y="589.20" font-size="42" text-anchor="start" fill="#000" font-weight="bold" font-style="normal" font-family="'Liberation Sans', Arial, sans-serif" >(c)</text>
<text x="1625.80" y="35.70" font-size="42" text-anchor="start" fill="#000" font-weight="bold" font-style="normal" font-family="'Liberation Sans', Arial, sans-serif" >(d)</text>
<text x="1625.80" y="589.10" font-size="42" text-anchor="start" fill="#000" font-weight="bold" font-style="normal" font-family="'Liberation Sans', Arial, sans-serif" >(e)</text>
<text transform="translate(651.3,277.6) rotate(-90)" text-anchor="middle" font-size="33.5" font-family="'Liberation Sans', Arial, sans-serif" text-decoration="underline">Undoped region</text>
<text transform="translate(651.3,758.6) rotate(-90)" text-anchor="middle" font-size="33.5" font-family="'Liberation Sans', Arial, sans-serif" text-decoration="underline">Li-doped region</text>
<text x="1368.50" y="230.40" font-size="25.25" text-anchor="start" fill="#000" font-weight="normal" font-style="normal" font-family="'Liberation Sans', Arial, sans-serif" >Undoped NdNiO<tspan font-size="16.8" dy="5.2" dx="0.8">3</tspan></text>
<text x="1417.90" y="636.90" font-size="25.5" text-anchor="start" fill="#000" font-weight="normal" font-style="normal" font-family="'Liberation Sans', Arial, sans-serif" >Li-doped</text>
<text x="1374.70" y="753.40" font-size="25.5" text-anchor="start" fill="#000" font-weight="normal" font-style="normal" font-family="'Liberation Sans', Arial, sans-serif" >Undoped NdNiO<tspan font-size="16.8" dy="5.2" dx="0.8">3</tspan></text>
<text x="1187.90" y="398.30" font-size="25.2" text-anchor="start" fill="#000" font-weight="normal" font-style="normal" font-family="'Liberation Sans', Arial, sans-serif" >Nb:SrTiO<tspan font-size="15.5" dy="5.4" dx="2.5">3</tspan></text>
<text x="1187.90" y="890.80" font-size="25.2" text-anchor="start" fill="#000" font-weight="normal" font-style="normal" font-family="'Liberation Sans', Arial, sans-serif" >Nb:SrTiO<tspan font-size="15.5" dy="5.4" dx="2.5">3</tspan></text></svg></body></html>
